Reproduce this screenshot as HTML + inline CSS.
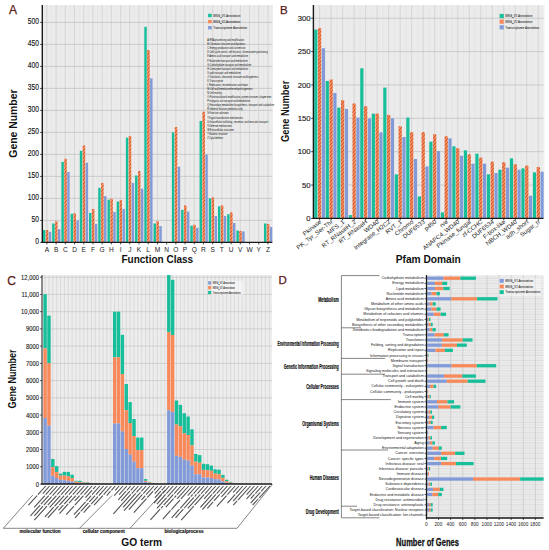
<!DOCTYPE html><html><head><meta charset="utf-8"><style>html,body{margin:0;padding:0;background:#fff;}svg{display:block;font-family:"Liberation Sans",sans-serif;}</style></head><body><svg width="549" height="550" viewBox="0 0 549 550" font-family='"Liberation Sans", sans-serif'>
<rect x="0.00" y="0.00" width="549.00" height="550.00" fill="#ffffff"/>
<rect x="42.30" y="5.00" width="230.00" height="237.40" fill="#ebebeb"/>
<line x1="51.50" y1="5.00" x2="51.48" y2="242.40" stroke="#e0e0e0" stroke-width="0.5"/>
<line x1="60.72" y1="5.00" x2="60.70" y2="242.40" stroke="#e0e0e0" stroke-width="0.5"/>
<line x1="69.92" y1="5.00" x2="69.90" y2="242.40" stroke="#e0e0e0" stroke-width="0.5"/>
<line x1="79.14" y1="5.00" x2="79.11" y2="242.40" stroke="#e0e0e0" stroke-width="0.5"/>
<line x1="88.35" y1="5.00" x2="88.33" y2="242.40" stroke="#e0e0e0" stroke-width="0.5"/>
<line x1="97.56" y1="5.00" x2="97.53" y2="242.40" stroke="#e0e0e0" stroke-width="0.5"/>
<line x1="106.77" y1="5.00" x2="106.74" y2="242.40" stroke="#e0e0e0" stroke-width="0.5"/>
<line x1="115.98" y1="5.00" x2="115.95" y2="242.40" stroke="#e0e0e0" stroke-width="0.5"/>
<line x1="125.19" y1="5.00" x2="125.17" y2="242.40" stroke="#e0e0e0" stroke-width="0.5"/>
<line x1="134.40" y1="5.00" x2="134.38" y2="242.40" stroke="#e0e0e0" stroke-width="0.5"/>
<line x1="143.60" y1="5.00" x2="143.59" y2="242.40" stroke="#e0e0e0" stroke-width="0.5"/>
<line x1="152.81" y1="5.00" x2="152.80" y2="242.40" stroke="#e0e0e0" stroke-width="0.5"/>
<line x1="162.03" y1="5.00" x2="162.01" y2="242.40" stroke="#e0e0e0" stroke-width="0.5"/>
<line x1="171.24" y1="5.00" x2="171.22" y2="242.40" stroke="#e0e0e0" stroke-width="0.5"/>
<line x1="180.44" y1="5.00" x2="180.43" y2="242.40" stroke="#e0e0e0" stroke-width="0.5"/>
<line x1="189.66" y1="5.00" x2="189.64" y2="242.40" stroke="#e0e0e0" stroke-width="0.5"/>
<line x1="198.87" y1="5.00" x2="198.85" y2="242.40" stroke="#e0e0e0" stroke-width="0.5"/>
<line x1="208.08" y1="5.00" x2="208.06" y2="242.40" stroke="#e0e0e0" stroke-width="0.5"/>
<line x1="217.29" y1="5.00" x2="217.27" y2="242.40" stroke="#e0e0e0" stroke-width="0.5"/>
<line x1="226.50" y1="5.00" x2="226.48" y2="242.40" stroke="#e0e0e0" stroke-width="0.5"/>
<line x1="235.71" y1="5.00" x2="235.69" y2="242.40" stroke="#e0e0e0" stroke-width="0.5"/>
<line x1="244.92" y1="5.00" x2="244.90" y2="242.40" stroke="#e0e0e0" stroke-width="0.5"/>
<line x1="254.12" y1="5.00" x2="254.11" y2="242.40" stroke="#e0e0e0" stroke-width="0.5"/>
<line x1="263.34" y1="5.00" x2="263.31" y2="242.40" stroke="#e0e0e0" stroke-width="0.5"/>
<line x1="272.55" y1="5.00" x2="272.52" y2="242.40" stroke="#e0e0e0" stroke-width="0.5"/>
<line x1="46.90" y1="5.00" x2="46.90" y2="242.40" stroke="#cdcdcd" stroke-width="0.7"/>
<line x1="56.11" y1="5.00" x2="56.11" y2="242.40" stroke="#cdcdcd" stroke-width="0.7"/>
<line x1="65.32" y1="5.00" x2="65.32" y2="242.40" stroke="#cdcdcd" stroke-width="0.7"/>
<line x1="74.53" y1="5.00" x2="74.53" y2="242.40" stroke="#cdcdcd" stroke-width="0.7"/>
<line x1="83.74" y1="5.00" x2="83.74" y2="242.40" stroke="#cdcdcd" stroke-width="0.7"/>
<line x1="92.95" y1="5.00" x2="92.95" y2="242.40" stroke="#cdcdcd" stroke-width="0.7"/>
<line x1="102.16" y1="5.00" x2="102.16" y2="242.40" stroke="#cdcdcd" stroke-width="0.7"/>
<line x1="111.37" y1="5.00" x2="111.37" y2="242.40" stroke="#cdcdcd" stroke-width="0.7"/>
<line x1="120.58" y1="5.00" x2="120.58" y2="242.40" stroke="#cdcdcd" stroke-width="0.7"/>
<line x1="129.79" y1="5.00" x2="129.79" y2="242.40" stroke="#cdcdcd" stroke-width="0.7"/>
<line x1="139.00" y1="5.00" x2="139.00" y2="242.40" stroke="#cdcdcd" stroke-width="0.7"/>
<line x1="148.21" y1="5.00" x2="148.21" y2="242.40" stroke="#cdcdcd" stroke-width="0.7"/>
<line x1="157.42" y1="5.00" x2="157.42" y2="242.40" stroke="#cdcdcd" stroke-width="0.7"/>
<line x1="166.63" y1="5.00" x2="166.63" y2="242.40" stroke="#cdcdcd" stroke-width="0.7"/>
<line x1="175.84" y1="5.00" x2="175.84" y2="242.40" stroke="#cdcdcd" stroke-width="0.7"/>
<line x1="185.05" y1="5.00" x2="185.05" y2="242.40" stroke="#cdcdcd" stroke-width="0.7"/>
<line x1="194.26" y1="5.00" x2="194.26" y2="242.40" stroke="#cdcdcd" stroke-width="0.7"/>
<line x1="203.47" y1="5.00" x2="203.47" y2="242.40" stroke="#cdcdcd" stroke-width="0.7"/>
<line x1="212.68" y1="5.00" x2="212.68" y2="242.40" stroke="#cdcdcd" stroke-width="0.7"/>
<line x1="221.89" y1="5.00" x2="221.89" y2="242.40" stroke="#cdcdcd" stroke-width="0.7"/>
<line x1="231.10" y1="5.00" x2="231.10" y2="242.40" stroke="#cdcdcd" stroke-width="0.7"/>
<line x1="240.31" y1="5.00" x2="240.31" y2="242.40" stroke="#cdcdcd" stroke-width="0.7"/>
<line x1="249.52" y1="5.00" x2="249.52" y2="242.40" stroke="#cdcdcd" stroke-width="0.7"/>
<line x1="258.73" y1="5.00" x2="258.73" y2="242.40" stroke="#cdcdcd" stroke-width="0.7"/>
<line x1="267.94" y1="5.00" x2="267.94" y2="242.40" stroke="#cdcdcd" stroke-width="0.7"/>
<line x1="42.30" y1="220.40" x2="272.30" y2="220.40" stroke="#bdbdbd" stroke-width="0.7"/>
<line x1="42.30" y1="198.40" x2="272.30" y2="198.40" stroke="#bdbdbd" stroke-width="0.7"/>
<line x1="42.30" y1="176.40" x2="272.30" y2="176.40" stroke="#bdbdbd" stroke-width="0.7"/>
<line x1="42.30" y1="154.40" x2="272.30" y2="154.40" stroke="#bdbdbd" stroke-width="0.7"/>
<line x1="42.30" y1="132.40" x2="272.30" y2="132.40" stroke="#bdbdbd" stroke-width="0.7"/>
<line x1="42.30" y1="110.40" x2="272.30" y2="110.40" stroke="#bdbdbd" stroke-width="0.7"/>
<line x1="42.30" y1="88.40" x2="272.30" y2="88.40" stroke="#bdbdbd" stroke-width="0.7"/>
<line x1="42.30" y1="66.40" x2="272.30" y2="66.40" stroke="#bdbdbd" stroke-width="0.7"/>
<line x1="42.30" y1="44.40" x2="272.30" y2="44.40" stroke="#bdbdbd" stroke-width="0.7"/>
<line x1="42.30" y1="22.40" x2="272.30" y2="22.40" stroke="#bdbdbd" stroke-width="0.7"/>
<rect x="42.97" y="230.08" width="2.45" height="12.32" fill="#17be9a"/>
<rect x="45.88" y="230.08" width="2.45" height="12.32" fill="#f7895a"/>
<rect x="48.77" y="231.84" width="2.45" height="10.56" fill="#829bd8"/>
<rect x="52.18" y="223.48" width="2.45" height="18.92" fill="#17be9a"/>
<rect x="55.09" y="221.28" width="2.45" height="21.12" fill="#f7895a"/>
<rect x="57.98" y="229.20" width="2.45" height="13.20" fill="#829bd8"/>
<rect x="61.39" y="161.88" width="2.45" height="80.52" fill="#17be9a"/>
<rect x="64.30" y="158.80" width="2.45" height="83.60" fill="#f7895a"/>
<rect x="67.19" y="172.00" width="2.45" height="70.40" fill="#829bd8"/>
<rect x="70.61" y="213.80" width="2.45" height="28.60" fill="#17be9a"/>
<rect x="73.51" y="213.36" width="2.45" height="29.04" fill="#f7895a"/>
<rect x="76.41" y="220.40" width="2.45" height="22.00" fill="#829bd8"/>
<rect x="79.82" y="150.88" width="2.45" height="91.52" fill="#17be9a"/>
<rect x="82.72" y="145.60" width="2.45" height="96.80" fill="#f7895a"/>
<rect x="85.62" y="162.76" width="2.45" height="79.64" fill="#829bd8"/>
<rect x="89.03" y="212.92" width="2.45" height="29.48" fill="#17be9a"/>
<rect x="91.93" y="208.96" width="2.45" height="33.44" fill="#f7895a"/>
<rect x="94.83" y="223.92" width="2.45" height="18.48" fill="#829bd8"/>
<rect x="98.23" y="187.84" width="2.45" height="54.56" fill="#17be9a"/>
<rect x="101.14" y="183.00" width="2.45" height="59.40" fill="#f7895a"/>
<rect x="104.03" y="196.20" width="2.45" height="46.20" fill="#829bd8"/>
<rect x="107.45" y="199.72" width="2.45" height="42.68" fill="#17be9a"/>
<rect x="110.35" y="198.84" width="2.45" height="43.56" fill="#f7895a"/>
<rect x="113.25" y="212.04" width="2.45" height="30.36" fill="#829bd8"/>
<rect x="116.66" y="201.48" width="2.45" height="40.92" fill="#17be9a"/>
<rect x="119.56" y="200.16" width="2.45" height="42.24" fill="#f7895a"/>
<rect x="122.46" y="208.96" width="2.45" height="33.44" fill="#829bd8"/>
<rect x="125.87" y="137.68" width="2.45" height="104.72" fill="#17be9a"/>
<rect x="128.77" y="135.92" width="2.45" height="106.48" fill="#f7895a"/>
<rect x="131.67" y="183.00" width="2.45" height="59.40" fill="#829bd8"/>
<rect x="135.08" y="175.52" width="2.45" height="66.88" fill="#17be9a"/>
<rect x="137.97" y="171.12" width="2.45" height="71.28" fill="#f7895a"/>
<rect x="140.88" y="188.72" width="2.45" height="53.68" fill="#829bd8"/>
<rect x="144.29" y="26.80" width="2.45" height="215.60" fill="#17be9a"/>
<rect x="147.19" y="50.12" width="2.45" height="192.28" fill="#f7895a"/>
<rect x="150.09" y="78.28" width="2.45" height="164.12" fill="#829bd8"/>
<rect x="153.50" y="223.48" width="2.45" height="18.92" fill="#17be9a"/>
<rect x="156.40" y="221.28" width="2.45" height="21.12" fill="#f7895a"/>
<rect x="159.30" y="226.12" width="2.45" height="16.28" fill="#829bd8"/>
<rect x="171.92" y="132.40" width="2.45" height="110.00" fill="#17be9a"/>
<rect x="174.81" y="127.12" width="2.45" height="115.28" fill="#f7895a"/>
<rect x="177.72" y="166.72" width="2.45" height="75.68" fill="#829bd8"/>
<rect x="181.13" y="209.84" width="2.45" height="32.56" fill="#17be9a"/>
<rect x="184.03" y="205.44" width="2.45" height="36.96" fill="#f7895a"/>
<rect x="186.93" y="211.60" width="2.45" height="30.80" fill="#829bd8"/>
<rect x="190.34" y="225.68" width="2.45" height="16.72" fill="#17be9a"/>
<rect x="193.24" y="224.80" width="2.45" height="17.60" fill="#f7895a"/>
<rect x="196.14" y="227.88" width="2.45" height="14.52" fill="#829bd8"/>
<rect x="199.55" y="120.96" width="2.45" height="121.44" fill="#17be9a"/>
<rect x="202.45" y="111.72" width="2.45" height="130.68" fill="#f7895a"/>
<rect x="205.35" y="154.40" width="2.45" height="88.00" fill="#829bd8"/>
<rect x="208.76" y="198.40" width="2.45" height="44.00" fill="#17be9a"/>
<rect x="211.66" y="197.52" width="2.45" height="44.88" fill="#f7895a"/>
<rect x="214.56" y="216.00" width="2.45" height="26.40" fill="#829bd8"/>
<rect x="217.97" y="206.32" width="2.45" height="36.08" fill="#17be9a"/>
<rect x="220.87" y="205.44" width="2.45" height="36.96" fill="#f7895a"/>
<rect x="223.77" y="216.00" width="2.45" height="26.40" fill="#829bd8"/>
<rect x="227.18" y="214.24" width="2.45" height="28.16" fill="#17be9a"/>
<rect x="230.08" y="212.48" width="2.45" height="29.92" fill="#f7895a"/>
<rect x="232.98" y="223.04" width="2.45" height="19.36" fill="#829bd8"/>
<rect x="236.39" y="230.52" width="2.45" height="11.88" fill="#17be9a"/>
<rect x="239.29" y="230.96" width="2.45" height="11.44" fill="#f7895a"/>
<rect x="242.19" y="231.40" width="2.45" height="11.00" fill="#829bd8"/>
<rect x="264.01" y="223.48" width="2.45" height="18.92" fill="#17be9a"/>
<rect x="266.91" y="223.92" width="2.45" height="18.48" fill="#f7895a"/>
<rect x="269.81" y="227.00" width="2.45" height="15.40" fill="#829bd8"/>
<clipPath id="clipA"><rect x="45.88" y="230.08" width="2.45" height="12.32"/><rect x="55.09" y="221.28" width="2.45" height="21.12"/><rect x="64.30" y="158.80" width="2.45" height="83.60"/><rect x="73.51" y="213.36" width="2.45" height="29.04"/><rect x="82.72" y="145.60" width="2.45" height="96.80"/><rect x="91.93" y="208.96" width="2.45" height="33.44"/><rect x="101.14" y="183.00" width="2.45" height="59.40"/><rect x="110.35" y="198.84" width="2.45" height="43.56"/><rect x="119.56" y="200.16" width="2.45" height="42.24"/><rect x="128.77" y="135.92" width="2.45" height="106.48"/><rect x="137.97" y="171.12" width="2.45" height="71.28"/><rect x="147.19" y="50.12" width="2.45" height="192.28"/><rect x="156.40" y="221.28" width="2.45" height="21.12"/><rect x="165.61" y="242.40" width="2.45" height="0.00"/><rect x="174.81" y="127.12" width="2.45" height="115.28"/><rect x="184.03" y="205.44" width="2.45" height="36.96"/><rect x="193.24" y="224.80" width="2.45" height="17.60"/><rect x="202.45" y="111.72" width="2.45" height="130.68"/><rect x="211.66" y="197.52" width="2.45" height="44.88"/><rect x="220.87" y="205.44" width="2.45" height="36.96"/><rect x="230.08" y="212.48" width="2.45" height="29.92"/><rect x="239.29" y="230.96" width="2.45" height="11.44"/><rect x="248.50" y="242.40" width="2.45" height="0.00"/><rect x="257.70" y="242.40" width="2.45" height="0.00"/><rect x="266.91" y="223.92" width="2.45" height="18.48"/></clipPath>
<g clip-path="url(#clipA)" stroke="#bb4a22" stroke-width="0.85">
<line x1="45.38" y1="244.40" x2="48.83" y2="240.29"/>
<line x1="45.38" y1="240.70" x2="48.83" y2="236.59"/>
<line x1="45.38" y1="237.00" x2="48.83" y2="232.89"/>
<line x1="45.38" y1="233.30" x2="48.83" y2="229.19"/>
<line x1="54.59" y1="244.40" x2="58.04" y2="240.29"/>
<line x1="54.59" y1="240.70" x2="58.04" y2="236.59"/>
<line x1="54.59" y1="237.00" x2="58.04" y2="232.89"/>
<line x1="54.59" y1="233.30" x2="58.04" y2="229.19"/>
<line x1="54.59" y1="229.60" x2="58.04" y2="225.49"/>
<line x1="54.59" y1="225.90" x2="58.04" y2="221.79"/>
<line x1="54.59" y1="222.20" x2="58.04" y2="218.09"/>
<line x1="63.80" y1="244.40" x2="67.25" y2="240.29"/>
<line x1="63.80" y1="240.70" x2="67.25" y2="236.59"/>
<line x1="63.80" y1="237.00" x2="67.25" y2="232.89"/>
<line x1="63.80" y1="233.30" x2="67.25" y2="229.19"/>
<line x1="63.80" y1="229.60" x2="67.25" y2="225.49"/>
<line x1="63.80" y1="225.90" x2="67.25" y2="221.79"/>
<line x1="63.80" y1="222.20" x2="67.25" y2="218.09"/>
<line x1="63.80" y1="218.50" x2="67.25" y2="214.39"/>
<line x1="63.80" y1="214.80" x2="67.25" y2="210.69"/>
<line x1="63.80" y1="211.10" x2="67.25" y2="206.99"/>
<line x1="63.80" y1="207.40" x2="67.25" y2="203.29"/>
<line x1="63.80" y1="203.70" x2="67.25" y2="199.59"/>
<line x1="63.80" y1="200.00" x2="67.25" y2="195.89"/>
<line x1="63.80" y1="196.30" x2="67.25" y2="192.19"/>
<line x1="63.80" y1="192.60" x2="67.25" y2="188.49"/>
<line x1="63.80" y1="188.90" x2="67.25" y2="184.79"/>
<line x1="63.80" y1="185.20" x2="67.25" y2="181.09"/>
<line x1="63.80" y1="181.50" x2="67.25" y2="177.39"/>
<line x1="63.80" y1="177.80" x2="67.25" y2="173.69"/>
<line x1="63.80" y1="174.10" x2="67.25" y2="169.99"/>
<line x1="63.80" y1="170.40" x2="67.25" y2="166.29"/>
<line x1="63.80" y1="166.70" x2="67.25" y2="162.59"/>
<line x1="63.80" y1="163.00" x2="67.25" y2="158.89"/>
<line x1="63.80" y1="159.30" x2="67.25" y2="155.19"/>
<line x1="73.01" y1="244.40" x2="76.46" y2="240.29"/>
<line x1="73.01" y1="240.70" x2="76.46" y2="236.59"/>
<line x1="73.01" y1="237.00" x2="76.46" y2="232.89"/>
<line x1="73.01" y1="233.30" x2="76.46" y2="229.19"/>
<line x1="73.01" y1="229.60" x2="76.46" y2="225.49"/>
<line x1="73.01" y1="225.90" x2="76.46" y2="221.79"/>
<line x1="73.01" y1="222.20" x2="76.46" y2="218.09"/>
<line x1="73.01" y1="218.50" x2="76.46" y2="214.39"/>
<line x1="73.01" y1="214.80" x2="76.46" y2="210.69"/>
<line x1="82.22" y1="244.40" x2="85.67" y2="240.29"/>
<line x1="82.22" y1="240.70" x2="85.67" y2="236.59"/>
<line x1="82.22" y1="237.00" x2="85.67" y2="232.89"/>
<line x1="82.22" y1="233.30" x2="85.67" y2="229.19"/>
<line x1="82.22" y1="229.60" x2="85.67" y2="225.49"/>
<line x1="82.22" y1="225.90" x2="85.67" y2="221.79"/>
<line x1="82.22" y1="222.20" x2="85.67" y2="218.09"/>
<line x1="82.22" y1="218.50" x2="85.67" y2="214.39"/>
<line x1="82.22" y1="214.80" x2="85.67" y2="210.69"/>
<line x1="82.22" y1="211.10" x2="85.67" y2="206.99"/>
<line x1="82.22" y1="207.40" x2="85.67" y2="203.29"/>
<line x1="82.22" y1="203.70" x2="85.67" y2="199.59"/>
<line x1="82.22" y1="200.00" x2="85.67" y2="195.89"/>
<line x1="82.22" y1="196.30" x2="85.67" y2="192.19"/>
<line x1="82.22" y1="192.60" x2="85.67" y2="188.49"/>
<line x1="82.22" y1="188.90" x2="85.67" y2="184.79"/>
<line x1="82.22" y1="185.20" x2="85.67" y2="181.09"/>
<line x1="82.22" y1="181.50" x2="85.67" y2="177.39"/>
<line x1="82.22" y1="177.80" x2="85.67" y2="173.69"/>
<line x1="82.22" y1="174.10" x2="85.67" y2="169.99"/>
<line x1="82.22" y1="170.40" x2="85.67" y2="166.29"/>
<line x1="82.22" y1="166.70" x2="85.67" y2="162.59"/>
<line x1="82.22" y1="163.00" x2="85.67" y2="158.89"/>
<line x1="82.22" y1="159.30" x2="85.67" y2="155.19"/>
<line x1="82.22" y1="155.60" x2="85.67" y2="151.49"/>
<line x1="82.22" y1="151.90" x2="85.67" y2="147.79"/>
<line x1="82.22" y1="148.20" x2="85.67" y2="144.09"/>
<line x1="91.43" y1="244.40" x2="94.88" y2="240.29"/>
<line x1="91.43" y1="240.70" x2="94.88" y2="236.59"/>
<line x1="91.43" y1="237.00" x2="94.88" y2="232.89"/>
<line x1="91.43" y1="233.30" x2="94.88" y2="229.19"/>
<line x1="91.43" y1="229.60" x2="94.88" y2="225.49"/>
<line x1="91.43" y1="225.90" x2="94.88" y2="221.79"/>
<line x1="91.43" y1="222.20" x2="94.88" y2="218.09"/>
<line x1="91.43" y1="218.50" x2="94.88" y2="214.39"/>
<line x1="91.43" y1="214.80" x2="94.88" y2="210.69"/>
<line x1="91.43" y1="211.10" x2="94.88" y2="206.99"/>
<line x1="100.64" y1="244.40" x2="104.09" y2="240.29"/>
<line x1="100.64" y1="240.70" x2="104.09" y2="236.59"/>
<line x1="100.64" y1="237.00" x2="104.09" y2="232.89"/>
<line x1="100.64" y1="233.30" x2="104.09" y2="229.19"/>
<line x1="100.64" y1="229.60" x2="104.09" y2="225.49"/>
<line x1="100.64" y1="225.90" x2="104.09" y2="221.79"/>
<line x1="100.64" y1="222.20" x2="104.09" y2="218.09"/>
<line x1="100.64" y1="218.50" x2="104.09" y2="214.39"/>
<line x1="100.64" y1="214.80" x2="104.09" y2="210.69"/>
<line x1="100.64" y1="211.10" x2="104.09" y2="206.99"/>
<line x1="100.64" y1="207.40" x2="104.09" y2="203.29"/>
<line x1="100.64" y1="203.70" x2="104.09" y2="199.59"/>
<line x1="100.64" y1="200.00" x2="104.09" y2="195.89"/>
<line x1="100.64" y1="196.30" x2="104.09" y2="192.19"/>
<line x1="100.64" y1="192.60" x2="104.09" y2="188.49"/>
<line x1="100.64" y1="188.90" x2="104.09" y2="184.79"/>
<line x1="100.64" y1="185.20" x2="104.09" y2="181.09"/>
<line x1="109.85" y1="244.40" x2="113.30" y2="240.29"/>
<line x1="109.85" y1="240.70" x2="113.30" y2="236.59"/>
<line x1="109.85" y1="237.00" x2="113.30" y2="232.89"/>
<line x1="109.85" y1="233.30" x2="113.30" y2="229.19"/>
<line x1="109.85" y1="229.60" x2="113.30" y2="225.49"/>
<line x1="109.85" y1="225.90" x2="113.30" y2="221.79"/>
<line x1="109.85" y1="222.20" x2="113.30" y2="218.09"/>
<line x1="109.85" y1="218.50" x2="113.30" y2="214.39"/>
<line x1="109.85" y1="214.80" x2="113.30" y2="210.69"/>
<line x1="109.85" y1="211.10" x2="113.30" y2="206.99"/>
<line x1="109.85" y1="207.40" x2="113.30" y2="203.29"/>
<line x1="109.85" y1="203.70" x2="113.30" y2="199.59"/>
<line x1="109.85" y1="200.00" x2="113.30" y2="195.89"/>
<line x1="119.06" y1="244.40" x2="122.51" y2="240.29"/>
<line x1="119.06" y1="240.70" x2="122.51" y2="236.59"/>
<line x1="119.06" y1="237.00" x2="122.51" y2="232.89"/>
<line x1="119.06" y1="233.30" x2="122.51" y2="229.19"/>
<line x1="119.06" y1="229.60" x2="122.51" y2="225.49"/>
<line x1="119.06" y1="225.90" x2="122.51" y2="221.79"/>
<line x1="119.06" y1="222.20" x2="122.51" y2="218.09"/>
<line x1="119.06" y1="218.50" x2="122.51" y2="214.39"/>
<line x1="119.06" y1="214.80" x2="122.51" y2="210.69"/>
<line x1="119.06" y1="211.10" x2="122.51" y2="206.99"/>
<line x1="119.06" y1="207.40" x2="122.51" y2="203.29"/>
<line x1="119.06" y1="203.70" x2="122.51" y2="199.59"/>
<line x1="128.27" y1="244.40" x2="131.72" y2="240.29"/>
<line x1="128.27" y1="240.70" x2="131.72" y2="236.59"/>
<line x1="128.27" y1="237.00" x2="131.72" y2="232.89"/>
<line x1="128.27" y1="233.30" x2="131.72" y2="229.19"/>
<line x1="128.27" y1="229.60" x2="131.72" y2="225.49"/>
<line x1="128.27" y1="225.90" x2="131.72" y2="221.79"/>
<line x1="128.27" y1="222.20" x2="131.72" y2="218.09"/>
<line x1="128.27" y1="218.50" x2="131.72" y2="214.39"/>
<line x1="128.27" y1="214.80" x2="131.72" y2="210.69"/>
<line x1="128.27" y1="211.10" x2="131.72" y2="206.99"/>
<line x1="128.27" y1="207.40" x2="131.72" y2="203.29"/>
<line x1="128.27" y1="203.70" x2="131.72" y2="199.59"/>
<line x1="128.27" y1="200.00" x2="131.72" y2="195.89"/>
<line x1="128.27" y1="196.30" x2="131.72" y2="192.19"/>
<line x1="128.27" y1="192.60" x2="131.72" y2="188.49"/>
<line x1="128.27" y1="188.90" x2="131.72" y2="184.79"/>
<line x1="128.27" y1="185.20" x2="131.72" y2="181.09"/>
<line x1="128.27" y1="181.50" x2="131.72" y2="177.39"/>
<line x1="128.27" y1="177.80" x2="131.72" y2="173.69"/>
<line x1="128.27" y1="174.10" x2="131.72" y2="169.99"/>
<line x1="128.27" y1="170.40" x2="131.72" y2="166.29"/>
<line x1="128.27" y1="166.70" x2="131.72" y2="162.59"/>
<line x1="128.27" y1="163.00" x2="131.72" y2="158.89"/>
<line x1="128.27" y1="159.30" x2="131.72" y2="155.19"/>
<line x1="128.27" y1="155.60" x2="131.72" y2="151.49"/>
<line x1="128.27" y1="151.90" x2="131.72" y2="147.79"/>
<line x1="128.27" y1="148.20" x2="131.72" y2="144.09"/>
<line x1="128.27" y1="144.50" x2="131.72" y2="140.39"/>
<line x1="128.27" y1="140.80" x2="131.72" y2="136.69"/>
<line x1="128.27" y1="137.10" x2="131.72" y2="132.99"/>
<line x1="137.47" y1="244.40" x2="140.92" y2="240.29"/>
<line x1="137.47" y1="240.70" x2="140.92" y2="236.59"/>
<line x1="137.47" y1="237.00" x2="140.92" y2="232.89"/>
<line x1="137.47" y1="233.30" x2="140.92" y2="229.19"/>
<line x1="137.47" y1="229.60" x2="140.92" y2="225.49"/>
<line x1="137.47" y1="225.90" x2="140.92" y2="221.79"/>
<line x1="137.47" y1="222.20" x2="140.92" y2="218.09"/>
<line x1="137.47" y1="218.50" x2="140.92" y2="214.39"/>
<line x1="137.47" y1="214.80" x2="140.92" y2="210.69"/>
<line x1="137.47" y1="211.10" x2="140.92" y2="206.99"/>
<line x1="137.47" y1="207.40" x2="140.92" y2="203.29"/>
<line x1="137.47" y1="203.70" x2="140.92" y2="199.59"/>
<line x1="137.47" y1="200.00" x2="140.92" y2="195.89"/>
<line x1="137.47" y1="196.30" x2="140.92" y2="192.19"/>
<line x1="137.47" y1="192.60" x2="140.92" y2="188.49"/>
<line x1="137.47" y1="188.90" x2="140.92" y2="184.79"/>
<line x1="137.47" y1="185.20" x2="140.92" y2="181.09"/>
<line x1="137.47" y1="181.50" x2="140.92" y2="177.39"/>
<line x1="137.47" y1="177.80" x2="140.92" y2="173.69"/>
<line x1="137.47" y1="174.10" x2="140.92" y2="169.99"/>
<line x1="146.69" y1="244.40" x2="150.13" y2="240.29"/>
<line x1="146.69" y1="240.70" x2="150.13" y2="236.59"/>
<line x1="146.69" y1="237.00" x2="150.13" y2="232.89"/>
<line x1="146.69" y1="233.30" x2="150.13" y2="229.19"/>
<line x1="146.69" y1="229.60" x2="150.13" y2="225.49"/>
<line x1="146.69" y1="225.90" x2="150.13" y2="221.79"/>
<line x1="146.69" y1="222.20" x2="150.13" y2="218.09"/>
<line x1="146.69" y1="218.50" x2="150.13" y2="214.39"/>
<line x1="146.69" y1="214.80" x2="150.13" y2="210.69"/>
<line x1="146.69" y1="211.10" x2="150.13" y2="206.99"/>
<line x1="146.69" y1="207.40" x2="150.13" y2="203.29"/>
<line x1="146.69" y1="203.70" x2="150.13" y2="199.59"/>
<line x1="146.69" y1="200.00" x2="150.13" y2="195.89"/>
<line x1="146.69" y1="196.30" x2="150.13" y2="192.19"/>
<line x1="146.69" y1="192.60" x2="150.13" y2="188.49"/>
<line x1="146.69" y1="188.90" x2="150.13" y2="184.79"/>
<line x1="146.69" y1="185.20" x2="150.13" y2="181.09"/>
<line x1="146.69" y1="181.50" x2="150.13" y2="177.39"/>
<line x1="146.69" y1="177.80" x2="150.13" y2="173.69"/>
<line x1="146.69" y1="174.10" x2="150.13" y2="169.99"/>
<line x1="146.69" y1="170.40" x2="150.13" y2="166.29"/>
<line x1="146.69" y1="166.70" x2="150.13" y2="162.59"/>
<line x1="146.69" y1="163.00" x2="150.13" y2="158.89"/>
<line x1="146.69" y1="159.30" x2="150.13" y2="155.19"/>
<line x1="146.69" y1="155.60" x2="150.13" y2="151.49"/>
<line x1="146.69" y1="151.90" x2="150.13" y2="147.79"/>
<line x1="146.69" y1="148.20" x2="150.13" y2="144.09"/>
<line x1="146.69" y1="144.50" x2="150.13" y2="140.39"/>
<line x1="146.69" y1="140.80" x2="150.13" y2="136.69"/>
<line x1="146.69" y1="137.10" x2="150.13" y2="132.99"/>
<line x1="146.69" y1="133.40" x2="150.13" y2="129.29"/>
<line x1="146.69" y1="129.70" x2="150.13" y2="125.59"/>
<line x1="146.69" y1="126.00" x2="150.13" y2="121.89"/>
<line x1="146.69" y1="122.30" x2="150.13" y2="118.19"/>
<line x1="146.69" y1="118.60" x2="150.13" y2="114.49"/>
<line x1="146.69" y1="114.90" x2="150.13" y2="110.79"/>
<line x1="146.69" y1="111.20" x2="150.13" y2="107.09"/>
<line x1="146.69" y1="107.50" x2="150.13" y2="103.39"/>
<line x1="146.69" y1="103.80" x2="150.13" y2="99.69"/>
<line x1="146.69" y1="100.10" x2="150.13" y2="95.99"/>
<line x1="146.69" y1="96.40" x2="150.13" y2="92.29"/>
<line x1="146.69" y1="92.70" x2="150.13" y2="88.59"/>
<line x1="146.69" y1="89.00" x2="150.13" y2="84.89"/>
<line x1="146.69" y1="85.30" x2="150.13" y2="81.19"/>
<line x1="146.69" y1="81.60" x2="150.13" y2="77.49"/>
<line x1="146.69" y1="77.90" x2="150.13" y2="73.79"/>
<line x1="146.69" y1="74.20" x2="150.13" y2="70.09"/>
<line x1="146.69" y1="70.50" x2="150.13" y2="66.39"/>
<line x1="146.69" y1="66.80" x2="150.13" y2="62.69"/>
<line x1="146.69" y1="63.10" x2="150.13" y2="58.99"/>
<line x1="146.69" y1="59.40" x2="150.13" y2="55.29"/>
<line x1="146.69" y1="55.70" x2="150.13" y2="51.59"/>
<line x1="146.69" y1="52.00" x2="150.13" y2="47.89"/>
<line x1="155.90" y1="244.40" x2="159.34" y2="240.29"/>
<line x1="155.90" y1="240.70" x2="159.34" y2="236.59"/>
<line x1="155.90" y1="237.00" x2="159.34" y2="232.89"/>
<line x1="155.90" y1="233.30" x2="159.34" y2="229.19"/>
<line x1="155.90" y1="229.60" x2="159.34" y2="225.49"/>
<line x1="155.90" y1="225.90" x2="159.34" y2="221.79"/>
<line x1="155.90" y1="222.20" x2="159.34" y2="218.09"/>
<line x1="165.11" y1="244.40" x2="168.56" y2="240.29"/>
<line x1="174.31" y1="244.40" x2="177.76" y2="240.29"/>
<line x1="174.31" y1="240.70" x2="177.76" y2="236.59"/>
<line x1="174.31" y1="237.00" x2="177.76" y2="232.89"/>
<line x1="174.31" y1="233.30" x2="177.76" y2="229.19"/>
<line x1="174.31" y1="229.60" x2="177.76" y2="225.49"/>
<line x1="174.31" y1="225.90" x2="177.76" y2="221.79"/>
<line x1="174.31" y1="222.20" x2="177.76" y2="218.09"/>
<line x1="174.31" y1="218.50" x2="177.76" y2="214.39"/>
<line x1="174.31" y1="214.80" x2="177.76" y2="210.69"/>
<line x1="174.31" y1="211.10" x2="177.76" y2="206.99"/>
<line x1="174.31" y1="207.40" x2="177.76" y2="203.29"/>
<line x1="174.31" y1="203.70" x2="177.76" y2="199.59"/>
<line x1="174.31" y1="200.00" x2="177.76" y2="195.89"/>
<line x1="174.31" y1="196.30" x2="177.76" y2="192.19"/>
<line x1="174.31" y1="192.60" x2="177.76" y2="188.49"/>
<line x1="174.31" y1="188.90" x2="177.76" y2="184.79"/>
<line x1="174.31" y1="185.20" x2="177.76" y2="181.09"/>
<line x1="174.31" y1="181.50" x2="177.76" y2="177.39"/>
<line x1="174.31" y1="177.80" x2="177.76" y2="173.69"/>
<line x1="174.31" y1="174.10" x2="177.76" y2="169.99"/>
<line x1="174.31" y1="170.40" x2="177.76" y2="166.29"/>
<line x1="174.31" y1="166.70" x2="177.76" y2="162.59"/>
<line x1="174.31" y1="163.00" x2="177.76" y2="158.89"/>
<line x1="174.31" y1="159.30" x2="177.76" y2="155.19"/>
<line x1="174.31" y1="155.60" x2="177.76" y2="151.49"/>
<line x1="174.31" y1="151.90" x2="177.76" y2="147.79"/>
<line x1="174.31" y1="148.20" x2="177.76" y2="144.09"/>
<line x1="174.31" y1="144.50" x2="177.76" y2="140.39"/>
<line x1="174.31" y1="140.80" x2="177.76" y2="136.69"/>
<line x1="174.31" y1="137.10" x2="177.76" y2="132.99"/>
<line x1="174.31" y1="133.40" x2="177.76" y2="129.29"/>
<line x1="174.31" y1="129.70" x2="177.76" y2="125.59"/>
<line x1="183.53" y1="244.40" x2="186.97" y2="240.29"/>
<line x1="183.53" y1="240.70" x2="186.97" y2="236.59"/>
<line x1="183.53" y1="237.00" x2="186.97" y2="232.89"/>
<line x1="183.53" y1="233.30" x2="186.97" y2="229.19"/>
<line x1="183.53" y1="229.60" x2="186.97" y2="225.49"/>
<line x1="183.53" y1="225.90" x2="186.97" y2="221.79"/>
<line x1="183.53" y1="222.20" x2="186.97" y2="218.09"/>
<line x1="183.53" y1="218.50" x2="186.97" y2="214.39"/>
<line x1="183.53" y1="214.80" x2="186.97" y2="210.69"/>
<line x1="183.53" y1="211.10" x2="186.97" y2="206.99"/>
<line x1="183.53" y1="207.40" x2="186.97" y2="203.29"/>
<line x1="192.74" y1="244.40" x2="196.19" y2="240.29"/>
<line x1="192.74" y1="240.70" x2="196.19" y2="236.59"/>
<line x1="192.74" y1="237.00" x2="196.19" y2="232.89"/>
<line x1="192.74" y1="233.30" x2="196.19" y2="229.19"/>
<line x1="192.74" y1="229.60" x2="196.19" y2="225.49"/>
<line x1="192.74" y1="225.90" x2="196.19" y2="221.79"/>
<line x1="201.95" y1="244.40" x2="205.40" y2="240.29"/>
<line x1="201.95" y1="240.70" x2="205.40" y2="236.59"/>
<line x1="201.95" y1="237.00" x2="205.40" y2="232.89"/>
<line x1="201.95" y1="233.30" x2="205.40" y2="229.19"/>
<line x1="201.95" y1="229.60" x2="205.40" y2="225.49"/>
<line x1="201.95" y1="225.90" x2="205.40" y2="221.79"/>
<line x1="201.95" y1="222.20" x2="205.40" y2="218.09"/>
<line x1="201.95" y1="218.50" x2="205.40" y2="214.39"/>
<line x1="201.95" y1="214.80" x2="205.40" y2="210.69"/>
<line x1="201.95" y1="211.10" x2="205.40" y2="206.99"/>
<line x1="201.95" y1="207.40" x2="205.40" y2="203.29"/>
<line x1="201.95" y1="203.70" x2="205.40" y2="199.59"/>
<line x1="201.95" y1="200.00" x2="205.40" y2="195.89"/>
<line x1="201.95" y1="196.30" x2="205.40" y2="192.19"/>
<line x1="201.95" y1="192.60" x2="205.40" y2="188.49"/>
<line x1="201.95" y1="188.90" x2="205.40" y2="184.79"/>
<line x1="201.95" y1="185.20" x2="205.40" y2="181.09"/>
<line x1="201.95" y1="181.50" x2="205.40" y2="177.39"/>
<line x1="201.95" y1="177.80" x2="205.40" y2="173.69"/>
<line x1="201.95" y1="174.10" x2="205.40" y2="169.99"/>
<line x1="201.95" y1="170.40" x2="205.40" y2="166.29"/>
<line x1="201.95" y1="166.70" x2="205.40" y2="162.59"/>
<line x1="201.95" y1="163.00" x2="205.40" y2="158.89"/>
<line x1="201.95" y1="159.30" x2="205.40" y2="155.19"/>
<line x1="201.95" y1="155.60" x2="205.40" y2="151.49"/>
<line x1="201.95" y1="151.90" x2="205.40" y2="147.79"/>
<line x1="201.95" y1="148.20" x2="205.40" y2="144.09"/>
<line x1="201.95" y1="144.50" x2="205.40" y2="140.39"/>
<line x1="201.95" y1="140.80" x2="205.40" y2="136.69"/>
<line x1="201.95" y1="137.10" x2="205.40" y2="132.99"/>
<line x1="201.95" y1="133.40" x2="205.40" y2="129.29"/>
<line x1="201.95" y1="129.70" x2="205.40" y2="125.59"/>
<line x1="201.95" y1="126.00" x2="205.40" y2="121.89"/>
<line x1="201.95" y1="122.30" x2="205.40" y2="118.19"/>
<line x1="201.95" y1="118.60" x2="205.40" y2="114.49"/>
<line x1="201.95" y1="114.90" x2="205.40" y2="110.79"/>
<line x1="211.16" y1="244.40" x2="214.61" y2="240.29"/>
<line x1="211.16" y1="240.70" x2="214.61" y2="236.59"/>
<line x1="211.16" y1="237.00" x2="214.61" y2="232.89"/>
<line x1="211.16" y1="233.30" x2="214.61" y2="229.19"/>
<line x1="211.16" y1="229.60" x2="214.61" y2="225.49"/>
<line x1="211.16" y1="225.90" x2="214.61" y2="221.79"/>
<line x1="211.16" y1="222.20" x2="214.61" y2="218.09"/>
<line x1="211.16" y1="218.50" x2="214.61" y2="214.39"/>
<line x1="211.16" y1="214.80" x2="214.61" y2="210.69"/>
<line x1="211.16" y1="211.10" x2="214.61" y2="206.99"/>
<line x1="211.16" y1="207.40" x2="214.61" y2="203.29"/>
<line x1="211.16" y1="203.70" x2="214.61" y2="199.59"/>
<line x1="211.16" y1="200.00" x2="214.61" y2="195.89"/>
<line x1="220.37" y1="244.40" x2="223.81" y2="240.29"/>
<line x1="220.37" y1="240.70" x2="223.81" y2="236.59"/>
<line x1="220.37" y1="237.00" x2="223.81" y2="232.89"/>
<line x1="220.37" y1="233.30" x2="223.81" y2="229.19"/>
<line x1="220.37" y1="229.60" x2="223.81" y2="225.49"/>
<line x1="220.37" y1="225.90" x2="223.81" y2="221.79"/>
<line x1="220.37" y1="222.20" x2="223.81" y2="218.09"/>
<line x1="220.37" y1="218.50" x2="223.81" y2="214.39"/>
<line x1="220.37" y1="214.80" x2="223.81" y2="210.69"/>
<line x1="220.37" y1="211.10" x2="223.81" y2="206.99"/>
<line x1="220.37" y1="207.40" x2="223.81" y2="203.29"/>
<line x1="229.58" y1="244.40" x2="233.03" y2="240.29"/>
<line x1="229.58" y1="240.70" x2="233.03" y2="236.59"/>
<line x1="229.58" y1="237.00" x2="233.03" y2="232.89"/>
<line x1="229.58" y1="233.30" x2="233.03" y2="229.19"/>
<line x1="229.58" y1="229.60" x2="233.03" y2="225.49"/>
<line x1="229.58" y1="225.90" x2="233.03" y2="221.79"/>
<line x1="229.58" y1="222.20" x2="233.03" y2="218.09"/>
<line x1="229.58" y1="218.50" x2="233.03" y2="214.39"/>
<line x1="229.58" y1="214.80" x2="233.03" y2="210.69"/>
<line x1="238.79" y1="244.40" x2="242.24" y2="240.29"/>
<line x1="238.79" y1="240.70" x2="242.24" y2="236.59"/>
<line x1="238.79" y1="237.00" x2="242.24" y2="232.89"/>
<line x1="238.79" y1="233.30" x2="242.24" y2="229.19"/>
<line x1="248.00" y1="244.40" x2="251.44" y2="240.29"/>
<line x1="257.20" y1="244.40" x2="260.65" y2="240.29"/>
<line x1="266.41" y1="244.40" x2="269.86" y2="240.29"/>
<line x1="266.41" y1="240.70" x2="269.86" y2="236.59"/>
<line x1="266.41" y1="237.00" x2="269.86" y2="232.89"/>
<line x1="266.41" y1="233.30" x2="269.86" y2="229.19"/>
<line x1="266.41" y1="229.60" x2="269.86" y2="225.49"/>
<line x1="266.41" y1="225.90" x2="269.86" y2="221.79"/>
</g>
<line x1="42.30" y1="5.00" x2="42.30" y2="243.10" stroke="#1a1a1a" stroke-width="1.4"/>
<line x1="41.60" y1="242.40" x2="272.30" y2="242.40" stroke="#1a1a1a" stroke-width="1.4"/>
<line x1="40.10" y1="242.40" x2="42.30" y2="242.40" stroke="#1a1a1a" stroke-width="0.8"/>
<text transform="translate(39.0,244.05) scale(0.82,1)" font-size="8.2" text-anchor="end" fill="#1a1a1a" stroke="#1a1a1a" stroke-width="0.15">0</text>
<line x1="40.10" y1="220.40" x2="42.30" y2="220.40" stroke="#1a1a1a" stroke-width="0.8"/>
<text transform="translate(39.0,222.05) scale(0.82,1)" font-size="8.2" text-anchor="end" fill="#1a1a1a" stroke="#1a1a1a" stroke-width="0.15">50</text>
<line x1="40.10" y1="198.40" x2="42.30" y2="198.40" stroke="#1a1a1a" stroke-width="0.8"/>
<text transform="translate(39.0,200.05) scale(0.82,1)" font-size="8.2" text-anchor="end" fill="#1a1a1a" stroke="#1a1a1a" stroke-width="0.15">100</text>
<line x1="40.10" y1="176.40" x2="42.30" y2="176.40" stroke="#1a1a1a" stroke-width="0.8"/>
<text transform="translate(39.0,178.05) scale(0.82,1)" font-size="8.2" text-anchor="end" fill="#1a1a1a" stroke="#1a1a1a" stroke-width="0.15">150</text>
<line x1="40.10" y1="154.40" x2="42.30" y2="154.40" stroke="#1a1a1a" stroke-width="0.8"/>
<text transform="translate(39.0,156.05) scale(0.82,1)" font-size="8.2" text-anchor="end" fill="#1a1a1a" stroke="#1a1a1a" stroke-width="0.15">200</text>
<line x1="40.10" y1="132.40" x2="42.30" y2="132.40" stroke="#1a1a1a" stroke-width="0.8"/>
<text transform="translate(39.0,134.05) scale(0.82,1)" font-size="8.2" text-anchor="end" fill="#1a1a1a" stroke="#1a1a1a" stroke-width="0.15">250</text>
<line x1="40.10" y1="110.40" x2="42.30" y2="110.40" stroke="#1a1a1a" stroke-width="0.8"/>
<text transform="translate(39.0,112.05) scale(0.82,1)" font-size="8.2" text-anchor="end" fill="#1a1a1a" stroke="#1a1a1a" stroke-width="0.15">300</text>
<line x1="40.10" y1="88.40" x2="42.30" y2="88.40" stroke="#1a1a1a" stroke-width="0.8"/>
<text transform="translate(39.0,90.05) scale(0.82,1)" font-size="8.2" text-anchor="end" fill="#1a1a1a" stroke="#1a1a1a" stroke-width="0.15">350</text>
<line x1="40.10" y1="66.40" x2="42.30" y2="66.40" stroke="#1a1a1a" stroke-width="0.8"/>
<text transform="translate(39.0,68.05) scale(0.82,1)" font-size="8.2" text-anchor="end" fill="#1a1a1a" stroke="#1a1a1a" stroke-width="0.15">400</text>
<line x1="40.10" y1="44.40" x2="42.30" y2="44.40" stroke="#1a1a1a" stroke-width="0.8"/>
<text transform="translate(39.0,46.05) scale(0.82,1)" font-size="8.2" text-anchor="end" fill="#1a1a1a" stroke="#1a1a1a" stroke-width="0.15">450</text>
<line x1="40.10" y1="22.40" x2="42.30" y2="22.40" stroke="#1a1a1a" stroke-width="0.8"/>
<text transform="translate(39.0,24.05) scale(0.82,1)" font-size="8.2" text-anchor="end" fill="#1a1a1a" stroke="#1a1a1a" stroke-width="0.15">500</text>
<line x1="46.90" y1="242.40" x2="46.90" y2="244.40" stroke="#1a1a1a" stroke-width="0.8"/>
<text x="46.90" y="251.50" font-size="6.6" text-anchor="middle" font-weight="normal" fill="#222">A</text>
<line x1="56.11" y1="242.40" x2="56.11" y2="244.40" stroke="#1a1a1a" stroke-width="0.8"/>
<text x="56.11" y="251.50" font-size="6.6" text-anchor="middle" font-weight="normal" fill="#222">B</text>
<line x1="65.32" y1="242.40" x2="65.32" y2="244.40" stroke="#1a1a1a" stroke-width="0.8"/>
<text x="65.32" y="251.50" font-size="6.6" text-anchor="middle" font-weight="normal" fill="#222">C</text>
<line x1="74.53" y1="242.40" x2="74.53" y2="244.40" stroke="#1a1a1a" stroke-width="0.8"/>
<text x="74.53" y="251.50" font-size="6.6" text-anchor="middle" font-weight="normal" fill="#222">D</text>
<line x1="83.74" y1="242.40" x2="83.74" y2="244.40" stroke="#1a1a1a" stroke-width="0.8"/>
<text x="83.74" y="251.50" font-size="6.6" text-anchor="middle" font-weight="normal" fill="#222">E</text>
<line x1="92.95" y1="242.40" x2="92.95" y2="244.40" stroke="#1a1a1a" stroke-width="0.8"/>
<text x="92.95" y="251.50" font-size="6.6" text-anchor="middle" font-weight="normal" fill="#222">F</text>
<line x1="102.16" y1="242.40" x2="102.16" y2="244.40" stroke="#1a1a1a" stroke-width="0.8"/>
<text x="102.16" y="251.50" font-size="6.6" text-anchor="middle" font-weight="normal" fill="#222">G</text>
<line x1="111.37" y1="242.40" x2="111.37" y2="244.40" stroke="#1a1a1a" stroke-width="0.8"/>
<text x="111.37" y="251.50" font-size="6.6" text-anchor="middle" font-weight="normal" fill="#222">H</text>
<line x1="120.58" y1="242.40" x2="120.58" y2="244.40" stroke="#1a1a1a" stroke-width="0.8"/>
<text x="120.58" y="251.50" font-size="6.6" text-anchor="middle" font-weight="normal" fill="#222">I</text>
<line x1="129.79" y1="242.40" x2="129.79" y2="244.40" stroke="#1a1a1a" stroke-width="0.8"/>
<text x="129.79" y="251.50" font-size="6.6" text-anchor="middle" font-weight="normal" fill="#222">J</text>
<line x1="139.00" y1="242.40" x2="139.00" y2="244.40" stroke="#1a1a1a" stroke-width="0.8"/>
<text x="139.00" y="251.50" font-size="6.6" text-anchor="middle" font-weight="normal" fill="#222">K</text>
<line x1="148.21" y1="242.40" x2="148.21" y2="244.40" stroke="#1a1a1a" stroke-width="0.8"/>
<text x="148.21" y="251.50" font-size="6.6" text-anchor="middle" font-weight="normal" fill="#222">L</text>
<line x1="157.42" y1="242.40" x2="157.42" y2="244.40" stroke="#1a1a1a" stroke-width="0.8"/>
<text x="157.42" y="251.50" font-size="6.6" text-anchor="middle" font-weight="normal" fill="#222">M</text>
<line x1="166.63" y1="242.40" x2="166.63" y2="244.40" stroke="#1a1a1a" stroke-width="0.8"/>
<text x="166.63" y="251.50" font-size="6.6" text-anchor="middle" font-weight="normal" fill="#222">N</text>
<line x1="175.84" y1="242.40" x2="175.84" y2="244.40" stroke="#1a1a1a" stroke-width="0.8"/>
<text x="175.84" y="251.50" font-size="6.6" text-anchor="middle" font-weight="normal" fill="#222">O</text>
<line x1="185.05" y1="242.40" x2="185.05" y2="244.40" stroke="#1a1a1a" stroke-width="0.8"/>
<text x="185.05" y="251.50" font-size="6.6" text-anchor="middle" font-weight="normal" fill="#222">P</text>
<line x1="194.26" y1="242.40" x2="194.26" y2="244.40" stroke="#1a1a1a" stroke-width="0.8"/>
<text x="194.26" y="251.50" font-size="6.6" text-anchor="middle" font-weight="normal" fill="#222">Q</text>
<line x1="203.47" y1="242.40" x2="203.47" y2="244.40" stroke="#1a1a1a" stroke-width="0.8"/>
<text x="203.47" y="251.50" font-size="6.6" text-anchor="middle" font-weight="normal" fill="#222">R</text>
<line x1="212.68" y1="242.40" x2="212.68" y2="244.40" stroke="#1a1a1a" stroke-width="0.8"/>
<text x="212.68" y="251.50" font-size="6.6" text-anchor="middle" font-weight="normal" fill="#222">S</text>
<line x1="221.89" y1="242.40" x2="221.89" y2="244.40" stroke="#1a1a1a" stroke-width="0.8"/>
<text x="221.89" y="251.50" font-size="6.6" text-anchor="middle" font-weight="normal" fill="#222">T</text>
<line x1="231.10" y1="242.40" x2="231.10" y2="244.40" stroke="#1a1a1a" stroke-width="0.8"/>
<text x="231.10" y="251.50" font-size="6.6" text-anchor="middle" font-weight="normal" fill="#222">U</text>
<line x1="240.31" y1="242.40" x2="240.31" y2="244.40" stroke="#1a1a1a" stroke-width="0.8"/>
<text x="240.31" y="251.50" font-size="6.6" text-anchor="middle" font-weight="normal" fill="#222">V</text>
<line x1="249.52" y1="242.40" x2="249.52" y2="244.40" stroke="#1a1a1a" stroke-width="0.8"/>
<text x="249.52" y="251.50" font-size="6.6" text-anchor="middle" font-weight="normal" fill="#222">W</text>
<line x1="258.73" y1="242.40" x2="258.73" y2="244.40" stroke="#1a1a1a" stroke-width="0.8"/>
<text x="258.73" y="251.50" font-size="6.6" text-anchor="middle" font-weight="normal" fill="#222">Y</text>
<line x1="267.94" y1="242.40" x2="267.94" y2="244.40" stroke="#1a1a1a" stroke-width="0.8"/>
<text x="267.94" y="251.50" font-size="6.6" text-anchor="middle" font-weight="normal" fill="#222">Z</text>
<text x="157.30" y="262.70" font-size="10" text-anchor="middle" font-weight="bold" fill="#111">Function Class</text>
<text transform="translate(16.8,123.6) rotate(-90)" font-size="10.4" text-anchor="middle" font-weight="bold" fill="#111">Gene Number</text>
<text x="9.00" y="14.20" font-size="12" text-anchor="start" font-weight="normal" fill="#5a1818" stroke="#5a1818" stroke-width="0.25">A</text>
<rect x="208.10" y="13.80" width="3.60" height="3.40" fill="#17be9a"/>
<rect x="208.10" y="19.90" width="3.60" height="3.40" fill="#f7895a"/>
<rect x="208.10" y="26.00" width="3.60" height="3.40" fill="#829bd8"/>
<text x="213.20" y="16.60" font-size="3.0" text-anchor="start" font-weight="normal" fill="#333" stroke="#333" stroke-width="0.06">MSG_V1 Annotation</text>
<text x="213.20" y="22.70" font-size="3.0" text-anchor="start" font-weight="normal" fill="#333" stroke="#333" stroke-width="0.06">MSG_V2 Annotation</text>
<text x="213.20" y="28.80" font-size="3.0" text-anchor="start" font-weight="normal" fill="#333" stroke="#333" stroke-width="0.06">Transcriptome Annotation</text>
<g transform="translate(207.3,0) scale(0.8,1)">
<text x="0.00" y="41.20" font-size="2.95" text-anchor="start" font-weight="normal" fill="#2a2a2a" stroke="#2a2a2a" stroke-width="0.03">A:RNA processing and modification</text>
<text x="0.00" y="45.27" font-size="2.95" text-anchor="start" font-weight="normal" fill="#2a2a2a" stroke="#2a2a2a" stroke-width="0.03">B:Chromatin structure and dynamics</text>
<text x="0.00" y="49.34" font-size="2.95" text-anchor="start" font-weight="normal" fill="#2a2a2a" stroke="#2a2a2a" stroke-width="0.03">C:Energy production and conversion</text>
<text x="0.00" y="53.41" font-size="2.95" text-anchor="start" font-weight="normal" fill="#2a2a2a" stroke="#2a2a2a" stroke-width="0.03">D:Cell cycle control, cell division, chromosome partitioning</text>
<text x="0.00" y="57.48" font-size="2.95" text-anchor="start" font-weight="normal" fill="#2a2a2a" stroke="#2a2a2a" stroke-width="0.03">E:Amino acid transport and metabolism</text>
<text x="0.00" y="61.55" font-size="2.95" text-anchor="start" font-weight="normal" fill="#2a2a2a" stroke="#2a2a2a" stroke-width="0.03">F:Nucleotide transport and metabolism</text>
<text x="0.00" y="65.62" font-size="2.95" text-anchor="start" font-weight="normal" fill="#2a2a2a" stroke="#2a2a2a" stroke-width="0.03">G:Carbohydrate transport and metabolism</text>
<text x="0.00" y="69.69" font-size="2.95" text-anchor="start" font-weight="normal" fill="#2a2a2a" stroke="#2a2a2a" stroke-width="0.03">H:Coenzyme transport and metabolism</text>
<text x="0.00" y="73.76" font-size="2.95" text-anchor="start" font-weight="normal" fill="#2a2a2a" stroke="#2a2a2a" stroke-width="0.03">I:Lipid transport and metabolism</text>
<text x="0.00" y="77.83" font-size="2.95" text-anchor="start" font-weight="normal" fill="#2a2a2a" stroke="#2a2a2a" stroke-width="0.03">J:Translation, ribosomal structure and biogenesis</text>
<text x="0.00" y="81.90" font-size="2.95" text-anchor="start" font-weight="normal" fill="#2a2a2a" stroke="#2a2a2a" stroke-width="0.03">K:Transcription</text>
<text x="0.00" y="85.97" font-size="2.95" text-anchor="start" font-weight="normal" fill="#2a2a2a" stroke="#2a2a2a" stroke-width="0.03">L:Replication, recombination and repair</text>
<text x="0.00" y="90.04" font-size="2.95" text-anchor="start" font-weight="normal" fill="#2a2a2a" stroke="#2a2a2a" stroke-width="0.03">M:Cell wall/membrane/envelope biogenesis</text>
<text x="0.00" y="94.11" font-size="2.95" text-anchor="start" font-weight="normal" fill="#2a2a2a" stroke="#2a2a2a" stroke-width="0.03">N:Cell motility</text>
<text x="0.00" y="98.18" font-size="2.95" text-anchor="start" font-weight="normal" fill="#2a2a2a" stroke="#2a2a2a" stroke-width="0.03">O:Posttranslational modification, protein turnover, chaperones</text>
<text x="0.00" y="102.25" font-size="2.95" text-anchor="start" font-weight="normal" fill="#2a2a2a" stroke="#2a2a2a" stroke-width="0.03">P:Inorganic ion transport and metabolism</text>
<text x="0.00" y="106.32" font-size="2.95" text-anchor="start" font-weight="normal" fill="#2a2a2a" stroke="#2a2a2a" stroke-width="0.03">Q:Secondary metabolites biosynthesis, transport and catabolism</text>
<text x="0.00" y="110.39" font-size="2.95" text-anchor="start" font-weight="normal" fill="#2a2a2a" stroke="#2a2a2a" stroke-width="0.03">R:General function prediction only</text>
<text x="0.00" y="114.46" font-size="2.95" text-anchor="start" font-weight="normal" fill="#2a2a2a" stroke="#2a2a2a" stroke-width="0.03">S:Function unknown</text>
<text x="0.00" y="118.53" font-size="2.95" text-anchor="start" font-weight="normal" fill="#2a2a2a" stroke="#2a2a2a" stroke-width="0.03">T:Signal transduction mechanisms</text>
<text x="0.00" y="122.60" font-size="2.95" text-anchor="start" font-weight="normal" fill="#2a2a2a" stroke="#2a2a2a" stroke-width="0.03">U:Intracellular trafficking, secretion, and vesicular transport</text>
<text x="0.00" y="126.67" font-size="2.95" text-anchor="start" font-weight="normal" fill="#2a2a2a" stroke="#2a2a2a" stroke-width="0.03">V:Defense mechanisms</text>
<text x="0.00" y="130.74" font-size="2.95" text-anchor="start" font-weight="normal" fill="#2a2a2a" stroke="#2a2a2a" stroke-width="0.03">W:Extracellular structures</text>
<text x="0.00" y="134.81" font-size="2.95" text-anchor="start" font-weight="normal" fill="#2a2a2a" stroke="#2a2a2a" stroke-width="0.03">Y:Nuclear structure</text>
<text x="0.00" y="138.88" font-size="2.95" text-anchor="start" font-weight="normal" fill="#2a2a2a" stroke="#2a2a2a" stroke-width="0.03">Z:Cytoskeleton</text>
</g>
<rect x="313.40" y="5.00" width="230.10" height="213.40" fill="#ebebeb"/>
<line x1="325.36" y1="5.00" x2="325.36" y2="218.40" stroke="#e0e0e0" stroke-width="0.5"/>
<line x1="336.87" y1="5.00" x2="336.87" y2="218.40" stroke="#e0e0e0" stroke-width="0.5"/>
<line x1="348.38" y1="5.00" x2="348.38" y2="218.40" stroke="#e0e0e0" stroke-width="0.5"/>
<line x1="359.88" y1="5.00" x2="359.88" y2="218.40" stroke="#e0e0e0" stroke-width="0.5"/>
<line x1="371.40" y1="5.00" x2="371.40" y2="218.40" stroke="#e0e0e0" stroke-width="0.5"/>
<line x1="382.91" y1="5.00" x2="382.91" y2="218.40" stroke="#e0e0e0" stroke-width="0.5"/>
<line x1="394.42" y1="5.00" x2="394.42" y2="218.40" stroke="#e0e0e0" stroke-width="0.5"/>
<line x1="405.93" y1="5.00" x2="405.93" y2="218.40" stroke="#e0e0e0" stroke-width="0.5"/>
<line x1="417.44" y1="5.00" x2="417.44" y2="218.40" stroke="#e0e0e0" stroke-width="0.5"/>
<line x1="428.95" y1="5.00" x2="428.95" y2="218.40" stroke="#e0e0e0" stroke-width="0.5"/>
<line x1="440.46" y1="5.00" x2="440.46" y2="218.40" stroke="#e0e0e0" stroke-width="0.5"/>
<line x1="451.97" y1="5.00" x2="451.97" y2="218.40" stroke="#e0e0e0" stroke-width="0.5"/>
<line x1="463.48" y1="5.00" x2="463.48" y2="218.40" stroke="#e0e0e0" stroke-width="0.5"/>
<line x1="474.99" y1="5.00" x2="474.99" y2="218.40" stroke="#e0e0e0" stroke-width="0.5"/>
<line x1="486.50" y1="5.00" x2="486.50" y2="218.40" stroke="#e0e0e0" stroke-width="0.5"/>
<line x1="498.00" y1="5.00" x2="498.00" y2="218.40" stroke="#e0e0e0" stroke-width="0.5"/>
<line x1="509.51" y1="5.00" x2="509.51" y2="218.40" stroke="#e0e0e0" stroke-width="0.5"/>
<line x1="521.02" y1="5.00" x2="521.02" y2="218.40" stroke="#e0e0e0" stroke-width="0.5"/>
<line x1="532.53" y1="5.00" x2="532.53" y2="218.40" stroke="#e0e0e0" stroke-width="0.5"/>
<line x1="544.04" y1="5.00" x2="544.04" y2="218.40" stroke="#e0e0e0" stroke-width="0.5"/>
<line x1="319.60" y1="5.00" x2="319.60" y2="218.40" stroke="#cdcdcd" stroke-width="0.7"/>
<line x1="331.11" y1="5.00" x2="331.11" y2="218.40" stroke="#cdcdcd" stroke-width="0.7"/>
<line x1="342.62" y1="5.00" x2="342.62" y2="218.40" stroke="#cdcdcd" stroke-width="0.7"/>
<line x1="354.13" y1="5.00" x2="354.13" y2="218.40" stroke="#cdcdcd" stroke-width="0.7"/>
<line x1="365.64" y1="5.00" x2="365.64" y2="218.40" stroke="#cdcdcd" stroke-width="0.7"/>
<line x1="377.15" y1="5.00" x2="377.15" y2="218.40" stroke="#cdcdcd" stroke-width="0.7"/>
<line x1="388.66" y1="5.00" x2="388.66" y2="218.40" stroke="#cdcdcd" stroke-width="0.7"/>
<line x1="400.17" y1="5.00" x2="400.17" y2="218.40" stroke="#cdcdcd" stroke-width="0.7"/>
<line x1="411.68" y1="5.00" x2="411.68" y2="218.40" stroke="#cdcdcd" stroke-width="0.7"/>
<line x1="423.19" y1="5.00" x2="423.19" y2="218.40" stroke="#cdcdcd" stroke-width="0.7"/>
<line x1="434.70" y1="5.00" x2="434.70" y2="218.40" stroke="#cdcdcd" stroke-width="0.7"/>
<line x1="446.21" y1="5.00" x2="446.21" y2="218.40" stroke="#cdcdcd" stroke-width="0.7"/>
<line x1="457.72" y1="5.00" x2="457.72" y2="218.40" stroke="#cdcdcd" stroke-width="0.7"/>
<line x1="469.23" y1="5.00" x2="469.23" y2="218.40" stroke="#cdcdcd" stroke-width="0.7"/>
<line x1="480.74" y1="5.00" x2="480.74" y2="218.40" stroke="#cdcdcd" stroke-width="0.7"/>
<line x1="492.25" y1="5.00" x2="492.25" y2="218.40" stroke="#cdcdcd" stroke-width="0.7"/>
<line x1="503.76" y1="5.00" x2="503.76" y2="218.40" stroke="#cdcdcd" stroke-width="0.7"/>
<line x1="515.27" y1="5.00" x2="515.27" y2="218.40" stroke="#cdcdcd" stroke-width="0.7"/>
<line x1="526.78" y1="5.00" x2="526.78" y2="218.40" stroke="#cdcdcd" stroke-width="0.7"/>
<line x1="538.29" y1="5.00" x2="538.29" y2="218.40" stroke="#cdcdcd" stroke-width="0.7"/>
<line x1="313.40" y1="185.03" x2="543.50" y2="185.03" stroke="#bdbdbd" stroke-width="0.7"/>
<line x1="313.40" y1="151.67" x2="543.50" y2="151.67" stroke="#bdbdbd" stroke-width="0.7"/>
<line x1="313.40" y1="118.31" x2="543.50" y2="118.31" stroke="#bdbdbd" stroke-width="0.7"/>
<line x1="313.40" y1="84.94" x2="543.50" y2="84.94" stroke="#bdbdbd" stroke-width="0.7"/>
<line x1="313.40" y1="51.58" x2="543.50" y2="51.58" stroke="#bdbdbd" stroke-width="0.7"/>
<line x1="313.40" y1="18.21" x2="543.50" y2="18.21" stroke="#bdbdbd" stroke-width="0.7"/>
<rect x="314.20" y="29.55" width="3.20" height="188.85" fill="#17be9a"/>
<rect x="318.00" y="28.22" width="3.20" height="190.18" fill="#f7895a"/>
<rect x="321.80" y="48.24" width="3.20" height="170.16" fill="#829bd8"/>
<rect x="325.71" y="80.94" width="3.20" height="137.46" fill="#17be9a"/>
<rect x="329.51" y="79.60" width="3.20" height="138.80" fill="#f7895a"/>
<rect x="333.31" y="92.95" width="3.20" height="125.45" fill="#829bd8"/>
<rect x="337.22" y="107.63" width="3.20" height="110.77" fill="#17be9a"/>
<rect x="341.02" y="100.29" width="3.20" height="118.11" fill="#f7895a"/>
<rect x="344.82" y="108.96" width="3.20" height="109.44" fill="#829bd8"/>
<rect x="348.73" y="215.06" width="3.20" height="3.34" fill="#17be9a"/>
<rect x="352.53" y="103.62" width="3.20" height="114.78" fill="#f7895a"/>
<rect x="356.33" y="117.64" width="3.20" height="100.76" fill="#829bd8"/>
<rect x="360.24" y="68.26" width="3.20" height="150.14" fill="#17be9a"/>
<rect x="364.04" y="106.29" width="3.20" height="112.11" fill="#f7895a"/>
<rect x="367.84" y="118.31" width="3.20" height="100.09" fill="#829bd8"/>
<rect x="371.75" y="113.63" width="3.20" height="104.77" fill="#17be9a"/>
<rect x="375.55" y="113.63" width="3.20" height="104.77" fill="#f7895a"/>
<rect x="379.35" y="132.32" width="3.20" height="86.08" fill="#829bd8"/>
<rect x="383.26" y="87.61" width="3.20" height="130.79" fill="#17be9a"/>
<rect x="387.06" y="114.97" width="3.20" height="103.43" fill="#f7895a"/>
<rect x="390.86" y="118.31" width="3.20" height="100.09" fill="#829bd8"/>
<rect x="394.77" y="174.36" width="3.20" height="44.04" fill="#17be9a"/>
<rect x="398.57" y="126.31" width="3.20" height="92.09" fill="#f7895a"/>
<rect x="402.37" y="136.99" width="3.20" height="81.41" fill="#829bd8"/>
<rect x="406.28" y="117.64" width="3.20" height="100.76" fill="#17be9a"/>
<rect x="410.08" y="132.32" width="3.20" height="86.08" fill="#f7895a"/>
<rect x="413.88" y="159.01" width="3.20" height="59.39" fill="#829bd8"/>
<rect x="417.79" y="196.38" width="3.20" height="22.02" fill="#17be9a"/>
<rect x="421.59" y="132.32" width="3.20" height="86.08" fill="#f7895a"/>
<rect x="425.39" y="166.35" width="3.20" height="52.05" fill="#829bd8"/>
<rect x="429.30" y="141.66" width="3.20" height="76.74" fill="#17be9a"/>
<rect x="433.10" y="134.32" width="3.20" height="84.08" fill="#f7895a"/>
<rect x="436.90" y="151.00" width="3.20" height="67.40" fill="#829bd8"/>
<rect x="440.81" y="212.39" width="3.20" height="6.01" fill="#17be9a"/>
<rect x="444.61" y="136.32" width="3.20" height="82.08" fill="#f7895a"/>
<rect x="448.41" y="138.32" width="3.20" height="80.08" fill="#829bd8"/>
<rect x="452.32" y="146.33" width="3.20" height="72.07" fill="#17be9a"/>
<rect x="456.12" y="148.33" width="3.20" height="70.07" fill="#f7895a"/>
<rect x="459.92" y="155.67" width="3.20" height="62.73" fill="#829bd8"/>
<rect x="463.83" y="150.34" width="3.20" height="68.06" fill="#17be9a"/>
<rect x="467.63" y="154.34" width="3.20" height="64.06" fill="#f7895a"/>
<rect x="471.43" y="163.68" width="3.20" height="54.72" fill="#829bd8"/>
<rect x="475.34" y="153.67" width="3.20" height="64.73" fill="#17be9a"/>
<rect x="479.14" y="157.68" width="3.20" height="60.72" fill="#f7895a"/>
<rect x="482.94" y="163.68" width="3.20" height="54.72" fill="#829bd8"/>
<rect x="486.85" y="174.36" width="3.20" height="44.04" fill="#17be9a"/>
<rect x="490.65" y="161.68" width="3.20" height="56.72" fill="#f7895a"/>
<rect x="494.45" y="173.02" width="3.20" height="45.38" fill="#829bd8"/>
<rect x="498.36" y="169.69" width="3.20" height="48.71" fill="#17be9a"/>
<rect x="502.16" y="162.35" width="3.20" height="56.05" fill="#f7895a"/>
<rect x="505.96" y="167.69" width="3.20" height="50.71" fill="#829bd8"/>
<rect x="509.87" y="158.34" width="3.20" height="60.06" fill="#17be9a"/>
<rect x="513.67" y="164.35" width="3.20" height="54.05" fill="#f7895a"/>
<rect x="517.47" y="169.69" width="3.20" height="48.71" fill="#829bd8"/>
<rect x="521.38" y="168.35" width="3.20" height="50.05" fill="#17be9a"/>
<rect x="525.18" y="165.68" width="3.20" height="52.72" fill="#f7895a"/>
<rect x="528.98" y="195.71" width="3.20" height="22.69" fill="#829bd8"/>
<rect x="532.89" y="172.36" width="3.20" height="46.04" fill="#17be9a"/>
<rect x="536.69" y="167.02" width="3.20" height="51.38" fill="#f7895a"/>
<rect x="540.49" y="171.69" width="3.20" height="46.71" fill="#829bd8"/>
<clipPath id="clipB"><rect x="318.00" y="28.22" width="3.20" height="190.18"/><rect x="329.51" y="79.60" width="3.20" height="138.80"/><rect x="341.02" y="100.29" width="3.20" height="118.11"/><rect x="352.53" y="103.62" width="3.20" height="114.78"/><rect x="364.04" y="106.29" width="3.20" height="112.11"/><rect x="375.55" y="113.63" width="3.20" height="104.77"/><rect x="387.06" y="114.97" width="3.20" height="103.43"/><rect x="398.57" y="126.31" width="3.20" height="92.09"/><rect x="410.08" y="132.32" width="3.20" height="86.08"/><rect x="421.59" y="132.32" width="3.20" height="86.08"/><rect x="433.10" y="134.32" width="3.20" height="84.08"/><rect x="444.61" y="136.32" width="3.20" height="82.08"/><rect x="456.12" y="148.33" width="3.20" height="70.07"/><rect x="467.63" y="154.34" width="3.20" height="64.06"/><rect x="479.14" y="157.68" width="3.20" height="60.72"/><rect x="490.65" y="161.68" width="3.20" height="56.72"/><rect x="502.16" y="162.35" width="3.20" height="56.05"/><rect x="513.67" y="164.35" width="3.20" height="54.05"/><rect x="525.18" y="165.68" width="3.20" height="52.72"/><rect x="536.69" y="167.02" width="3.20" height="51.38"/></clipPath>
<g clip-path="url(#clipB)" stroke="#bb4a22" stroke-width="0.85">
<line x1="317.50" y1="220.40" x2="321.70" y2="215.39"/>
<line x1="317.50" y1="216.70" x2="321.70" y2="211.69"/>
<line x1="317.50" y1="213.00" x2="321.70" y2="207.99"/>
<line x1="317.50" y1="209.30" x2="321.70" y2="204.29"/>
<line x1="317.50" y1="205.60" x2="321.70" y2="200.59"/>
<line x1="317.50" y1="201.90" x2="321.70" y2="196.89"/>
<line x1="317.50" y1="198.20" x2="321.70" y2="193.19"/>
<line x1="317.50" y1="194.50" x2="321.70" y2="189.49"/>
<line x1="317.50" y1="190.80" x2="321.70" y2="185.79"/>
<line x1="317.50" y1="187.10" x2="321.70" y2="182.09"/>
<line x1="317.50" y1="183.40" x2="321.70" y2="178.39"/>
<line x1="317.50" y1="179.70" x2="321.70" y2="174.69"/>
<line x1="317.50" y1="176.00" x2="321.70" y2="170.99"/>
<line x1="317.50" y1="172.30" x2="321.70" y2="167.29"/>
<line x1="317.50" y1="168.60" x2="321.70" y2="163.59"/>
<line x1="317.50" y1="164.90" x2="321.70" y2="159.89"/>
<line x1="317.50" y1="161.20" x2="321.70" y2="156.19"/>
<line x1="317.50" y1="157.50" x2="321.70" y2="152.49"/>
<line x1="317.50" y1="153.80" x2="321.70" y2="148.79"/>
<line x1="317.50" y1="150.10" x2="321.70" y2="145.09"/>
<line x1="317.50" y1="146.40" x2="321.70" y2="141.39"/>
<line x1="317.50" y1="142.70" x2="321.70" y2="137.69"/>
<line x1="317.50" y1="139.00" x2="321.70" y2="133.99"/>
<line x1="317.50" y1="135.30" x2="321.70" y2="130.29"/>
<line x1="317.50" y1="131.60" x2="321.70" y2="126.59"/>
<line x1="317.50" y1="127.90" x2="321.70" y2="122.89"/>
<line x1="317.50" y1="124.20" x2="321.70" y2="119.19"/>
<line x1="317.50" y1="120.50" x2="321.70" y2="115.49"/>
<line x1="317.50" y1="116.80" x2="321.70" y2="111.79"/>
<line x1="317.50" y1="113.10" x2="321.70" y2="108.09"/>
<line x1="317.50" y1="109.40" x2="321.70" y2="104.39"/>
<line x1="317.50" y1="105.70" x2="321.70" y2="100.69"/>
<line x1="317.50" y1="102.00" x2="321.70" y2="96.99"/>
<line x1="317.50" y1="98.30" x2="321.70" y2="93.29"/>
<line x1="317.50" y1="94.60" x2="321.70" y2="89.59"/>
<line x1="317.50" y1="90.90" x2="321.70" y2="85.89"/>
<line x1="317.50" y1="87.20" x2="321.70" y2="82.19"/>
<line x1="317.50" y1="83.50" x2="321.70" y2="78.49"/>
<line x1="317.50" y1="79.80" x2="321.70" y2="74.79"/>
<line x1="317.50" y1="76.10" x2="321.70" y2="71.09"/>
<line x1="317.50" y1="72.40" x2="321.70" y2="67.39"/>
<line x1="317.50" y1="68.70" x2="321.70" y2="63.69"/>
<line x1="317.50" y1="65.00" x2="321.70" y2="59.99"/>
<line x1="317.50" y1="61.30" x2="321.70" y2="56.29"/>
<line x1="317.50" y1="57.60" x2="321.70" y2="52.59"/>
<line x1="317.50" y1="53.90" x2="321.70" y2="48.89"/>
<line x1="317.50" y1="50.20" x2="321.70" y2="45.19"/>
<line x1="317.50" y1="46.50" x2="321.70" y2="41.49"/>
<line x1="317.50" y1="42.80" x2="321.70" y2="37.79"/>
<line x1="317.50" y1="39.10" x2="321.70" y2="34.09"/>
<line x1="317.50" y1="35.40" x2="321.70" y2="30.39"/>
<line x1="317.50" y1="31.70" x2="321.70" y2="26.69"/>
<line x1="329.01" y1="220.40" x2="333.21" y2="215.39"/>
<line x1="329.01" y1="216.70" x2="333.21" y2="211.69"/>
<line x1="329.01" y1="213.00" x2="333.21" y2="207.99"/>
<line x1="329.01" y1="209.30" x2="333.21" y2="204.29"/>
<line x1="329.01" y1="205.60" x2="333.21" y2="200.59"/>
<line x1="329.01" y1="201.90" x2="333.21" y2="196.89"/>
<line x1="329.01" y1="198.20" x2="333.21" y2="193.19"/>
<line x1="329.01" y1="194.50" x2="333.21" y2="189.49"/>
<line x1="329.01" y1="190.80" x2="333.21" y2="185.79"/>
<line x1="329.01" y1="187.10" x2="333.21" y2="182.09"/>
<line x1="329.01" y1="183.40" x2="333.21" y2="178.39"/>
<line x1="329.01" y1="179.70" x2="333.21" y2="174.69"/>
<line x1="329.01" y1="176.00" x2="333.21" y2="170.99"/>
<line x1="329.01" y1="172.30" x2="333.21" y2="167.29"/>
<line x1="329.01" y1="168.60" x2="333.21" y2="163.59"/>
<line x1="329.01" y1="164.90" x2="333.21" y2="159.89"/>
<line x1="329.01" y1="161.20" x2="333.21" y2="156.19"/>
<line x1="329.01" y1="157.50" x2="333.21" y2="152.49"/>
<line x1="329.01" y1="153.80" x2="333.21" y2="148.79"/>
<line x1="329.01" y1="150.10" x2="333.21" y2="145.09"/>
<line x1="329.01" y1="146.40" x2="333.21" y2="141.39"/>
<line x1="329.01" y1="142.70" x2="333.21" y2="137.69"/>
<line x1="329.01" y1="139.00" x2="333.21" y2="133.99"/>
<line x1="329.01" y1="135.30" x2="333.21" y2="130.29"/>
<line x1="329.01" y1="131.60" x2="333.21" y2="126.59"/>
<line x1="329.01" y1="127.90" x2="333.21" y2="122.89"/>
<line x1="329.01" y1="124.20" x2="333.21" y2="119.19"/>
<line x1="329.01" y1="120.50" x2="333.21" y2="115.49"/>
<line x1="329.01" y1="116.80" x2="333.21" y2="111.79"/>
<line x1="329.01" y1="113.10" x2="333.21" y2="108.09"/>
<line x1="329.01" y1="109.40" x2="333.21" y2="104.39"/>
<line x1="329.01" y1="105.70" x2="333.21" y2="100.69"/>
<line x1="329.01" y1="102.00" x2="333.21" y2="96.99"/>
<line x1="329.01" y1="98.30" x2="333.21" y2="93.29"/>
<line x1="329.01" y1="94.60" x2="333.21" y2="89.59"/>
<line x1="329.01" y1="90.90" x2="333.21" y2="85.89"/>
<line x1="329.01" y1="87.20" x2="333.21" y2="82.19"/>
<line x1="329.01" y1="83.50" x2="333.21" y2="78.49"/>
<line x1="329.01" y1="79.80" x2="333.21" y2="74.79"/>
<line x1="340.52" y1="220.40" x2="344.72" y2="215.39"/>
<line x1="340.52" y1="216.70" x2="344.72" y2="211.69"/>
<line x1="340.52" y1="213.00" x2="344.72" y2="207.99"/>
<line x1="340.52" y1="209.30" x2="344.72" y2="204.29"/>
<line x1="340.52" y1="205.60" x2="344.72" y2="200.59"/>
<line x1="340.52" y1="201.90" x2="344.72" y2="196.89"/>
<line x1="340.52" y1="198.20" x2="344.72" y2="193.19"/>
<line x1="340.52" y1="194.50" x2="344.72" y2="189.49"/>
<line x1="340.52" y1="190.80" x2="344.72" y2="185.79"/>
<line x1="340.52" y1="187.10" x2="344.72" y2="182.09"/>
<line x1="340.52" y1="183.40" x2="344.72" y2="178.39"/>
<line x1="340.52" y1="179.70" x2="344.72" y2="174.69"/>
<line x1="340.52" y1="176.00" x2="344.72" y2="170.99"/>
<line x1="340.52" y1="172.30" x2="344.72" y2="167.29"/>
<line x1="340.52" y1="168.60" x2="344.72" y2="163.59"/>
<line x1="340.52" y1="164.90" x2="344.72" y2="159.89"/>
<line x1="340.52" y1="161.20" x2="344.72" y2="156.19"/>
<line x1="340.52" y1="157.50" x2="344.72" y2="152.49"/>
<line x1="340.52" y1="153.80" x2="344.72" y2="148.79"/>
<line x1="340.52" y1="150.10" x2="344.72" y2="145.09"/>
<line x1="340.52" y1="146.40" x2="344.72" y2="141.39"/>
<line x1="340.52" y1="142.70" x2="344.72" y2="137.69"/>
<line x1="340.52" y1="139.00" x2="344.72" y2="133.99"/>
<line x1="340.52" y1="135.30" x2="344.72" y2="130.29"/>
<line x1="340.52" y1="131.60" x2="344.72" y2="126.59"/>
<line x1="340.52" y1="127.90" x2="344.72" y2="122.89"/>
<line x1="340.52" y1="124.20" x2="344.72" y2="119.19"/>
<line x1="340.52" y1="120.50" x2="344.72" y2="115.49"/>
<line x1="340.52" y1="116.80" x2="344.72" y2="111.79"/>
<line x1="340.52" y1="113.10" x2="344.72" y2="108.09"/>
<line x1="340.52" y1="109.40" x2="344.72" y2="104.39"/>
<line x1="340.52" y1="105.70" x2="344.72" y2="100.69"/>
<line x1="340.52" y1="102.00" x2="344.72" y2="96.99"/>
<line x1="352.03" y1="220.40" x2="356.23" y2="215.39"/>
<line x1="352.03" y1="216.70" x2="356.23" y2="211.69"/>
<line x1="352.03" y1="213.00" x2="356.23" y2="207.99"/>
<line x1="352.03" y1="209.30" x2="356.23" y2="204.29"/>
<line x1="352.03" y1="205.60" x2="356.23" y2="200.59"/>
<line x1="352.03" y1="201.90" x2="356.23" y2="196.89"/>
<line x1="352.03" y1="198.20" x2="356.23" y2="193.19"/>
<line x1="352.03" y1="194.50" x2="356.23" y2="189.49"/>
<line x1="352.03" y1="190.80" x2="356.23" y2="185.79"/>
<line x1="352.03" y1="187.10" x2="356.23" y2="182.09"/>
<line x1="352.03" y1="183.40" x2="356.23" y2="178.39"/>
<line x1="352.03" y1="179.70" x2="356.23" y2="174.69"/>
<line x1="352.03" y1="176.00" x2="356.23" y2="170.99"/>
<line x1="352.03" y1="172.30" x2="356.23" y2="167.29"/>
<line x1="352.03" y1="168.60" x2="356.23" y2="163.59"/>
<line x1="352.03" y1="164.90" x2="356.23" y2="159.89"/>
<line x1="352.03" y1="161.20" x2="356.23" y2="156.19"/>
<line x1="352.03" y1="157.50" x2="356.23" y2="152.49"/>
<line x1="352.03" y1="153.80" x2="356.23" y2="148.79"/>
<line x1="352.03" y1="150.10" x2="356.23" y2="145.09"/>
<line x1="352.03" y1="146.40" x2="356.23" y2="141.39"/>
<line x1="352.03" y1="142.70" x2="356.23" y2="137.69"/>
<line x1="352.03" y1="139.00" x2="356.23" y2="133.99"/>
<line x1="352.03" y1="135.30" x2="356.23" y2="130.29"/>
<line x1="352.03" y1="131.60" x2="356.23" y2="126.59"/>
<line x1="352.03" y1="127.90" x2="356.23" y2="122.89"/>
<line x1="352.03" y1="124.20" x2="356.23" y2="119.19"/>
<line x1="352.03" y1="120.50" x2="356.23" y2="115.49"/>
<line x1="352.03" y1="116.80" x2="356.23" y2="111.79"/>
<line x1="352.03" y1="113.10" x2="356.23" y2="108.09"/>
<line x1="352.03" y1="109.40" x2="356.23" y2="104.39"/>
<line x1="352.03" y1="105.70" x2="356.23" y2="100.69"/>
<line x1="363.54" y1="220.40" x2="367.74" y2="215.39"/>
<line x1="363.54" y1="216.70" x2="367.74" y2="211.69"/>
<line x1="363.54" y1="213.00" x2="367.74" y2="207.99"/>
<line x1="363.54" y1="209.30" x2="367.74" y2="204.29"/>
<line x1="363.54" y1="205.60" x2="367.74" y2="200.59"/>
<line x1="363.54" y1="201.90" x2="367.74" y2="196.89"/>
<line x1="363.54" y1="198.20" x2="367.74" y2="193.19"/>
<line x1="363.54" y1="194.50" x2="367.74" y2="189.49"/>
<line x1="363.54" y1="190.80" x2="367.74" y2="185.79"/>
<line x1="363.54" y1="187.10" x2="367.74" y2="182.09"/>
<line x1="363.54" y1="183.40" x2="367.74" y2="178.39"/>
<line x1="363.54" y1="179.70" x2="367.74" y2="174.69"/>
<line x1="363.54" y1="176.00" x2="367.74" y2="170.99"/>
<line x1="363.54" y1="172.30" x2="367.74" y2="167.29"/>
<line x1="363.54" y1="168.60" x2="367.74" y2="163.59"/>
<line x1="363.54" y1="164.90" x2="367.74" y2="159.89"/>
<line x1="363.54" y1="161.20" x2="367.74" y2="156.19"/>
<line x1="363.54" y1="157.50" x2="367.74" y2="152.49"/>
<line x1="363.54" y1="153.80" x2="367.74" y2="148.79"/>
<line x1="363.54" y1="150.10" x2="367.74" y2="145.09"/>
<line x1="363.54" y1="146.40" x2="367.74" y2="141.39"/>
<line x1="363.54" y1="142.70" x2="367.74" y2="137.69"/>
<line x1="363.54" y1="139.00" x2="367.74" y2="133.99"/>
<line x1="363.54" y1="135.30" x2="367.74" y2="130.29"/>
<line x1="363.54" y1="131.60" x2="367.74" y2="126.59"/>
<line x1="363.54" y1="127.90" x2="367.74" y2="122.89"/>
<line x1="363.54" y1="124.20" x2="367.74" y2="119.19"/>
<line x1="363.54" y1="120.50" x2="367.74" y2="115.49"/>
<line x1="363.54" y1="116.80" x2="367.74" y2="111.79"/>
<line x1="363.54" y1="113.10" x2="367.74" y2="108.09"/>
<line x1="363.54" y1="109.40" x2="367.74" y2="104.39"/>
<line x1="375.05" y1="220.40" x2="379.25" y2="215.39"/>
<line x1="375.05" y1="216.70" x2="379.25" y2="211.69"/>
<line x1="375.05" y1="213.00" x2="379.25" y2="207.99"/>
<line x1="375.05" y1="209.30" x2="379.25" y2="204.29"/>
<line x1="375.05" y1="205.60" x2="379.25" y2="200.59"/>
<line x1="375.05" y1="201.90" x2="379.25" y2="196.89"/>
<line x1="375.05" y1="198.20" x2="379.25" y2="193.19"/>
<line x1="375.05" y1="194.50" x2="379.25" y2="189.49"/>
<line x1="375.05" y1="190.80" x2="379.25" y2="185.79"/>
<line x1="375.05" y1="187.10" x2="379.25" y2="182.09"/>
<line x1="375.05" y1="183.40" x2="379.25" y2="178.39"/>
<line x1="375.05" y1="179.70" x2="379.25" y2="174.69"/>
<line x1="375.05" y1="176.00" x2="379.25" y2="170.99"/>
<line x1="375.05" y1="172.30" x2="379.25" y2="167.29"/>
<line x1="375.05" y1="168.60" x2="379.25" y2="163.59"/>
<line x1="375.05" y1="164.90" x2="379.25" y2="159.89"/>
<line x1="375.05" y1="161.20" x2="379.25" y2="156.19"/>
<line x1="375.05" y1="157.50" x2="379.25" y2="152.49"/>
<line x1="375.05" y1="153.80" x2="379.25" y2="148.79"/>
<line x1="375.05" y1="150.10" x2="379.25" y2="145.09"/>
<line x1="375.05" y1="146.40" x2="379.25" y2="141.39"/>
<line x1="375.05" y1="142.70" x2="379.25" y2="137.69"/>
<line x1="375.05" y1="139.00" x2="379.25" y2="133.99"/>
<line x1="375.05" y1="135.30" x2="379.25" y2="130.29"/>
<line x1="375.05" y1="131.60" x2="379.25" y2="126.59"/>
<line x1="375.05" y1="127.90" x2="379.25" y2="122.89"/>
<line x1="375.05" y1="124.20" x2="379.25" y2="119.19"/>
<line x1="375.05" y1="120.50" x2="379.25" y2="115.49"/>
<line x1="375.05" y1="116.80" x2="379.25" y2="111.79"/>
<line x1="386.56" y1="220.40" x2="390.76" y2="215.39"/>
<line x1="386.56" y1="216.70" x2="390.76" y2="211.69"/>
<line x1="386.56" y1="213.00" x2="390.76" y2="207.99"/>
<line x1="386.56" y1="209.30" x2="390.76" y2="204.29"/>
<line x1="386.56" y1="205.60" x2="390.76" y2="200.59"/>
<line x1="386.56" y1="201.90" x2="390.76" y2="196.89"/>
<line x1="386.56" y1="198.20" x2="390.76" y2="193.19"/>
<line x1="386.56" y1="194.50" x2="390.76" y2="189.49"/>
<line x1="386.56" y1="190.80" x2="390.76" y2="185.79"/>
<line x1="386.56" y1="187.10" x2="390.76" y2="182.09"/>
<line x1="386.56" y1="183.40" x2="390.76" y2="178.39"/>
<line x1="386.56" y1="179.70" x2="390.76" y2="174.69"/>
<line x1="386.56" y1="176.00" x2="390.76" y2="170.99"/>
<line x1="386.56" y1="172.30" x2="390.76" y2="167.29"/>
<line x1="386.56" y1="168.60" x2="390.76" y2="163.59"/>
<line x1="386.56" y1="164.90" x2="390.76" y2="159.89"/>
<line x1="386.56" y1="161.20" x2="390.76" y2="156.19"/>
<line x1="386.56" y1="157.50" x2="390.76" y2="152.49"/>
<line x1="386.56" y1="153.80" x2="390.76" y2="148.79"/>
<line x1="386.56" y1="150.10" x2="390.76" y2="145.09"/>
<line x1="386.56" y1="146.40" x2="390.76" y2="141.39"/>
<line x1="386.56" y1="142.70" x2="390.76" y2="137.69"/>
<line x1="386.56" y1="139.00" x2="390.76" y2="133.99"/>
<line x1="386.56" y1="135.30" x2="390.76" y2="130.29"/>
<line x1="386.56" y1="131.60" x2="390.76" y2="126.59"/>
<line x1="386.56" y1="127.90" x2="390.76" y2="122.89"/>
<line x1="386.56" y1="124.20" x2="390.76" y2="119.19"/>
<line x1="386.56" y1="120.50" x2="390.76" y2="115.49"/>
<line x1="386.56" y1="116.80" x2="390.76" y2="111.79"/>
<line x1="398.07" y1="220.40" x2="402.27" y2="215.39"/>
<line x1="398.07" y1="216.70" x2="402.27" y2="211.69"/>
<line x1="398.07" y1="213.00" x2="402.27" y2="207.99"/>
<line x1="398.07" y1="209.30" x2="402.27" y2="204.29"/>
<line x1="398.07" y1="205.60" x2="402.27" y2="200.59"/>
<line x1="398.07" y1="201.90" x2="402.27" y2="196.89"/>
<line x1="398.07" y1="198.20" x2="402.27" y2="193.19"/>
<line x1="398.07" y1="194.50" x2="402.27" y2="189.49"/>
<line x1="398.07" y1="190.80" x2="402.27" y2="185.79"/>
<line x1="398.07" y1="187.10" x2="402.27" y2="182.09"/>
<line x1="398.07" y1="183.40" x2="402.27" y2="178.39"/>
<line x1="398.07" y1="179.70" x2="402.27" y2="174.69"/>
<line x1="398.07" y1="176.00" x2="402.27" y2="170.99"/>
<line x1="398.07" y1="172.30" x2="402.27" y2="167.29"/>
<line x1="398.07" y1="168.60" x2="402.27" y2="163.59"/>
<line x1="398.07" y1="164.90" x2="402.27" y2="159.89"/>
<line x1="398.07" y1="161.20" x2="402.27" y2="156.19"/>
<line x1="398.07" y1="157.50" x2="402.27" y2="152.49"/>
<line x1="398.07" y1="153.80" x2="402.27" y2="148.79"/>
<line x1="398.07" y1="150.10" x2="402.27" y2="145.09"/>
<line x1="398.07" y1="146.40" x2="402.27" y2="141.39"/>
<line x1="398.07" y1="142.70" x2="402.27" y2="137.69"/>
<line x1="398.07" y1="139.00" x2="402.27" y2="133.99"/>
<line x1="398.07" y1="135.30" x2="402.27" y2="130.29"/>
<line x1="398.07" y1="131.60" x2="402.27" y2="126.59"/>
<line x1="398.07" y1="127.90" x2="402.27" y2="122.89"/>
<line x1="409.58" y1="220.40" x2="413.78" y2="215.39"/>
<line x1="409.58" y1="216.70" x2="413.78" y2="211.69"/>
<line x1="409.58" y1="213.00" x2="413.78" y2="207.99"/>
<line x1="409.58" y1="209.30" x2="413.78" y2="204.29"/>
<line x1="409.58" y1="205.60" x2="413.78" y2="200.59"/>
<line x1="409.58" y1="201.90" x2="413.78" y2="196.89"/>
<line x1="409.58" y1="198.20" x2="413.78" y2="193.19"/>
<line x1="409.58" y1="194.50" x2="413.78" y2="189.49"/>
<line x1="409.58" y1="190.80" x2="413.78" y2="185.79"/>
<line x1="409.58" y1="187.10" x2="413.78" y2="182.09"/>
<line x1="409.58" y1="183.40" x2="413.78" y2="178.39"/>
<line x1="409.58" y1="179.70" x2="413.78" y2="174.69"/>
<line x1="409.58" y1="176.00" x2="413.78" y2="170.99"/>
<line x1="409.58" y1="172.30" x2="413.78" y2="167.29"/>
<line x1="409.58" y1="168.60" x2="413.78" y2="163.59"/>
<line x1="409.58" y1="164.90" x2="413.78" y2="159.89"/>
<line x1="409.58" y1="161.20" x2="413.78" y2="156.19"/>
<line x1="409.58" y1="157.50" x2="413.78" y2="152.49"/>
<line x1="409.58" y1="153.80" x2="413.78" y2="148.79"/>
<line x1="409.58" y1="150.10" x2="413.78" y2="145.09"/>
<line x1="409.58" y1="146.40" x2="413.78" y2="141.39"/>
<line x1="409.58" y1="142.70" x2="413.78" y2="137.69"/>
<line x1="409.58" y1="139.00" x2="413.78" y2="133.99"/>
<line x1="409.58" y1="135.30" x2="413.78" y2="130.29"/>
<line x1="421.09" y1="220.40" x2="425.29" y2="215.39"/>
<line x1="421.09" y1="216.70" x2="425.29" y2="211.69"/>
<line x1="421.09" y1="213.00" x2="425.29" y2="207.99"/>
<line x1="421.09" y1="209.30" x2="425.29" y2="204.29"/>
<line x1="421.09" y1="205.60" x2="425.29" y2="200.59"/>
<line x1="421.09" y1="201.90" x2="425.29" y2="196.89"/>
<line x1="421.09" y1="198.20" x2="425.29" y2="193.19"/>
<line x1="421.09" y1="194.50" x2="425.29" y2="189.49"/>
<line x1="421.09" y1="190.80" x2="425.29" y2="185.79"/>
<line x1="421.09" y1="187.10" x2="425.29" y2="182.09"/>
<line x1="421.09" y1="183.40" x2="425.29" y2="178.39"/>
<line x1="421.09" y1="179.70" x2="425.29" y2="174.69"/>
<line x1="421.09" y1="176.00" x2="425.29" y2="170.99"/>
<line x1="421.09" y1="172.30" x2="425.29" y2="167.29"/>
<line x1="421.09" y1="168.60" x2="425.29" y2="163.59"/>
<line x1="421.09" y1="164.90" x2="425.29" y2="159.89"/>
<line x1="421.09" y1="161.20" x2="425.29" y2="156.19"/>
<line x1="421.09" y1="157.50" x2="425.29" y2="152.49"/>
<line x1="421.09" y1="153.80" x2="425.29" y2="148.79"/>
<line x1="421.09" y1="150.10" x2="425.29" y2="145.09"/>
<line x1="421.09" y1="146.40" x2="425.29" y2="141.39"/>
<line x1="421.09" y1="142.70" x2="425.29" y2="137.69"/>
<line x1="421.09" y1="139.00" x2="425.29" y2="133.99"/>
<line x1="421.09" y1="135.30" x2="425.29" y2="130.29"/>
<line x1="432.60" y1="220.40" x2="436.80" y2="215.39"/>
<line x1="432.60" y1="216.70" x2="436.80" y2="211.69"/>
<line x1="432.60" y1="213.00" x2="436.80" y2="207.99"/>
<line x1="432.60" y1="209.30" x2="436.80" y2="204.29"/>
<line x1="432.60" y1="205.60" x2="436.80" y2="200.59"/>
<line x1="432.60" y1="201.90" x2="436.80" y2="196.89"/>
<line x1="432.60" y1="198.20" x2="436.80" y2="193.19"/>
<line x1="432.60" y1="194.50" x2="436.80" y2="189.49"/>
<line x1="432.60" y1="190.80" x2="436.80" y2="185.79"/>
<line x1="432.60" y1="187.10" x2="436.80" y2="182.09"/>
<line x1="432.60" y1="183.40" x2="436.80" y2="178.39"/>
<line x1="432.60" y1="179.70" x2="436.80" y2="174.69"/>
<line x1="432.60" y1="176.00" x2="436.80" y2="170.99"/>
<line x1="432.60" y1="172.30" x2="436.80" y2="167.29"/>
<line x1="432.60" y1="168.60" x2="436.80" y2="163.59"/>
<line x1="432.60" y1="164.90" x2="436.80" y2="159.89"/>
<line x1="432.60" y1="161.20" x2="436.80" y2="156.19"/>
<line x1="432.60" y1="157.50" x2="436.80" y2="152.49"/>
<line x1="432.60" y1="153.80" x2="436.80" y2="148.79"/>
<line x1="432.60" y1="150.10" x2="436.80" y2="145.09"/>
<line x1="432.60" y1="146.40" x2="436.80" y2="141.39"/>
<line x1="432.60" y1="142.70" x2="436.80" y2="137.69"/>
<line x1="432.60" y1="139.00" x2="436.80" y2="133.99"/>
<line x1="432.60" y1="135.30" x2="436.80" y2="130.29"/>
<line x1="444.11" y1="220.40" x2="448.31" y2="215.39"/>
<line x1="444.11" y1="216.70" x2="448.31" y2="211.69"/>
<line x1="444.11" y1="213.00" x2="448.31" y2="207.99"/>
<line x1="444.11" y1="209.30" x2="448.31" y2="204.29"/>
<line x1="444.11" y1="205.60" x2="448.31" y2="200.59"/>
<line x1="444.11" y1="201.90" x2="448.31" y2="196.89"/>
<line x1="444.11" y1="198.20" x2="448.31" y2="193.19"/>
<line x1="444.11" y1="194.50" x2="448.31" y2="189.49"/>
<line x1="444.11" y1="190.80" x2="448.31" y2="185.79"/>
<line x1="444.11" y1="187.10" x2="448.31" y2="182.09"/>
<line x1="444.11" y1="183.40" x2="448.31" y2="178.39"/>
<line x1="444.11" y1="179.70" x2="448.31" y2="174.69"/>
<line x1="444.11" y1="176.00" x2="448.31" y2="170.99"/>
<line x1="444.11" y1="172.30" x2="448.31" y2="167.29"/>
<line x1="444.11" y1="168.60" x2="448.31" y2="163.59"/>
<line x1="444.11" y1="164.90" x2="448.31" y2="159.89"/>
<line x1="444.11" y1="161.20" x2="448.31" y2="156.19"/>
<line x1="444.11" y1="157.50" x2="448.31" y2="152.49"/>
<line x1="444.11" y1="153.80" x2="448.31" y2="148.79"/>
<line x1="444.11" y1="150.10" x2="448.31" y2="145.09"/>
<line x1="444.11" y1="146.40" x2="448.31" y2="141.39"/>
<line x1="444.11" y1="142.70" x2="448.31" y2="137.69"/>
<line x1="444.11" y1="139.00" x2="448.31" y2="133.99"/>
<line x1="455.62" y1="220.40" x2="459.82" y2="215.39"/>
<line x1="455.62" y1="216.70" x2="459.82" y2="211.69"/>
<line x1="455.62" y1="213.00" x2="459.82" y2="207.99"/>
<line x1="455.62" y1="209.30" x2="459.82" y2="204.29"/>
<line x1="455.62" y1="205.60" x2="459.82" y2="200.59"/>
<line x1="455.62" y1="201.90" x2="459.82" y2="196.89"/>
<line x1="455.62" y1="198.20" x2="459.82" y2="193.19"/>
<line x1="455.62" y1="194.50" x2="459.82" y2="189.49"/>
<line x1="455.62" y1="190.80" x2="459.82" y2="185.79"/>
<line x1="455.62" y1="187.10" x2="459.82" y2="182.09"/>
<line x1="455.62" y1="183.40" x2="459.82" y2="178.39"/>
<line x1="455.62" y1="179.70" x2="459.82" y2="174.69"/>
<line x1="455.62" y1="176.00" x2="459.82" y2="170.99"/>
<line x1="455.62" y1="172.30" x2="459.82" y2="167.29"/>
<line x1="455.62" y1="168.60" x2="459.82" y2="163.59"/>
<line x1="455.62" y1="164.90" x2="459.82" y2="159.89"/>
<line x1="455.62" y1="161.20" x2="459.82" y2="156.19"/>
<line x1="455.62" y1="157.50" x2="459.82" y2="152.49"/>
<line x1="455.62" y1="153.80" x2="459.82" y2="148.79"/>
<line x1="455.62" y1="150.10" x2="459.82" y2="145.09"/>
<line x1="467.13" y1="220.40" x2="471.33" y2="215.39"/>
<line x1="467.13" y1="216.70" x2="471.33" y2="211.69"/>
<line x1="467.13" y1="213.00" x2="471.33" y2="207.99"/>
<line x1="467.13" y1="209.30" x2="471.33" y2="204.29"/>
<line x1="467.13" y1="205.60" x2="471.33" y2="200.59"/>
<line x1="467.13" y1="201.90" x2="471.33" y2="196.89"/>
<line x1="467.13" y1="198.20" x2="471.33" y2="193.19"/>
<line x1="467.13" y1="194.50" x2="471.33" y2="189.49"/>
<line x1="467.13" y1="190.80" x2="471.33" y2="185.79"/>
<line x1="467.13" y1="187.10" x2="471.33" y2="182.09"/>
<line x1="467.13" y1="183.40" x2="471.33" y2="178.39"/>
<line x1="467.13" y1="179.70" x2="471.33" y2="174.69"/>
<line x1="467.13" y1="176.00" x2="471.33" y2="170.99"/>
<line x1="467.13" y1="172.30" x2="471.33" y2="167.29"/>
<line x1="467.13" y1="168.60" x2="471.33" y2="163.59"/>
<line x1="467.13" y1="164.90" x2="471.33" y2="159.89"/>
<line x1="467.13" y1="161.20" x2="471.33" y2="156.19"/>
<line x1="467.13" y1="157.50" x2="471.33" y2="152.49"/>
<line x1="478.64" y1="220.40" x2="482.84" y2="215.39"/>
<line x1="478.64" y1="216.70" x2="482.84" y2="211.69"/>
<line x1="478.64" y1="213.00" x2="482.84" y2="207.99"/>
<line x1="478.64" y1="209.30" x2="482.84" y2="204.29"/>
<line x1="478.64" y1="205.60" x2="482.84" y2="200.59"/>
<line x1="478.64" y1="201.90" x2="482.84" y2="196.89"/>
<line x1="478.64" y1="198.20" x2="482.84" y2="193.19"/>
<line x1="478.64" y1="194.50" x2="482.84" y2="189.49"/>
<line x1="478.64" y1="190.80" x2="482.84" y2="185.79"/>
<line x1="478.64" y1="187.10" x2="482.84" y2="182.09"/>
<line x1="478.64" y1="183.40" x2="482.84" y2="178.39"/>
<line x1="478.64" y1="179.70" x2="482.84" y2="174.69"/>
<line x1="478.64" y1="176.00" x2="482.84" y2="170.99"/>
<line x1="478.64" y1="172.30" x2="482.84" y2="167.29"/>
<line x1="478.64" y1="168.60" x2="482.84" y2="163.59"/>
<line x1="478.64" y1="164.90" x2="482.84" y2="159.89"/>
<line x1="478.64" y1="161.20" x2="482.84" y2="156.19"/>
<line x1="490.15" y1="220.40" x2="494.35" y2="215.39"/>
<line x1="490.15" y1="216.70" x2="494.35" y2="211.69"/>
<line x1="490.15" y1="213.00" x2="494.35" y2="207.99"/>
<line x1="490.15" y1="209.30" x2="494.35" y2="204.29"/>
<line x1="490.15" y1="205.60" x2="494.35" y2="200.59"/>
<line x1="490.15" y1="201.90" x2="494.35" y2="196.89"/>
<line x1="490.15" y1="198.20" x2="494.35" y2="193.19"/>
<line x1="490.15" y1="194.50" x2="494.35" y2="189.49"/>
<line x1="490.15" y1="190.80" x2="494.35" y2="185.79"/>
<line x1="490.15" y1="187.10" x2="494.35" y2="182.09"/>
<line x1="490.15" y1="183.40" x2="494.35" y2="178.39"/>
<line x1="490.15" y1="179.70" x2="494.35" y2="174.69"/>
<line x1="490.15" y1="176.00" x2="494.35" y2="170.99"/>
<line x1="490.15" y1="172.30" x2="494.35" y2="167.29"/>
<line x1="490.15" y1="168.60" x2="494.35" y2="163.59"/>
<line x1="490.15" y1="164.90" x2="494.35" y2="159.89"/>
<line x1="501.66" y1="220.40" x2="505.86" y2="215.39"/>
<line x1="501.66" y1="216.70" x2="505.86" y2="211.69"/>
<line x1="501.66" y1="213.00" x2="505.86" y2="207.99"/>
<line x1="501.66" y1="209.30" x2="505.86" y2="204.29"/>
<line x1="501.66" y1="205.60" x2="505.86" y2="200.59"/>
<line x1="501.66" y1="201.90" x2="505.86" y2="196.89"/>
<line x1="501.66" y1="198.20" x2="505.86" y2="193.19"/>
<line x1="501.66" y1="194.50" x2="505.86" y2="189.49"/>
<line x1="501.66" y1="190.80" x2="505.86" y2="185.79"/>
<line x1="501.66" y1="187.10" x2="505.86" y2="182.09"/>
<line x1="501.66" y1="183.40" x2="505.86" y2="178.39"/>
<line x1="501.66" y1="179.70" x2="505.86" y2="174.69"/>
<line x1="501.66" y1="176.00" x2="505.86" y2="170.99"/>
<line x1="501.66" y1="172.30" x2="505.86" y2="167.29"/>
<line x1="501.66" y1="168.60" x2="505.86" y2="163.59"/>
<line x1="501.66" y1="164.90" x2="505.86" y2="159.89"/>
<line x1="513.17" y1="220.40" x2="517.37" y2="215.39"/>
<line x1="513.17" y1="216.70" x2="517.37" y2="211.69"/>
<line x1="513.17" y1="213.00" x2="517.37" y2="207.99"/>
<line x1="513.17" y1="209.30" x2="517.37" y2="204.29"/>
<line x1="513.17" y1="205.60" x2="517.37" y2="200.59"/>
<line x1="513.17" y1="201.90" x2="517.37" y2="196.89"/>
<line x1="513.17" y1="198.20" x2="517.37" y2="193.19"/>
<line x1="513.17" y1="194.50" x2="517.37" y2="189.49"/>
<line x1="513.17" y1="190.80" x2="517.37" y2="185.79"/>
<line x1="513.17" y1="187.10" x2="517.37" y2="182.09"/>
<line x1="513.17" y1="183.40" x2="517.37" y2="178.39"/>
<line x1="513.17" y1="179.70" x2="517.37" y2="174.69"/>
<line x1="513.17" y1="176.00" x2="517.37" y2="170.99"/>
<line x1="513.17" y1="172.30" x2="517.37" y2="167.29"/>
<line x1="513.17" y1="168.60" x2="517.37" y2="163.59"/>
<line x1="513.17" y1="164.90" x2="517.37" y2="159.89"/>
<line x1="524.68" y1="220.40" x2="528.88" y2="215.39"/>
<line x1="524.68" y1="216.70" x2="528.88" y2="211.69"/>
<line x1="524.68" y1="213.00" x2="528.88" y2="207.99"/>
<line x1="524.68" y1="209.30" x2="528.88" y2="204.29"/>
<line x1="524.68" y1="205.60" x2="528.88" y2="200.59"/>
<line x1="524.68" y1="201.90" x2="528.88" y2="196.89"/>
<line x1="524.68" y1="198.20" x2="528.88" y2="193.19"/>
<line x1="524.68" y1="194.50" x2="528.88" y2="189.49"/>
<line x1="524.68" y1="190.80" x2="528.88" y2="185.79"/>
<line x1="524.68" y1="187.10" x2="528.88" y2="182.09"/>
<line x1="524.68" y1="183.40" x2="528.88" y2="178.39"/>
<line x1="524.68" y1="179.70" x2="528.88" y2="174.69"/>
<line x1="524.68" y1="176.00" x2="528.88" y2="170.99"/>
<line x1="524.68" y1="172.30" x2="528.88" y2="167.29"/>
<line x1="524.68" y1="168.60" x2="528.88" y2="163.59"/>
<line x1="536.19" y1="220.40" x2="540.39" y2="215.39"/>
<line x1="536.19" y1="216.70" x2="540.39" y2="211.69"/>
<line x1="536.19" y1="213.00" x2="540.39" y2="207.99"/>
<line x1="536.19" y1="209.30" x2="540.39" y2="204.29"/>
<line x1="536.19" y1="205.60" x2="540.39" y2="200.59"/>
<line x1="536.19" y1="201.90" x2="540.39" y2="196.89"/>
<line x1="536.19" y1="198.20" x2="540.39" y2="193.19"/>
<line x1="536.19" y1="194.50" x2="540.39" y2="189.49"/>
<line x1="536.19" y1="190.80" x2="540.39" y2="185.79"/>
<line x1="536.19" y1="187.10" x2="540.39" y2="182.09"/>
<line x1="536.19" y1="183.40" x2="540.39" y2="178.39"/>
<line x1="536.19" y1="179.70" x2="540.39" y2="174.69"/>
<line x1="536.19" y1="176.00" x2="540.39" y2="170.99"/>
<line x1="536.19" y1="172.30" x2="540.39" y2="167.29"/>
<line x1="536.19" y1="168.60" x2="540.39" y2="163.59"/>
</g>
<line x1="313.40" y1="5.00" x2="313.40" y2="219.10" stroke="#1a1a1a" stroke-width="1.4"/>
<line x1="312.70" y1="218.40" x2="543.50" y2="218.40" stroke="#1a1a1a" stroke-width="1.4"/>
<line x1="311.20" y1="218.40" x2="313.40" y2="218.40" stroke="#1a1a1a" stroke-width="0.8"/>
<text transform="translate(310.6,221.00) scale(0.97,1)" font-size="8" text-anchor="end" fill="#1a1a1a" stroke="#1a1a1a" stroke-width="0.15">0</text>
<line x1="311.20" y1="185.03" x2="313.40" y2="185.03" stroke="#1a1a1a" stroke-width="0.8"/>
<text transform="translate(310.6,187.63) scale(0.97,1)" font-size="8" text-anchor="end" fill="#1a1a1a" stroke="#1a1a1a" stroke-width="0.15">50</text>
<line x1="311.20" y1="151.67" x2="313.40" y2="151.67" stroke="#1a1a1a" stroke-width="0.8"/>
<text transform="translate(310.6,154.27) scale(0.97,1)" font-size="8" text-anchor="end" fill="#1a1a1a" stroke="#1a1a1a" stroke-width="0.15">100</text>
<line x1="311.20" y1="118.31" x2="313.40" y2="118.31" stroke="#1a1a1a" stroke-width="0.8"/>
<text transform="translate(310.6,120.91) scale(0.97,1)" font-size="8" text-anchor="end" fill="#1a1a1a" stroke="#1a1a1a" stroke-width="0.15">150</text>
<line x1="311.20" y1="84.94" x2="313.40" y2="84.94" stroke="#1a1a1a" stroke-width="0.8"/>
<text transform="translate(310.6,87.54) scale(0.97,1)" font-size="8" text-anchor="end" fill="#1a1a1a" stroke="#1a1a1a" stroke-width="0.15">200</text>
<line x1="311.20" y1="51.58" x2="313.40" y2="51.58" stroke="#1a1a1a" stroke-width="0.8"/>
<text transform="translate(310.6,54.18) scale(0.97,1)" font-size="8" text-anchor="end" fill="#1a1a1a" stroke="#1a1a1a" stroke-width="0.15">250</text>
<line x1="311.20" y1="18.21" x2="313.40" y2="18.21" stroke="#1a1a1a" stroke-width="0.8"/>
<text transform="translate(310.6,20.81) scale(0.97,1)" font-size="8" text-anchor="end" fill="#1a1a1a" stroke="#1a1a1a" stroke-width="0.15">300</text>
<line x1="319.60" y1="218.40" x2="319.60" y2="220.40" stroke="#1a1a1a" stroke-width="0.8"/>
<text transform="translate(321.80,222.60) rotate(-38)" font-size="6.1" text-anchor="end" fill="#1a1a1a">Pkinase</text>
<line x1="331.11" y1="218.40" x2="331.11" y2="220.40" stroke="#1a1a1a" stroke-width="0.8"/>
<text transform="translate(333.31,222.60) rotate(-38)" font-size="6.1" text-anchor="end" fill="#1a1a1a">PK_Tyr_Ser-Thr</text>
<line x1="342.62" y1="218.40" x2="342.62" y2="220.40" stroke="#1a1a1a" stroke-width="0.8"/>
<text transform="translate(344.82,222.60) rotate(-38)" font-size="6.1" text-anchor="end" fill="#1a1a1a">MFS_1</text>
<line x1="354.13" y1="218.40" x2="354.13" y2="220.40" stroke="#1a1a1a" stroke-width="0.8"/>
<text transform="translate(356.33,222.60) rotate(-38)" font-size="6.1" text-anchor="end" fill="#1a1a1a">RT_RNaseH_2</text>
<line x1="365.64" y1="218.40" x2="365.64" y2="220.40" stroke="#1a1a1a" stroke-width="0.8"/>
<text transform="translate(367.84,222.60) rotate(-38)" font-size="6.1" text-anchor="end" fill="#1a1a1a">RT_RNaseH</text>
<line x1="377.15" y1="218.40" x2="377.15" y2="220.40" stroke="#1a1a1a" stroke-width="0.8"/>
<text transform="translate(379.35,222.60) rotate(-38)" font-size="6.1" text-anchor="end" fill="#1a1a1a">WD40</text>
<line x1="388.66" y1="218.40" x2="388.66" y2="220.40" stroke="#1a1a1a" stroke-width="0.8"/>
<text transform="translate(390.86,222.60) rotate(-38)" font-size="6.1" text-anchor="end" fill="#1a1a1a">Integrase_H2C2</text>
<line x1="400.17" y1="218.40" x2="400.17" y2="220.40" stroke="#1a1a1a" stroke-width="0.8"/>
<text transform="translate(402.37,222.60) rotate(-38)" font-size="6.1" text-anchor="end" fill="#1a1a1a">RVT_1</text>
<line x1="411.68" y1="218.40" x2="411.68" y2="220.40" stroke="#1a1a1a" stroke-width="0.8"/>
<text transform="translate(413.88,222.60) rotate(-38)" font-size="6.1" text-anchor="end" fill="#1a1a1a">Chromo</text>
<line x1="423.19" y1="218.40" x2="423.19" y2="220.40" stroke="#1a1a1a" stroke-width="0.8"/>
<text transform="translate(425.39,222.60) rotate(-38)" font-size="6.1" text-anchor="end" fill="#1a1a1a">DUF6533</text>
<line x1="434.70" y1="218.40" x2="434.70" y2="220.40" stroke="#1a1a1a" stroke-width="0.8"/>
<text transform="translate(436.90,222.60) rotate(-38)" font-size="6.1" text-anchor="end" fill="#1a1a1a">p450</text>
<line x1="446.21" y1="218.40" x2="446.21" y2="220.40" stroke="#1a1a1a" stroke-width="0.8"/>
<text transform="translate(448.41,222.60) rotate(-38)" font-size="6.1" text-anchor="end" fill="#1a1a1a">rve</text>
<line x1="457.72" y1="218.40" x2="457.72" y2="220.40" stroke="#1a1a1a" stroke-width="0.8"/>
<text transform="translate(459.92,222.60) rotate(-38)" font-size="6.1" text-anchor="end" fill="#1a1a1a">ANAPC4_WD40</text>
<line x1="469.23" y1="218.40" x2="469.23" y2="220.40" stroke="#1a1a1a" stroke-width="0.8"/>
<text transform="translate(471.43,222.60) rotate(-38)" font-size="6.1" text-anchor="end" fill="#1a1a1a">Pkinase_fungal</text>
<line x1="480.74" y1="218.40" x2="480.74" y2="220.40" stroke="#1a1a1a" stroke-width="0.8"/>
<text transform="translate(482.94,222.60) rotate(-38)" font-size="6.1" text-anchor="end" fill="#1a1a1a">zf-CCHC</text>
<line x1="492.25" y1="218.40" x2="492.25" y2="220.40" stroke="#1a1a1a" stroke-width="0.8"/>
<text transform="translate(494.45,222.60) rotate(-38)" font-size="6.1" text-anchor="end" fill="#1a1a1a">DUF6534</text>
<line x1="503.76" y1="218.40" x2="503.76" y2="220.40" stroke="#1a1a1a" stroke-width="0.8"/>
<text transform="translate(505.96,222.60) rotate(-38)" font-size="6.1" text-anchor="end" fill="#1a1a1a">F-box-like</text>
<line x1="515.27" y1="218.40" x2="515.27" y2="220.40" stroke="#1a1a1a" stroke-width="0.8"/>
<text transform="translate(517.47,222.60) rotate(-38)" font-size="6.1" text-anchor="end" fill="#1a1a1a">NBCH_WD40</text>
<line x1="526.78" y1="218.40" x2="526.78" y2="220.40" stroke="#1a1a1a" stroke-width="0.8"/>
<text transform="translate(528.98,222.60) rotate(-38)" font-size="6.1" text-anchor="end" fill="#1a1a1a">adh_short</text>
<line x1="538.29" y1="218.40" x2="538.29" y2="220.40" stroke="#1a1a1a" stroke-width="0.8"/>
<text transform="translate(540.49,222.60) rotate(-38)" font-size="6.1" text-anchor="end" fill="#1a1a1a">Sugar_tr</text>
<text x="428.30" y="263.00" font-size="10.2" text-anchor="middle" font-weight="bold" fill="#111">Pfam Domain</text>
<text transform="translate(288.6,111.3) rotate(-90) scale(0.89,1)" font-size="10.5" text-anchor="middle" font-weight="bold" fill="#111">Gene Number</text>
<text x="280.00" y="13.60" font-size="11.5" text-anchor="start" font-weight="normal" fill="#5a1818" stroke="#5a1818" stroke-width="0.25">B</text>
<rect x="499.60" y="13.90" width="4.20" height="4.20" fill="#17be9a"/>
<rect x="499.60" y="19.55" width="4.20" height="4.20" fill="#f7895a"/>
<rect x="499.60" y="25.20" width="4.20" height="4.20" fill="#829bd8"/>
<text x="505.20" y="17.20" font-size="3.0" text-anchor="start" font-weight="normal" fill="#333" stroke="#333" stroke-width="0.06">MSG_V1 Annotation</text>
<text x="505.20" y="22.85" font-size="3.0" text-anchor="start" font-weight="normal" fill="#333" stroke="#333" stroke-width="0.06">MSG_V2 Annotation</text>
<text x="505.20" y="28.50" font-size="3.0" text-anchor="start" font-weight="normal" fill="#333" stroke="#333" stroke-width="0.06">Transcriptome Annotation</text>
<rect x="42.00" y="275.00" width="230.00" height="209.00" fill="#ededed"/>
<line x1="45.10" y1="275.00" x2="45.10" y2="484.00" stroke="#cdcdcd" stroke-width="0.6"/>
<line x1="48.97" y1="275.00" x2="48.97" y2="484.00" stroke="#cdcdcd" stroke-width="0.6"/>
<line x1="52.83" y1="275.00" x2="52.83" y2="484.00" stroke="#cdcdcd" stroke-width="0.6"/>
<line x1="56.70" y1="275.00" x2="56.70" y2="484.00" stroke="#cdcdcd" stroke-width="0.6"/>
<line x1="60.56" y1="275.00" x2="60.56" y2="484.00" stroke="#cdcdcd" stroke-width="0.6"/>
<line x1="64.43" y1="275.00" x2="64.43" y2="484.00" stroke="#cdcdcd" stroke-width="0.6"/>
<line x1="68.29" y1="275.00" x2="68.29" y2="484.00" stroke="#cdcdcd" stroke-width="0.6"/>
<line x1="72.16" y1="275.00" x2="72.16" y2="484.00" stroke="#cdcdcd" stroke-width="0.6"/>
<line x1="76.02" y1="275.00" x2="76.02" y2="484.00" stroke="#cdcdcd" stroke-width="0.6"/>
<line x1="79.89" y1="275.00" x2="79.89" y2="484.00" stroke="#cdcdcd" stroke-width="0.6"/>
<line x1="83.75" y1="275.00" x2="83.75" y2="484.00" stroke="#cdcdcd" stroke-width="0.6"/>
<line x1="87.62" y1="275.00" x2="87.62" y2="484.00" stroke="#cdcdcd" stroke-width="0.6"/>
<line x1="91.48" y1="275.00" x2="91.48" y2="484.00" stroke="#cdcdcd" stroke-width="0.6"/>
<line x1="95.34" y1="275.00" x2="95.34" y2="484.00" stroke="#cdcdcd" stroke-width="0.6"/>
<line x1="99.21" y1="275.00" x2="99.21" y2="484.00" stroke="#cdcdcd" stroke-width="0.6"/>
<line x1="103.08" y1="275.00" x2="103.08" y2="484.00" stroke="#cdcdcd" stroke-width="0.6"/>
<line x1="106.94" y1="275.00" x2="106.94" y2="484.00" stroke="#cdcdcd" stroke-width="0.6"/>
<line x1="110.81" y1="275.00" x2="110.81" y2="484.00" stroke="#cdcdcd" stroke-width="0.6"/>
<line x1="114.67" y1="275.00" x2="114.67" y2="484.00" stroke="#cdcdcd" stroke-width="0.6"/>
<line x1="118.53" y1="275.00" x2="118.53" y2="484.00" stroke="#cdcdcd" stroke-width="0.6"/>
<line x1="122.40" y1="275.00" x2="122.40" y2="484.00" stroke="#cdcdcd" stroke-width="0.6"/>
<line x1="126.27" y1="275.00" x2="126.27" y2="484.00" stroke="#cdcdcd" stroke-width="0.6"/>
<line x1="130.13" y1="275.00" x2="130.13" y2="484.00" stroke="#cdcdcd" stroke-width="0.6"/>
<line x1="134.00" y1="275.00" x2="134.00" y2="484.00" stroke="#cdcdcd" stroke-width="0.6"/>
<line x1="137.86" y1="275.00" x2="137.86" y2="484.00" stroke="#cdcdcd" stroke-width="0.6"/>
<line x1="141.72" y1="275.00" x2="141.72" y2="484.00" stroke="#cdcdcd" stroke-width="0.6"/>
<line x1="145.59" y1="275.00" x2="145.59" y2="484.00" stroke="#cdcdcd" stroke-width="0.6"/>
<line x1="149.46" y1="275.00" x2="149.46" y2="484.00" stroke="#cdcdcd" stroke-width="0.6"/>
<line x1="153.32" y1="275.00" x2="153.32" y2="484.00" stroke="#cdcdcd" stroke-width="0.6"/>
<line x1="157.19" y1="275.00" x2="157.19" y2="484.00" stroke="#cdcdcd" stroke-width="0.6"/>
<line x1="161.05" y1="275.00" x2="161.05" y2="484.00" stroke="#cdcdcd" stroke-width="0.6"/>
<line x1="164.92" y1="275.00" x2="164.92" y2="484.00" stroke="#cdcdcd" stroke-width="0.6"/>
<line x1="168.78" y1="275.00" x2="168.78" y2="484.00" stroke="#cdcdcd" stroke-width="0.6"/>
<line x1="172.65" y1="275.00" x2="172.65" y2="484.00" stroke="#cdcdcd" stroke-width="0.6"/>
<line x1="176.51" y1="275.00" x2="176.51" y2="484.00" stroke="#cdcdcd" stroke-width="0.6"/>
<line x1="180.38" y1="275.00" x2="180.38" y2="484.00" stroke="#cdcdcd" stroke-width="0.6"/>
<line x1="184.24" y1="275.00" x2="184.24" y2="484.00" stroke="#cdcdcd" stroke-width="0.6"/>
<line x1="188.10" y1="275.00" x2="188.10" y2="484.00" stroke="#cdcdcd" stroke-width="0.6"/>
<line x1="191.97" y1="275.00" x2="191.97" y2="484.00" stroke="#cdcdcd" stroke-width="0.6"/>
<line x1="195.84" y1="275.00" x2="195.84" y2="484.00" stroke="#cdcdcd" stroke-width="0.6"/>
<line x1="199.70" y1="275.00" x2="199.70" y2="484.00" stroke="#cdcdcd" stroke-width="0.6"/>
<line x1="203.56" y1="275.00" x2="203.56" y2="484.00" stroke="#cdcdcd" stroke-width="0.6"/>
<line x1="207.43" y1="275.00" x2="207.43" y2="484.00" stroke="#cdcdcd" stroke-width="0.6"/>
<line x1="211.30" y1="275.00" x2="211.30" y2="484.00" stroke="#cdcdcd" stroke-width="0.6"/>
<line x1="215.16" y1="275.00" x2="215.16" y2="484.00" stroke="#cdcdcd" stroke-width="0.6"/>
<line x1="219.03" y1="275.00" x2="219.03" y2="484.00" stroke="#cdcdcd" stroke-width="0.6"/>
<line x1="222.89" y1="275.00" x2="222.89" y2="484.00" stroke="#cdcdcd" stroke-width="0.6"/>
<line x1="226.75" y1="275.00" x2="226.75" y2="484.00" stroke="#cdcdcd" stroke-width="0.6"/>
<line x1="230.62" y1="275.00" x2="230.62" y2="484.00" stroke="#cdcdcd" stroke-width="0.6"/>
<line x1="234.49" y1="275.00" x2="234.49" y2="484.00" stroke="#cdcdcd" stroke-width="0.6"/>
<line x1="238.35" y1="275.00" x2="238.35" y2="484.00" stroke="#cdcdcd" stroke-width="0.6"/>
<line x1="242.22" y1="275.00" x2="242.22" y2="484.00" stroke="#cdcdcd" stroke-width="0.6"/>
<line x1="246.08" y1="275.00" x2="246.08" y2="484.00" stroke="#cdcdcd" stroke-width="0.6"/>
<line x1="249.94" y1="275.00" x2="249.94" y2="484.00" stroke="#cdcdcd" stroke-width="0.6"/>
<line x1="253.81" y1="275.00" x2="253.81" y2="484.00" stroke="#cdcdcd" stroke-width="0.6"/>
<line x1="257.68" y1="275.00" x2="257.68" y2="484.00" stroke="#cdcdcd" stroke-width="0.6"/>
<line x1="261.54" y1="275.00" x2="261.54" y2="484.00" stroke="#cdcdcd" stroke-width="0.6"/>
<line x1="265.41" y1="275.00" x2="265.41" y2="484.00" stroke="#cdcdcd" stroke-width="0.6"/>
<line x1="269.27" y1="275.00" x2="269.27" y2="484.00" stroke="#cdcdcd" stroke-width="0.6"/>
<line x1="42.00" y1="466.77" x2="272.00" y2="466.77" stroke="#bdbdbd" stroke-width="0.6"/>
<line x1="42.00" y1="449.53" x2="272.00" y2="449.53" stroke="#bdbdbd" stroke-width="0.6"/>
<line x1="42.00" y1="432.30" x2="272.00" y2="432.30" stroke="#bdbdbd" stroke-width="0.6"/>
<line x1="42.00" y1="415.07" x2="272.00" y2="415.07" stroke="#bdbdbd" stroke-width="0.6"/>
<line x1="42.00" y1="397.83" x2="272.00" y2="397.83" stroke="#bdbdbd" stroke-width="0.6"/>
<line x1="42.00" y1="380.60" x2="272.00" y2="380.60" stroke="#bdbdbd" stroke-width="0.6"/>
<line x1="42.00" y1="363.37" x2="272.00" y2="363.37" stroke="#bdbdbd" stroke-width="0.6"/>
<line x1="42.00" y1="346.13" x2="272.00" y2="346.13" stroke="#bdbdbd" stroke-width="0.6"/>
<line x1="42.00" y1="328.90" x2="272.00" y2="328.90" stroke="#bdbdbd" stroke-width="0.6"/>
<line x1="42.00" y1="311.67" x2="272.00" y2="311.67" stroke="#bdbdbd" stroke-width="0.6"/>
<line x1="42.00" y1="294.43" x2="272.00" y2="294.43" stroke="#bdbdbd" stroke-width="0.6"/>
<line x1="42.00" y1="277.20" x2="272.00" y2="277.20" stroke="#bdbdbd" stroke-width="0.6"/>
<rect x="43.40" y="294.14" width="3.40" height="54.23" fill="#17be9a"/>
<rect x="43.40" y="348.37" width="3.40" height="69.62" fill="#f7895a"/>
<rect x="43.40" y="418.00" width="3.40" height="66.00" fill="#829bd8"/>
<rect x="47.27" y="315.63" width="3.40" height="47.56" fill="#17be9a"/>
<rect x="47.27" y="363.19" width="3.40" height="62.38" fill="#f7895a"/>
<rect x="47.27" y="425.58" width="3.40" height="58.42" fill="#829bd8"/>
<rect x="51.13" y="459.01" width="3.40" height="8.10" fill="#17be9a"/>
<rect x="51.13" y="467.11" width="3.40" height="8.69" fill="#f7895a"/>
<rect x="51.13" y="475.80" width="3.40" height="8.20" fill="#829bd8"/>
<rect x="54.99" y="466.16" width="3.40" height="5.77" fill="#17be9a"/>
<rect x="54.99" y="471.94" width="3.40" height="6.07" fill="#f7895a"/>
<rect x="54.99" y="478.00" width="3.40" height="6.00" fill="#829bd8"/>
<rect x="58.86" y="473.59" width="3.40" height="2.00" fill="#17be9a"/>
<rect x="58.86" y="475.59" width="3.40" height="4.20" fill="#f7895a"/>
<rect x="58.86" y="479.80" width="3.40" height="4.20" fill="#829bd8"/>
<rect x="62.73" y="471.88" width="3.40" height="3.71" fill="#17be9a"/>
<rect x="62.73" y="475.59" width="3.40" height="4.62" fill="#f7895a"/>
<rect x="62.73" y="480.21" width="3.40" height="3.79" fill="#829bd8"/>
<rect x="66.59" y="471.88" width="3.40" height="4.41" fill="#17be9a"/>
<rect x="66.59" y="476.30" width="3.40" height="4.50" fill="#f7895a"/>
<rect x="66.59" y="480.79" width="3.40" height="3.21" fill="#829bd8"/>
<rect x="70.45" y="474.69" width="3.40" height="3.31" fill="#17be9a"/>
<rect x="70.45" y="478.00" width="3.40" height="3.71" fill="#f7895a"/>
<rect x="70.45" y="481.71" width="3.40" height="2.29" fill="#829bd8"/>
<rect x="74.32" y="480.79" width="3.40" height="0.91" fill="#17be9a"/>
<rect x="74.32" y="481.71" width="3.40" height="1.29" fill="#f7895a"/>
<rect x="74.32" y="483.00" width="3.40" height="1.00" fill="#829bd8"/>
<rect x="78.19" y="480.79" width="3.40" height="1.31" fill="#17be9a"/>
<rect x="78.19" y="482.10" width="3.40" height="0.90" fill="#f7895a"/>
<rect x="78.19" y="483.00" width="3.40" height="1.00" fill="#829bd8"/>
<rect x="82.05" y="482.10" width="3.40" height="0.52" fill="#17be9a"/>
<rect x="82.05" y="482.62" width="3.40" height="0.69" fill="#f7895a"/>
<rect x="82.05" y="483.31" width="3.40" height="0.69" fill="#829bd8"/>
<rect x="85.92" y="482.10" width="3.40" height="0.52" fill="#17be9a"/>
<rect x="85.92" y="482.62" width="3.40" height="0.69" fill="#f7895a"/>
<rect x="85.92" y="483.31" width="3.40" height="0.69" fill="#829bd8"/>
<rect x="89.78" y="483.00" width="3.40" height="0.31" fill="#17be9a"/>
<rect x="89.78" y="483.31" width="3.40" height="0.34" fill="#f7895a"/>
<rect x="89.78" y="483.66" width="3.40" height="0.34" fill="#829bd8"/>
<rect x="93.64" y="483.48" width="3.40" height="0.17" fill="#17be9a"/>
<rect x="93.64" y="483.66" width="3.40" height="0.17" fill="#f7895a"/>
<rect x="93.64" y="483.83" width="3.40" height="0.17" fill="#829bd8"/>
<rect x="97.51" y="483.79" width="3.40" height="0.07" fill="#17be9a"/>
<rect x="97.51" y="483.86" width="3.40" height="0.07" fill="#f7895a"/>
<rect x="97.51" y="483.93" width="3.40" height="0.07" fill="#829bd8"/>
<rect x="101.38" y="483.90" width="3.40" height="0.03" fill="#17be9a"/>
<rect x="101.38" y="483.93" width="3.40" height="0.03" fill="#f7895a"/>
<rect x="101.38" y="483.97" width="3.40" height="0.03" fill="#829bd8"/>
<rect x="112.97" y="311.67" width="3.40" height="45.67" fill="#17be9a"/>
<rect x="112.97" y="357.34" width="3.40" height="66.16" fill="#f7895a"/>
<rect x="112.97" y="423.49" width="3.40" height="60.51" fill="#829bd8"/>
<rect x="116.83" y="311.67" width="3.40" height="45.67" fill="#17be9a"/>
<rect x="116.83" y="357.34" width="3.40" height="66.16" fill="#f7895a"/>
<rect x="116.83" y="423.49" width="3.40" height="60.51" fill="#829bd8"/>
<rect x="120.70" y="334.86" width="3.40" height="39.19" fill="#17be9a"/>
<rect x="120.70" y="374.05" width="3.40" height="57.44" fill="#f7895a"/>
<rect x="120.70" y="431.49" width="3.40" height="52.51" fill="#829bd8"/>
<rect x="124.57" y="384.05" width="3.40" height="26.19" fill="#17be9a"/>
<rect x="124.57" y="410.24" width="3.40" height="38.76" fill="#f7895a"/>
<rect x="124.57" y="449.00" width="3.40" height="35.00" fill="#829bd8"/>
<rect x="128.43" y="402.14" width="3.40" height="20.85" fill="#17be9a"/>
<rect x="128.43" y="422.99" width="3.40" height="31.71" fill="#f7895a"/>
<rect x="128.43" y="454.70" width="3.40" height="29.30" fill="#829bd8"/>
<rect x="132.30" y="419.03" width="3.40" height="17.06" fill="#17be9a"/>
<rect x="132.30" y="436.09" width="3.40" height="25.51" fill="#f7895a"/>
<rect x="132.30" y="461.60" width="3.40" height="22.40" fill="#829bd8"/>
<rect x="136.16" y="437.59" width="3.40" height="12.51" fill="#17be9a"/>
<rect x="136.16" y="450.10" width="3.40" height="18.09" fill="#f7895a"/>
<rect x="136.16" y="468.20" width="3.40" height="15.80" fill="#829bd8"/>
<rect x="140.03" y="437.59" width="3.40" height="12.51" fill="#17be9a"/>
<rect x="140.03" y="450.10" width="3.40" height="18.09" fill="#f7895a"/>
<rect x="140.03" y="468.20" width="3.40" height="15.80" fill="#829bd8"/>
<rect x="143.89" y="479.11" width="3.40" height="1.69" fill="#17be9a"/>
<rect x="143.89" y="480.79" width="3.40" height="1.10" fill="#f7895a"/>
<rect x="143.89" y="481.90" width="3.40" height="2.10" fill="#829bd8"/>
<rect x="147.76" y="481.90" width="3.40" height="0.55" fill="#17be9a"/>
<rect x="147.76" y="482.45" width="3.40" height="0.52" fill="#f7895a"/>
<rect x="147.76" y="482.97" width="3.40" height="1.03" fill="#829bd8"/>
<rect x="151.62" y="483.00" width="3.40" height="0.31" fill="#17be9a"/>
<rect x="151.62" y="483.31" width="3.40" height="0.26" fill="#f7895a"/>
<rect x="151.62" y="483.57" width="3.40" height="0.43" fill="#829bd8"/>
<rect x="155.49" y="483.66" width="3.40" height="0.10" fill="#17be9a"/>
<rect x="155.49" y="483.76" width="3.40" height="0.10" fill="#f7895a"/>
<rect x="155.49" y="483.86" width="3.40" height="0.14" fill="#829bd8"/>
<rect x="167.08" y="275.00" width="3.40" height="57.17" fill="#17be9a"/>
<rect x="167.08" y="332.17" width="3.40" height="78.20" fill="#f7895a"/>
<rect x="167.08" y="410.38" width="3.40" height="73.62" fill="#829bd8"/>
<rect x="170.95" y="279.77" width="3.40" height="55.20" fill="#17be9a"/>
<rect x="170.95" y="334.97" width="3.40" height="76.91" fill="#f7895a"/>
<rect x="170.95" y="411.88" width="3.40" height="72.12" fill="#829bd8"/>
<rect x="174.81" y="400.49" width="3.40" height="24.01" fill="#17be9a"/>
<rect x="174.81" y="424.49" width="3.40" height="31.30" fill="#f7895a"/>
<rect x="174.81" y="455.79" width="3.40" height="28.21" fill="#829bd8"/>
<rect x="178.68" y="404.88" width="3.40" height="21.40" fill="#17be9a"/>
<rect x="178.68" y="426.29" width="3.40" height="30.50" fill="#f7895a"/>
<rect x="178.68" y="456.79" width="3.40" height="27.21" fill="#829bd8"/>
<rect x="182.54" y="413.19" width="3.40" height="20.11" fill="#17be9a"/>
<rect x="182.54" y="433.30" width="3.40" height="26.19" fill="#f7895a"/>
<rect x="182.54" y="459.49" width="3.40" height="24.51" fill="#829bd8"/>
<rect x="186.41" y="416.48" width="3.40" height="18.51" fill="#17be9a"/>
<rect x="186.41" y="434.99" width="3.40" height="25.61" fill="#f7895a"/>
<rect x="186.41" y="460.60" width="3.40" height="23.40" fill="#829bd8"/>
<rect x="190.27" y="429.28" width="3.40" height="16.01" fill="#17be9a"/>
<rect x="190.27" y="445.29" width="3.40" height="20.30" fill="#f7895a"/>
<rect x="190.27" y="465.59" width="3.40" height="18.41" fill="#829bd8"/>
<rect x="194.14" y="454.00" width="3.40" height="7.60" fill="#17be9a"/>
<rect x="194.14" y="461.60" width="3.40" height="12.70" fill="#f7895a"/>
<rect x="194.14" y="474.30" width="3.40" height="9.70" fill="#829bd8"/>
<rect x="198.00" y="455.10" width="3.40" height="7.60" fill="#17be9a"/>
<rect x="198.00" y="462.70" width="3.40" height="11.60" fill="#f7895a"/>
<rect x="198.00" y="474.30" width="3.40" height="9.70" fill="#829bd8"/>
<rect x="201.87" y="463.80" width="3.40" height="6.10" fill="#17be9a"/>
<rect x="201.87" y="469.90" width="3.40" height="7.50" fill="#f7895a"/>
<rect x="201.87" y="477.40" width="3.40" height="6.60" fill="#829bd8"/>
<rect x="205.73" y="464.18" width="3.40" height="6.03" fill="#17be9a"/>
<rect x="205.73" y="470.21" width="3.40" height="7.19" fill="#f7895a"/>
<rect x="205.73" y="477.40" width="3.40" height="6.60" fill="#829bd8"/>
<rect x="209.60" y="465.59" width="3.40" height="5.20" fill="#17be9a"/>
<rect x="209.60" y="470.80" width="3.40" height="7.20" fill="#f7895a"/>
<rect x="209.60" y="478.00" width="3.40" height="6.00" fill="#829bd8"/>
<rect x="213.46" y="469.30" width="3.40" height="4.29" fill="#17be9a"/>
<rect x="213.46" y="473.59" width="3.40" height="5.51" fill="#f7895a"/>
<rect x="213.46" y="479.11" width="3.40" height="4.89" fill="#829bd8"/>
<rect x="217.33" y="469.70" width="3.40" height="4.39" fill="#17be9a"/>
<rect x="217.33" y="474.09" width="3.40" height="5.26" fill="#f7895a"/>
<rect x="217.33" y="479.35" width="3.40" height="4.65" fill="#829bd8"/>
<rect x="221.19" y="474.90" width="3.40" height="2.90" fill="#17be9a"/>
<rect x="221.19" y="477.80" width="3.40" height="3.60" fill="#f7895a"/>
<rect x="221.19" y="481.40" width="3.40" height="2.60" fill="#829bd8"/>
<rect x="225.06" y="479.80" width="3.40" height="1.40" fill="#17be9a"/>
<rect x="225.06" y="481.19" width="3.40" height="1.60" fill="#f7895a"/>
<rect x="225.06" y="482.79" width="3.40" height="1.21" fill="#829bd8"/>
<rect x="228.92" y="481.90" width="3.40" height="0.69" fill="#17be9a"/>
<rect x="228.92" y="482.59" width="3.40" height="0.90" fill="#f7895a"/>
<rect x="228.92" y="483.48" width="3.40" height="0.52" fill="#829bd8"/>
<rect x="232.79" y="483.10" width="3.40" height="0.38" fill="#17be9a"/>
<rect x="232.79" y="483.48" width="3.40" height="0.31" fill="#f7895a"/>
<rect x="232.79" y="483.79" width="3.40" height="0.21" fill="#829bd8"/>
<rect x="236.65" y="483.57" width="3.40" height="0.17" fill="#17be9a"/>
<rect x="236.65" y="483.74" width="3.40" height="0.16" fill="#f7895a"/>
<rect x="236.65" y="483.90" width="3.40" height="0.10" fill="#829bd8"/>
<rect x="240.52" y="483.74" width="3.40" height="0.10" fill="#17be9a"/>
<rect x="240.52" y="483.84" width="3.40" height="0.09" fill="#f7895a"/>
<rect x="240.52" y="483.93" width="3.40" height="0.07" fill="#829bd8"/>
<rect x="244.38" y="483.90" width="3.40" height="0.03" fill="#17be9a"/>
<rect x="244.38" y="483.93" width="3.40" height="0.03" fill="#f7895a"/>
<rect x="244.38" y="483.97" width="3.40" height="0.03" fill="#829bd8"/>
<line x1="42.00" y1="275.00" x2="42.00" y2="484.70" stroke="#444" stroke-width="1.2"/>
<line x1="41.40" y1="484.00" x2="272.00" y2="484.00" stroke="#1a1a1a" stroke-width="1.3"/>
<line x1="40.00" y1="484.00" x2="42.00" y2="484.00" stroke="#1a1a1a" stroke-width="0.7"/>
<text transform="translate(38.9,486.50) scale(0.91,1)" font-size="6.4" text-anchor="end" fill="#1a1a1a" stroke="#1a1a1a" stroke-width="0.12">0</text>
<line x1="40.00" y1="466.77" x2="42.00" y2="466.77" stroke="#1a1a1a" stroke-width="0.7"/>
<text transform="translate(38.9,469.27) scale(0.91,1)" font-size="6.4" text-anchor="end" fill="#1a1a1a" stroke="#1a1a1a" stroke-width="0.12">1000</text>
<line x1="40.00" y1="449.53" x2="42.00" y2="449.53" stroke="#1a1a1a" stroke-width="0.7"/>
<text transform="translate(38.9,452.03) scale(0.91,1)" font-size="6.4" text-anchor="end" fill="#1a1a1a" stroke="#1a1a1a" stroke-width="0.12">2000</text>
<line x1="40.00" y1="432.30" x2="42.00" y2="432.30" stroke="#1a1a1a" stroke-width="0.7"/>
<text transform="translate(38.9,434.80) scale(0.91,1)" font-size="6.4" text-anchor="end" fill="#1a1a1a" stroke="#1a1a1a" stroke-width="0.12">3000</text>
<line x1="40.00" y1="415.07" x2="42.00" y2="415.07" stroke="#1a1a1a" stroke-width="0.7"/>
<text transform="translate(38.9,417.57) scale(0.91,1)" font-size="6.4" text-anchor="end" fill="#1a1a1a" stroke="#1a1a1a" stroke-width="0.12">4000</text>
<line x1="40.00" y1="397.83" x2="42.00" y2="397.83" stroke="#1a1a1a" stroke-width="0.7"/>
<text transform="translate(38.9,400.33) scale(0.91,1)" font-size="6.4" text-anchor="end" fill="#1a1a1a" stroke="#1a1a1a" stroke-width="0.12">5000</text>
<line x1="40.00" y1="380.60" x2="42.00" y2="380.60" stroke="#1a1a1a" stroke-width="0.7"/>
<text transform="translate(38.9,383.10) scale(0.91,1)" font-size="6.4" text-anchor="end" fill="#1a1a1a" stroke="#1a1a1a" stroke-width="0.12">6000</text>
<line x1="40.00" y1="363.37" x2="42.00" y2="363.37" stroke="#1a1a1a" stroke-width="0.7"/>
<text transform="translate(38.9,365.87) scale(0.91,1)" font-size="6.4" text-anchor="end" fill="#1a1a1a" stroke="#1a1a1a" stroke-width="0.12">7000</text>
<line x1="40.00" y1="346.13" x2="42.00" y2="346.13" stroke="#1a1a1a" stroke-width="0.7"/>
<text transform="translate(38.9,348.63) scale(0.91,1)" font-size="6.4" text-anchor="end" fill="#1a1a1a" stroke="#1a1a1a" stroke-width="0.12">8000</text>
<line x1="40.00" y1="328.90" x2="42.00" y2="328.90" stroke="#1a1a1a" stroke-width="0.7"/>
<text transform="translate(38.9,331.40) scale(0.91,1)" font-size="6.4" text-anchor="end" fill="#1a1a1a" stroke="#1a1a1a" stroke-width="0.12">9000</text>
<line x1="40.00" y1="311.67" x2="42.00" y2="311.67" stroke="#1a1a1a" stroke-width="0.7"/>
<text transform="translate(38.9,314.17) scale(0.91,1)" font-size="6.4" text-anchor="end" fill="#1a1a1a" stroke="#1a1a1a" stroke-width="0.12">10,000</text>
<line x1="40.00" y1="294.43" x2="42.00" y2="294.43" stroke="#1a1a1a" stroke-width="0.7"/>
<text transform="translate(38.9,296.93) scale(0.91,1)" font-size="6.4" text-anchor="end" fill="#1a1a1a" stroke="#1a1a1a" stroke-width="0.12">11,000</text>
<line x1="40.00" y1="277.20" x2="42.00" y2="277.20" stroke="#1a1a1a" stroke-width="0.7"/>
<text transform="translate(38.9,279.70) scale(0.91,1)" font-size="6.4" text-anchor="end" fill="#1a1a1a" stroke="#1a1a1a" stroke-width="0.12">12,000</text>
<text x="7.20" y="284.80" font-size="12" text-anchor="start" font-weight="normal" fill="#5a1818" stroke="#5a1818" stroke-width="0.25">C</text>
<text transform="translate(16.3,379.0) rotate(-90) scale(0.82,1)" font-size="11" text-anchor="middle" font-weight="bold" fill="#111">Gene Number</text>
<text x="141.70" y="545.60" font-size="10.2" text-anchor="middle" font-weight="bold" fill="#111">GO term</text>
<rect x="211.80" y="280.60" width="31.50" height="14.40" fill="#ffffff" fill-opacity="0.45"/>
<rect x="208.10" y="281.30" width="3.00" height="3.20" fill="#829bd8"/>
<rect x="208.10" y="286.10" width="3.00" height="3.20" fill="#f7895a"/>
<rect x="208.10" y="290.90" width="3.00" height="3.20" fill="#17be9a"/>
<g transform="translate(212.8,0) scale(0.875,1)">
<text x="0.00" y="284.00" font-size="2.8" text-anchor="start" font-weight="normal" fill="#333" stroke="#333" stroke-width="0.06">MSG_V1 Annotation</text>
<text x="0.00" y="288.80" font-size="2.8" text-anchor="start" font-weight="normal" fill="#333" stroke="#333" stroke-width="0.06">MSG_V2 Annotation</text>
<text x="0.00" y="293.60" font-size="2.8" text-anchor="start" font-weight="normal" fill="#333" stroke="#333" stroke-width="0.06">Transcriptome Annotation</text>
</g>
<line x1="28.40" y1="505.21" x2="45.70" y2="486.00" stroke="#525252" stroke-width="1.1" stroke-dasharray="13.05 1.20 11.60 1.20 100"/>
<line x1="42.77" y1="493.54" x2="49.57" y2="486.00" stroke="#525252" stroke-width="1.1" stroke-dasharray="10.15 1.20 100"/>
<line x1="34.19" y1="507.37" x2="53.43" y2="486.00" stroke="#525252" stroke-width="1.1" stroke-dasharray="15.95 1.20 11.60 1.20 100"/>
<line x1="30.46" y1="515.80" x2="57.30" y2="486.00" stroke="#525252" stroke-width="1.1" stroke-dasharray="14.50 1.20 11.60 1.20 11.60 1.20 100"/>
<line x1="34.33" y1="515.80" x2="61.16" y2="486.00" stroke="#525252" stroke-width="1.1" stroke-dasharray="13.05 1.20 11.60 1.20 13.05 1.20 100"/>
<line x1="34.31" y1="520.11" x2="65.03" y2="486.00" stroke="#525252" stroke-width="1.1" stroke-dasharray="18.85 1.20 13.05 1.20 11.60 1.20 100"/>
<line x1="49.65" y1="507.37" x2="68.89" y2="486.00" stroke="#525252" stroke-width="1.1" stroke-dasharray="15.95 1.20 11.60 1.20 100"/>
<line x1="44.95" y1="516.88" x2="72.75" y2="486.00" stroke="#525252" stroke-width="1.1" stroke-dasharray="13.05 1.20 14.50 1.20 11.60 1.20 100"/>
<line x1="47.85" y1="517.96" x2="76.62" y2="486.00" stroke="#525252" stroke-width="1.1" stroke-dasharray="15.95 1.20 13.05 1.20 11.60 1.20 100"/>
<line x1="58.50" y1="510.41" x2="80.48" y2="486.00" stroke="#525252" stroke-width="1.1" stroke-dasharray="7.25 1.20 11.60 1.20 11.60 1.20 100"/>
<line x1="59.46" y1="513.64" x2="84.35" y2="486.00" stroke="#525252" stroke-width="1.1" stroke-dasharray="13.05 1.20 10.15 1.20 11.60 1.20 100"/>
<line x1="74.80" y1="500.90" x2="88.22" y2="486.00" stroke="#525252" stroke-width="1.1" stroke-dasharray="7.25 1.20 11.60 1.20 100"/>
<line x1="66.22" y1="514.72" x2="92.08" y2="486.00" stroke="#525252" stroke-width="1.1" stroke-dasharray="11.60 1.20 13.05 1.20 11.60 1.20 100"/>
<line x1="85.44" y1="497.67" x2="95.94" y2="486.00" stroke="#525252" stroke-width="1.1" stroke-dasharray="10.15 1.20 4.35 1.20 100"/>
<line x1="73.95" y1="514.72" x2="99.81" y2="486.00" stroke="#525252" stroke-width="1.1" stroke-dasharray="17.40 1.20 7.25 1.20 11.60 1.20 100"/>
<line x1="75.07" y1="517.77" x2="103.67" y2="486.00" stroke="#525252" stroke-width="1.1" stroke-dasharray="7.25 1.20 11.60 1.20 8.70 1.20 11.60 1.20 100"/>
<line x1="83.62" y1="512.57" x2="107.54" y2="486.00" stroke="#525252" stroke-width="1.1" stroke-dasharray="10.15 1.20 10.15 1.20 13.05 1.20 100"/>
<line x1="94.11" y1="505.21" x2="111.41" y2="486.00" stroke="#525252" stroke-width="1.1" stroke-dasharray="13.05 1.20 11.60 1.20 100"/>
<line x1="106.71" y1="495.51" x2="115.27" y2="486.00" stroke="#525252" stroke-width="1.1" stroke-dasharray="5.80 1.20 5.80 1.20 100"/>
<line x1="115.25" y1="490.31" x2="119.13" y2="486.00" stroke="#525252" stroke-width="1.1" stroke-dasharray="5.80 1.20 100"/>
<line x1="114.27" y1="495.70" x2="123.00" y2="486.00" stroke="#525252" stroke-width="1.1" stroke-dasharray="13.05 1.20 100"/>
<line x1="119.10" y1="494.62" x2="126.87" y2="486.00" stroke="#525252" stroke-width="1.1" stroke-dasharray="11.60 1.20 100"/>
<line x1="118.28" y1="499.82" x2="130.73" y2="486.00" stroke="#525252" stroke-width="1.1" stroke-dasharray="11.60 1.20 5.80 1.20 100"/>
<line x1="121.18" y1="500.90" x2="134.59" y2="486.00" stroke="#525252" stroke-width="1.1" stroke-dasharray="13.05 1.20 5.80 1.20 100"/>
<line x1="113.40" y1="513.83" x2="138.46" y2="486.00" stroke="#525252" stroke-width="1.1" stroke-dasharray="26.10 1.20 10.15 1.20 100"/>
<line x1="123.09" y1="507.37" x2="142.32" y2="486.00" stroke="#525252" stroke-width="1.1" stroke-dasharray="18.85 1.20 8.70 1.20 100"/>
<line x1="124.04" y1="510.60" x2="146.19" y2="486.00" stroke="#525252" stroke-width="1.1" stroke-dasharray="24.65 1.20 7.25 1.20 100"/>
<line x1="128.88" y1="509.52" x2="150.06" y2="486.00" stroke="#525252" stroke-width="1.1" stroke-dasharray="20.30 1.20 10.15 1.20 100"/>
<line x1="141.47" y1="499.82" x2="153.92" y2="486.00" stroke="#525252" stroke-width="1.1" stroke-dasharray="5.80 1.20 11.60 1.20 100"/>
<line x1="133.86" y1="512.57" x2="157.78" y2="486.00" stroke="#525252" stroke-width="1.1" stroke-dasharray="18.85 1.20 8.70 1.20 5.80 1.20 100"/>
<line x1="154.86" y1="493.54" x2="161.65" y2="486.00" stroke="#525252" stroke-width="1.1" stroke-dasharray="10.15 1.20 100"/>
<line x1="155.01" y1="497.67" x2="165.52" y2="486.00" stroke="#525252" stroke-width="1.1" stroke-dasharray="8.70 1.20 5.80 1.20 100"/>
<line x1="154.02" y1="503.06" x2="169.38" y2="486.00" stroke="#525252" stroke-width="1.1" stroke-dasharray="11.60 1.20 10.15 1.20 100"/>
<line x1="156.92" y1="504.13" x2="173.25" y2="486.00" stroke="#525252" stroke-width="1.1" stroke-dasharray="13.05 1.20 10.15 1.20 100"/>
<line x1="156.90" y1="508.44" x2="177.11" y2="486.00" stroke="#525252" stroke-width="1.1" stroke-dasharray="14.50 1.20 14.50 1.20 100"/>
<line x1="150.43" y1="519.92" x2="180.97" y2="486.00" stroke="#525252" stroke-width="1.1" stroke-dasharray="14.50 1.20 2.90 1.20 14.50 1.20 10.15 1.20 100"/>
<line x1="165.77" y1="507.18" x2="184.84" y2="486.00" stroke="#525252" stroke-width="1.1" stroke-dasharray="11.60 1.20 2.90 1.20 11.60 1.20 100"/>
<line x1="177.06" y1="498.93" x2="188.70" y2="486.00" stroke="#525252" stroke-width="1.1" stroke-dasharray="17.40 1.20 100"/>
<line x1="162.83" y1="519.03" x2="192.57" y2="486.00" stroke="#525252" stroke-width="1.1" stroke-dasharray="11.60 1.20 13.05 1.20 17.40 1.20 100"/>
<line x1="187.70" y1="495.70" x2="196.44" y2="486.00" stroke="#525252" stroke-width="1.1" stroke-dasharray="13.05 1.20 100"/>
<line x1="171.69" y1="517.77" x2="200.30" y2="486.00" stroke="#525252" stroke-width="1.1" stroke-dasharray="11.60 1.20 14.50 1.20 2.90 1.20 10.15 1.20 100"/>
<line x1="175.56" y1="517.77" x2="204.16" y2="486.00" stroke="#525252" stroke-width="1.1" stroke-dasharray="11.60 1.20 14.50 1.20 2.90 1.20 10.15 1.20 100"/>
<line x1="187.82" y1="508.44" x2="208.03" y2="486.00" stroke="#525252" stroke-width="1.1" stroke-dasharray="18.85 1.20 10.15 1.20 100"/>
<line x1="181.18" y1="520.11" x2="211.90" y2="486.00" stroke="#525252" stroke-width="1.1" stroke-dasharray="18.85 1.20 14.50 1.20 10.15 1.20 100"/>
<line x1="204.12" y1="498.93" x2="215.76" y2="486.00" stroke="#525252" stroke-width="1.1" stroke-dasharray="17.40 1.20 100"/>
<line x1="200.39" y1="507.37" x2="219.62" y2="486.00" stroke="#525252" stroke-width="1.1" stroke-dasharray="17.40 1.20 10.15 1.20 100"/>
<line x1="202.31" y1="509.52" x2="223.49" y2="486.00" stroke="#525252" stroke-width="1.1" stroke-dasharray="20.30 1.20 10.15 1.20 100"/>
<line x1="207.31" y1="508.26" x2="227.35" y2="486.00" stroke="#525252" stroke-width="1.1" stroke-dasharray="8.70 1.20 8.70 1.20 10.15 1.20 100"/>
<line x1="221.52" y1="496.78" x2="231.22" y2="486.00" stroke="#525252" stroke-width="1.1" stroke-dasharray="14.50 1.20 100"/>
<line x1="216.82" y1="506.29" x2="235.09" y2="486.00" stroke="#525252" stroke-width="1.1" stroke-dasharray="14.50 1.20 11.60 1.20 100"/>
<line x1="233.13" y1="492.47" x2="238.95" y2="486.00" stroke="#525252" stroke-width="1.1" stroke-dasharray="8.70 1.20 100"/>
<line x1="227.46" y1="503.06" x2="242.81" y2="486.00" stroke="#525252" stroke-width="1.1" stroke-dasharray="11.60 1.20 10.15 1.20 100"/>
<line x1="233.10" y1="501.09" x2="246.68" y2="486.00" stroke="#525252" stroke-width="1.1" stroke-dasharray="20.30 1.20 100"/>
<line x1="233.25" y1="505.21" x2="250.54" y2="486.00" stroke="#525252" stroke-width="1.1" stroke-dasharray="5.80 1.20 18.85 1.20 100"/>
<line x1="246.65" y1="494.62" x2="254.41" y2="486.00" stroke="#525252" stroke-width="1.1" stroke-dasharray="11.60 1.20 100"/>
<line x1="246.63" y1="498.93" x2="258.28" y2="486.00" stroke="#525252" stroke-width="1.1" stroke-dasharray="17.40 1.20 100"/>
<line x1="250.66" y1="498.74" x2="262.14" y2="486.00" stroke="#525252" stroke-width="1.1" stroke-dasharray="5.80 1.20 10.15 1.20 100"/>
<line x1="250.65" y1="503.06" x2="266.01" y2="486.00" stroke="#525252" stroke-width="1.1" stroke-dasharray="14.50 1.20 7.25 1.20 100"/>
<line x1="252.57" y1="505.21" x2="269.87" y2="486.00" stroke="#525252" stroke-width="1.1" stroke-dasharray="8.70 1.20 15.95 1.20 100"/>
<polyline points="32.8,495 3.3,528.3 237,528.3 272.6,484" fill="none" stroke="#333" stroke-width="0.6"/>
<line x1="79.50" y1="528.30" x2="112.00" y2="495.50" stroke="#333" stroke-width="0.6"/>
<line x1="130.00" y1="528.30" x2="165.00" y2="490.00" stroke="#333" stroke-width="0.6"/>
<text x="40.00" y="532.60" font-size="4.6" text-anchor="middle" font-weight="bold" fill="#111" stroke="#111" stroke-width="0.15">molecular function</text>
<text x="103.70" y="532.60" font-size="4.6" text-anchor="middle" font-weight="bold" fill="#111" stroke="#111" stroke-width="0.15">cellular component</text>
<text x="184.00" y="532.60" font-size="4.6" text-anchor="middle" font-weight="bold" fill="#111" stroke="#111" stroke-width="0.15">biologicalprocess</text>
<rect x="426.50" y="275.10" width="117.10" height="242.90" fill="#ebebeb"/>
<line x1="426.50" y1="280.77" x2="543.60" y2="280.77" stroke="#dcdcdc" stroke-width="0.5"/>
<line x1="426.50" y1="285.92" x2="543.60" y2="285.92" stroke="#dcdcdc" stroke-width="0.5"/>
<line x1="426.50" y1="291.07" x2="543.60" y2="291.07" stroke="#dcdcdc" stroke-width="0.5"/>
<line x1="426.50" y1="296.22" x2="543.60" y2="296.22" stroke="#dcdcdc" stroke-width="0.5"/>
<line x1="426.50" y1="301.38" x2="543.60" y2="301.38" stroke="#dcdcdc" stroke-width="0.5"/>
<line x1="426.50" y1="306.52" x2="543.60" y2="306.52" stroke="#dcdcdc" stroke-width="0.5"/>
<line x1="426.50" y1="311.67" x2="543.60" y2="311.67" stroke="#dcdcdc" stroke-width="0.5"/>
<line x1="426.50" y1="316.82" x2="543.60" y2="316.82" stroke="#dcdcdc" stroke-width="0.5"/>
<line x1="426.50" y1="321.97" x2="543.60" y2="321.97" stroke="#dcdcdc" stroke-width="0.5"/>
<line x1="426.50" y1="327.12" x2="543.60" y2="327.12" stroke="#dcdcdc" stroke-width="0.5"/>
<line x1="426.50" y1="332.27" x2="543.60" y2="332.27" stroke="#dcdcdc" stroke-width="0.5"/>
<line x1="426.50" y1="337.43" x2="543.60" y2="337.43" stroke="#dcdcdc" stroke-width="0.5"/>
<line x1="426.50" y1="342.57" x2="543.60" y2="342.57" stroke="#dcdcdc" stroke-width="0.5"/>
<line x1="426.50" y1="347.72" x2="543.60" y2="347.72" stroke="#dcdcdc" stroke-width="0.5"/>
<line x1="426.50" y1="352.88" x2="543.60" y2="352.88" stroke="#dcdcdc" stroke-width="0.5"/>
<line x1="426.50" y1="358.02" x2="543.60" y2="358.02" stroke="#dcdcdc" stroke-width="0.5"/>
<line x1="426.50" y1="363.18" x2="543.60" y2="363.18" stroke="#dcdcdc" stroke-width="0.5"/>
<line x1="426.50" y1="368.32" x2="543.60" y2="368.32" stroke="#dcdcdc" stroke-width="0.5"/>
<line x1="426.50" y1="373.47" x2="543.60" y2="373.47" stroke="#dcdcdc" stroke-width="0.5"/>
<line x1="426.50" y1="378.62" x2="543.60" y2="378.62" stroke="#dcdcdc" stroke-width="0.5"/>
<line x1="426.50" y1="383.77" x2="543.60" y2="383.77" stroke="#dcdcdc" stroke-width="0.5"/>
<line x1="426.50" y1="388.93" x2="543.60" y2="388.93" stroke="#dcdcdc" stroke-width="0.5"/>
<line x1="426.50" y1="394.07" x2="543.60" y2="394.07" stroke="#dcdcdc" stroke-width="0.5"/>
<line x1="426.50" y1="399.22" x2="543.60" y2="399.22" stroke="#dcdcdc" stroke-width="0.5"/>
<line x1="426.50" y1="404.38" x2="543.60" y2="404.38" stroke="#dcdcdc" stroke-width="0.5"/>
<line x1="426.50" y1="409.52" x2="543.60" y2="409.52" stroke="#dcdcdc" stroke-width="0.5"/>
<line x1="426.50" y1="414.68" x2="543.60" y2="414.68" stroke="#dcdcdc" stroke-width="0.5"/>
<line x1="426.50" y1="419.82" x2="543.60" y2="419.82" stroke="#dcdcdc" stroke-width="0.5"/>
<line x1="426.50" y1="424.97" x2="543.60" y2="424.97" stroke="#dcdcdc" stroke-width="0.5"/>
<line x1="426.50" y1="430.12" x2="543.60" y2="430.12" stroke="#dcdcdc" stroke-width="0.5"/>
<line x1="426.50" y1="435.27" x2="543.60" y2="435.27" stroke="#dcdcdc" stroke-width="0.5"/>
<line x1="426.50" y1="440.43" x2="543.60" y2="440.43" stroke="#dcdcdc" stroke-width="0.5"/>
<line x1="426.50" y1="445.57" x2="543.60" y2="445.57" stroke="#dcdcdc" stroke-width="0.5"/>
<line x1="426.50" y1="450.72" x2="543.60" y2="450.72" stroke="#dcdcdc" stroke-width="0.5"/>
<line x1="426.50" y1="455.88" x2="543.60" y2="455.88" stroke="#dcdcdc" stroke-width="0.5"/>
<line x1="426.50" y1="461.02" x2="543.60" y2="461.02" stroke="#dcdcdc" stroke-width="0.5"/>
<line x1="426.50" y1="466.18" x2="543.60" y2="466.18" stroke="#dcdcdc" stroke-width="0.5"/>
<line x1="426.50" y1="471.32" x2="543.60" y2="471.32" stroke="#dcdcdc" stroke-width="0.5"/>
<line x1="426.50" y1="476.47" x2="543.60" y2="476.47" stroke="#dcdcdc" stroke-width="0.5"/>
<line x1="426.50" y1="481.62" x2="543.60" y2="481.62" stroke="#dcdcdc" stroke-width="0.5"/>
<line x1="426.50" y1="486.77" x2="543.60" y2="486.77" stroke="#dcdcdc" stroke-width="0.5"/>
<line x1="426.50" y1="491.93" x2="543.60" y2="491.93" stroke="#dcdcdc" stroke-width="0.5"/>
<line x1="426.50" y1="497.07" x2="543.60" y2="497.07" stroke="#dcdcdc" stroke-width="0.5"/>
<line x1="426.50" y1="502.22" x2="543.60" y2="502.22" stroke="#dcdcdc" stroke-width="0.5"/>
<line x1="426.50" y1="507.38" x2="543.60" y2="507.38" stroke="#dcdcdc" stroke-width="0.5"/>
<line x1="426.50" y1="512.53" x2="543.60" y2="512.53" stroke="#dcdcdc" stroke-width="0.5"/>
<line x1="426.50" y1="517.68" x2="543.60" y2="517.68" stroke="#dcdcdc" stroke-width="0.5"/>
<line x1="426.50" y1="278.20" x2="543.60" y2="278.20" stroke="#d2d2d2" stroke-width="0.6"/>
<line x1="426.50" y1="283.35" x2="543.60" y2="283.35" stroke="#d2d2d2" stroke-width="0.6"/>
<line x1="426.50" y1="288.50" x2="543.60" y2="288.50" stroke="#d2d2d2" stroke-width="0.6"/>
<line x1="426.50" y1="293.65" x2="543.60" y2="293.65" stroke="#d2d2d2" stroke-width="0.6"/>
<line x1="426.50" y1="298.80" x2="543.60" y2="298.80" stroke="#d2d2d2" stroke-width="0.6"/>
<line x1="426.50" y1="303.95" x2="543.60" y2="303.95" stroke="#d2d2d2" stroke-width="0.6"/>
<line x1="426.50" y1="309.10" x2="543.60" y2="309.10" stroke="#d2d2d2" stroke-width="0.6"/>
<line x1="426.50" y1="314.25" x2="543.60" y2="314.25" stroke="#d2d2d2" stroke-width="0.6"/>
<line x1="426.50" y1="319.40" x2="543.60" y2="319.40" stroke="#d2d2d2" stroke-width="0.6"/>
<line x1="426.50" y1="324.55" x2="543.60" y2="324.55" stroke="#d2d2d2" stroke-width="0.6"/>
<line x1="426.50" y1="329.70" x2="543.60" y2="329.70" stroke="#d2d2d2" stroke-width="0.6"/>
<line x1="426.50" y1="334.85" x2="543.60" y2="334.85" stroke="#d2d2d2" stroke-width="0.6"/>
<line x1="426.50" y1="340.00" x2="543.60" y2="340.00" stroke="#d2d2d2" stroke-width="0.6"/>
<line x1="426.50" y1="345.15" x2="543.60" y2="345.15" stroke="#d2d2d2" stroke-width="0.6"/>
<line x1="426.50" y1="350.30" x2="543.60" y2="350.30" stroke="#d2d2d2" stroke-width="0.6"/>
<line x1="426.50" y1="355.45" x2="543.60" y2="355.45" stroke="#d2d2d2" stroke-width="0.6"/>
<line x1="426.50" y1="360.60" x2="543.60" y2="360.60" stroke="#d2d2d2" stroke-width="0.6"/>
<line x1="426.50" y1="365.75" x2="543.60" y2="365.75" stroke="#d2d2d2" stroke-width="0.6"/>
<line x1="426.50" y1="370.90" x2="543.60" y2="370.90" stroke="#d2d2d2" stroke-width="0.6"/>
<line x1="426.50" y1="376.05" x2="543.60" y2="376.05" stroke="#d2d2d2" stroke-width="0.6"/>
<line x1="426.50" y1="381.20" x2="543.60" y2="381.20" stroke="#d2d2d2" stroke-width="0.6"/>
<line x1="426.50" y1="386.35" x2="543.60" y2="386.35" stroke="#d2d2d2" stroke-width="0.6"/>
<line x1="426.50" y1="391.50" x2="543.60" y2="391.50" stroke="#d2d2d2" stroke-width="0.6"/>
<line x1="426.50" y1="396.65" x2="543.60" y2="396.65" stroke="#d2d2d2" stroke-width="0.6"/>
<line x1="426.50" y1="401.80" x2="543.60" y2="401.80" stroke="#d2d2d2" stroke-width="0.6"/>
<line x1="426.50" y1="406.95" x2="543.60" y2="406.95" stroke="#d2d2d2" stroke-width="0.6"/>
<line x1="426.50" y1="412.10" x2="543.60" y2="412.10" stroke="#d2d2d2" stroke-width="0.6"/>
<line x1="426.50" y1="417.25" x2="543.60" y2="417.25" stroke="#d2d2d2" stroke-width="0.6"/>
<line x1="426.50" y1="422.40" x2="543.60" y2="422.40" stroke="#d2d2d2" stroke-width="0.6"/>
<line x1="426.50" y1="427.55" x2="543.60" y2="427.55" stroke="#d2d2d2" stroke-width="0.6"/>
<line x1="426.50" y1="432.70" x2="543.60" y2="432.70" stroke="#d2d2d2" stroke-width="0.6"/>
<line x1="426.50" y1="437.85" x2="543.60" y2="437.85" stroke="#d2d2d2" stroke-width="0.6"/>
<line x1="426.50" y1="443.00" x2="543.60" y2="443.00" stroke="#d2d2d2" stroke-width="0.6"/>
<line x1="426.50" y1="448.15" x2="543.60" y2="448.15" stroke="#d2d2d2" stroke-width="0.6"/>
<line x1="426.50" y1="453.30" x2="543.60" y2="453.30" stroke="#d2d2d2" stroke-width="0.6"/>
<line x1="426.50" y1="458.45" x2="543.60" y2="458.45" stroke="#d2d2d2" stroke-width="0.6"/>
<line x1="426.50" y1="463.60" x2="543.60" y2="463.60" stroke="#d2d2d2" stroke-width="0.6"/>
<line x1="426.50" y1="468.75" x2="543.60" y2="468.75" stroke="#d2d2d2" stroke-width="0.6"/>
<line x1="426.50" y1="473.90" x2="543.60" y2="473.90" stroke="#d2d2d2" stroke-width="0.6"/>
<line x1="426.50" y1="479.05" x2="543.60" y2="479.05" stroke="#d2d2d2" stroke-width="0.6"/>
<line x1="426.50" y1="484.20" x2="543.60" y2="484.20" stroke="#d2d2d2" stroke-width="0.6"/>
<line x1="426.50" y1="489.35" x2="543.60" y2="489.35" stroke="#d2d2d2" stroke-width="0.6"/>
<line x1="426.50" y1="494.50" x2="543.60" y2="494.50" stroke="#d2d2d2" stroke-width="0.6"/>
<line x1="426.50" y1="499.65" x2="543.60" y2="499.65" stroke="#d2d2d2" stroke-width="0.6"/>
<line x1="426.50" y1="504.80" x2="543.60" y2="504.80" stroke="#d2d2d2" stroke-width="0.6"/>
<line x1="426.50" y1="509.95" x2="543.60" y2="509.95" stroke="#d2d2d2" stroke-width="0.6"/>
<line x1="426.50" y1="515.10" x2="543.60" y2="515.10" stroke="#d2d2d2" stroke-width="0.6"/>
<line x1="438.60" y1="275.10" x2="438.60" y2="518.00" stroke="#c6c6c6" stroke-width="0.7"/>
<line x1="450.70" y1="275.10" x2="450.70" y2="518.00" stroke="#c6c6c6" stroke-width="0.7"/>
<line x1="462.80" y1="275.10" x2="462.80" y2="518.00" stroke="#c6c6c6" stroke-width="0.7"/>
<line x1="474.90" y1="275.10" x2="474.90" y2="518.00" stroke="#c6c6c6" stroke-width="0.7"/>
<line x1="487.00" y1="275.10" x2="487.00" y2="518.00" stroke="#c6c6c6" stroke-width="0.7"/>
<line x1="499.10" y1="275.10" x2="499.10" y2="518.00" stroke="#c6c6c6" stroke-width="0.7"/>
<line x1="511.20" y1="275.10" x2="511.20" y2="518.00" stroke="#c6c6c6" stroke-width="0.7"/>
<line x1="523.30" y1="275.10" x2="523.30" y2="518.00" stroke="#c6c6c6" stroke-width="0.7"/>
<line x1="535.40" y1="275.10" x2="535.40" y2="518.00" stroke="#c6c6c6" stroke-width="0.7"/>
<rect x="427.20" y="276.55" width="16.20" height="3.30" fill="#829bd8"/>
<rect x="443.40" y="276.55" width="17.00" height="3.30" fill="#f7895a"/>
<rect x="460.40" y="276.55" width="15.50" height="3.30" fill="#17be9a"/>
<rect x="427.20" y="281.70" width="7.70" height="3.30" fill="#829bd8"/>
<rect x="434.90" y="281.70" width="7.30" height="3.30" fill="#f7895a"/>
<rect x="442.20" y="281.70" width="5.00" height="3.30" fill="#17be9a"/>
<rect x="427.20" y="286.85" width="7.70" height="3.30" fill="#829bd8"/>
<rect x="434.90" y="286.85" width="8.50" height="3.30" fill="#f7895a"/>
<rect x="443.40" y="286.85" width="6.30" height="3.30" fill="#17be9a"/>
<rect x="427.20" y="292.00" width="4.30" height="3.30" fill="#829bd8"/>
<rect x="431.50" y="292.00" width="5.00" height="3.30" fill="#f7895a"/>
<rect x="436.50" y="292.00" width="3.40" height="3.30" fill="#17be9a"/>
<rect x="427.20" y="297.15" width="24.10" height="3.30" fill="#829bd8"/>
<rect x="451.30" y="297.15" width="25.80" height="3.30" fill="#f7895a"/>
<rect x="477.10" y="297.15" width="20.40" height="3.30" fill="#17be9a"/>
<rect x="427.20" y="302.30" width="2.50" height="3.30" fill="#829bd8"/>
<rect x="429.70" y="302.30" width="3.00" height="3.30" fill="#f7895a"/>
<rect x="432.70" y="302.30" width="3.10" height="3.30" fill="#17be9a"/>
<rect x="427.20" y="307.45" width="4.30" height="3.30" fill="#829bd8"/>
<rect x="431.50" y="307.45" width="5.00" height="3.30" fill="#f7895a"/>
<rect x="436.50" y="307.45" width="4.10" height="3.30" fill="#17be9a"/>
<rect x="427.20" y="312.60" width="6.60" height="3.30" fill="#829bd8"/>
<rect x="433.80" y="312.60" width="6.80" height="3.30" fill="#f7895a"/>
<rect x="440.60" y="312.60" width="5.50" height="3.30" fill="#17be9a"/>
<rect x="427.20" y="317.75" width="0.90" height="3.30" fill="#829bd8"/>
<rect x="428.10" y="317.75" width="0.90" height="3.30" fill="#f7895a"/>
<rect x="429.00" y="317.75" width="1.40" height="3.30" fill="#17be9a"/>
<rect x="427.20" y="322.90" width="1.40" height="3.30" fill="#829bd8"/>
<rect x="428.60" y="322.90" width="2.20" height="3.30" fill="#f7895a"/>
<rect x="430.80" y="322.90" width="1.90" height="3.30" fill="#17be9a"/>
<rect x="427.20" y="328.05" width="2.50" height="3.30" fill="#829bd8"/>
<rect x="429.70" y="328.05" width="2.70" height="3.30" fill="#f7895a"/>
<rect x="432.40" y="328.05" width="3.40" height="3.30" fill="#17be9a"/>
<rect x="427.20" y="333.20" width="7.50" height="3.30" fill="#829bd8"/>
<rect x="434.70" y="333.20" width="9.10" height="3.30" fill="#f7895a"/>
<rect x="443.80" y="333.20" width="4.80" height="3.30" fill="#17be9a"/>
<rect x="427.20" y="338.35" width="15.00" height="3.30" fill="#829bd8"/>
<rect x="442.20" y="338.35" width="20.50" height="3.30" fill="#f7895a"/>
<rect x="462.70" y="338.35" width="9.80" height="3.30" fill="#17be9a"/>
<rect x="427.20" y="343.50" width="14.60" height="3.30" fill="#829bd8"/>
<rect x="441.80" y="343.50" width="15.20" height="3.30" fill="#f7895a"/>
<rect x="457.00" y="343.50" width="9.80" height="3.30" fill="#17be9a"/>
<rect x="427.20" y="348.65" width="8.20" height="3.30" fill="#829bd8"/>
<rect x="435.40" y="348.65" width="9.50" height="3.30" fill="#f7895a"/>
<rect x="444.90" y="348.65" width="8.00" height="3.30" fill="#17be9a"/>
<rect x="427.20" y="353.80" width="0.40" height="3.30" fill="#829bd8"/>
<rect x="427.60" y="353.80" width="0.50" height="3.30" fill="#f7895a"/>
<rect x="428.10" y="353.80" width="0.50" height="3.30" fill="#17be9a"/>
<rect x="427.20" y="358.95" width="0.40" height="3.30" fill="#829bd8"/>
<rect x="427.60" y="358.95" width="0.50" height="3.30" fill="#f7895a"/>
<rect x="427.20" y="364.10" width="24.10" height="3.30" fill="#829bd8"/>
<rect x="451.30" y="364.10" width="25.50" height="3.30" fill="#f7895a"/>
<rect x="476.80" y="364.10" width="19.40" height="3.30" fill="#17be9a"/>
<rect x="427.20" y="374.40" width="16.80" height="3.30" fill="#829bd8"/>
<rect x="444.00" y="374.40" width="18.30" height="3.30" fill="#f7895a"/>
<rect x="462.30" y="374.40" width="13.60" height="3.30" fill="#17be9a"/>
<rect x="427.20" y="379.55" width="19.60" height="3.30" fill="#829bd8"/>
<rect x="446.80" y="379.55" width="20.90" height="3.30" fill="#f7895a"/>
<rect x="467.70" y="379.55" width="17.80" height="3.30" fill="#17be9a"/>
<rect x="427.20" y="384.70" width="2.90" height="3.30" fill="#829bd8"/>
<rect x="430.10" y="384.70" width="3.50" height="3.30" fill="#f7895a"/>
<rect x="433.60" y="384.70" width="2.50" height="3.30" fill="#17be9a"/>
<rect x="427.20" y="389.85" width="0.40" height="3.30" fill="#829bd8"/>
<rect x="427.60" y="389.85" width="0.50" height="3.30" fill="#f7895a"/>
<rect x="427.20" y="395.00" width="0.90" height="3.30" fill="#829bd8"/>
<rect x="428.10" y="395.00" width="1.60" height="3.30" fill="#f7895a"/>
<rect x="429.70" y="395.00" width="1.10" height="3.30" fill="#17be9a"/>
<rect x="427.20" y="400.15" width="9.80" height="3.30" fill="#829bd8"/>
<rect x="437.00" y="400.15" width="10.50" height="3.30" fill="#f7895a"/>
<rect x="447.50" y="400.15" width="6.60" height="3.30" fill="#17be9a"/>
<rect x="427.20" y="405.30" width="11.10" height="3.30" fill="#829bd8"/>
<rect x="438.30" y="405.30" width="12.30" height="3.30" fill="#f7895a"/>
<rect x="450.60" y="405.30" width="9.80" height="3.30" fill="#17be9a"/>
<rect x="427.20" y="410.45" width="1.40" height="3.30" fill="#829bd8"/>
<rect x="428.60" y="410.45" width="1.80" height="3.30" fill="#f7895a"/>
<rect x="430.40" y="410.45" width="1.60" height="3.30" fill="#17be9a"/>
<rect x="427.20" y="415.60" width="1.80" height="3.30" fill="#829bd8"/>
<rect x="429.00" y="415.60" width="3.00" height="3.30" fill="#f7895a"/>
<rect x="432.00" y="415.60" width="2.20" height="3.30" fill="#17be9a"/>
<rect x="427.20" y="420.75" width="1.40" height="3.30" fill="#829bd8"/>
<rect x="428.60" y="420.75" width="2.20" height="3.30" fill="#f7895a"/>
<rect x="430.80" y="420.75" width="1.90" height="3.30" fill="#17be9a"/>
<rect x="427.20" y="425.90" width="6.40" height="3.30" fill="#829bd8"/>
<rect x="433.60" y="425.90" width="7.50" height="3.30" fill="#f7895a"/>
<rect x="441.10" y="425.90" width="5.70" height="3.30" fill="#17be9a"/>
<rect x="427.20" y="431.05" width="0.90" height="3.30" fill="#829bd8"/>
<rect x="427.20" y="436.20" width="1.40" height="3.30" fill="#829bd8"/>
<rect x="428.60" y="436.20" width="1.80" height="3.30" fill="#f7895a"/>
<rect x="430.40" y="436.20" width="1.60" height="3.30" fill="#17be9a"/>
<rect x="427.20" y="441.35" width="2.50" height="3.30" fill="#829bd8"/>
<rect x="429.70" y="441.35" width="2.70" height="3.30" fill="#f7895a"/>
<rect x="432.40" y="441.35" width="2.50" height="3.30" fill="#17be9a"/>
<rect x="427.20" y="446.50" width="5.50" height="3.30" fill="#829bd8"/>
<rect x="432.70" y="446.50" width="6.10" height="3.30" fill="#f7895a"/>
<rect x="438.80" y="446.50" width="3.00" height="3.30" fill="#17be9a"/>
<rect x="427.20" y="451.65" width="13.90" height="3.30" fill="#829bd8"/>
<rect x="441.10" y="451.65" width="14.10" height="3.30" fill="#f7895a"/>
<rect x="455.20" y="451.65" width="9.30" height="3.30" fill="#17be9a"/>
<rect x="427.20" y="456.80" width="7.00" height="3.30" fill="#829bd8"/>
<rect x="434.20" y="456.80" width="6.90" height="3.30" fill="#f7895a"/>
<rect x="441.10" y="456.80" width="6.10" height="3.30" fill="#17be9a"/>
<rect x="427.20" y="461.95" width="13.90" height="3.30" fill="#829bd8"/>
<rect x="441.10" y="461.95" width="14.80" height="3.30" fill="#f7895a"/>
<rect x="455.90" y="461.95" width="17.70" height="3.30" fill="#17be9a"/>
<rect x="427.20" y="467.10" width="0.90" height="3.30" fill="#829bd8"/>
<rect x="428.10" y="467.10" width="0.90" height="3.30" fill="#f7895a"/>
<rect x="429.00" y="467.10" width="1.10" height="3.30" fill="#17be9a"/>
<rect x="427.20" y="472.25" width="0.70" height="3.30" fill="#829bd8"/>
<rect x="427.90" y="472.25" width="1.10" height="3.30" fill="#f7895a"/>
<rect x="427.20" y="477.40" width="45.80" height="3.30" fill="#829bd8"/>
<rect x="473.00" y="477.40" width="47.10" height="3.30" fill="#f7895a"/>
<rect x="520.10" y="477.40" width="23.50" height="3.30" fill="#17be9a"/>
<rect x="427.20" y="482.55" width="1.40" height="3.30" fill="#829bd8"/>
<rect x="428.60" y="482.55" width="1.80" height="3.30" fill="#f7895a"/>
<rect x="430.40" y="482.55" width="1.60" height="3.30" fill="#17be9a"/>
<rect x="427.20" y="487.70" width="5.90" height="3.30" fill="#829bd8"/>
<rect x="433.10" y="487.70" width="6.80" height="3.30" fill="#f7895a"/>
<rect x="439.90" y="487.70" width="3.50" height="3.30" fill="#17be9a"/>
<rect x="427.20" y="492.85" width="5.20" height="3.30" fill="#829bd8"/>
<rect x="432.40" y="492.85" width="5.90" height="3.30" fill="#f7895a"/>
<rect x="438.30" y="492.85" width="3.50" height="3.30" fill="#17be9a"/>
<rect x="427.20" y="503.15" width="1.80" height="3.30" fill="#829bd8"/>
<rect x="429.00" y="503.15" width="1.80" height="3.30" fill="#f7895a"/>
<rect x="430.80" y="503.15" width="1.90" height="3.30" fill="#17be9a"/>
<rect x="427.20" y="508.30" width="1.80" height="3.30" fill="#829bd8"/>
<rect x="429.00" y="508.30" width="1.80" height="3.30" fill="#f7895a"/>
<rect x="430.80" y="508.30" width="1.90" height="3.30" fill="#17be9a"/>
<line x1="426.50" y1="275.10" x2="426.50" y2="518.70" stroke="#1a1a1a" stroke-width="1.3"/>
<line x1="425.90" y1="518.00" x2="543.60" y2="518.00" stroke="#1a1a1a" stroke-width="1.5"/>
<line x1="424.50" y1="278.20" x2="426.50" y2="278.20" stroke="#1a1a1a" stroke-width="0.7"/>
<line x1="424.50" y1="283.35" x2="426.50" y2="283.35" stroke="#1a1a1a" stroke-width="0.7"/>
<line x1="424.50" y1="288.50" x2="426.50" y2="288.50" stroke="#1a1a1a" stroke-width="0.7"/>
<line x1="424.50" y1="293.65" x2="426.50" y2="293.65" stroke="#1a1a1a" stroke-width="0.7"/>
<line x1="424.50" y1="298.80" x2="426.50" y2="298.80" stroke="#1a1a1a" stroke-width="0.7"/>
<line x1="424.50" y1="303.95" x2="426.50" y2="303.95" stroke="#1a1a1a" stroke-width="0.7"/>
<line x1="424.50" y1="309.10" x2="426.50" y2="309.10" stroke="#1a1a1a" stroke-width="0.7"/>
<line x1="424.50" y1="314.25" x2="426.50" y2="314.25" stroke="#1a1a1a" stroke-width="0.7"/>
<line x1="424.50" y1="319.40" x2="426.50" y2="319.40" stroke="#1a1a1a" stroke-width="0.7"/>
<line x1="424.50" y1="324.55" x2="426.50" y2="324.55" stroke="#1a1a1a" stroke-width="0.7"/>
<line x1="424.50" y1="329.70" x2="426.50" y2="329.70" stroke="#1a1a1a" stroke-width="0.7"/>
<line x1="424.50" y1="334.85" x2="426.50" y2="334.85" stroke="#1a1a1a" stroke-width="0.7"/>
<line x1="424.50" y1="340.00" x2="426.50" y2="340.00" stroke="#1a1a1a" stroke-width="0.7"/>
<line x1="424.50" y1="345.15" x2="426.50" y2="345.15" stroke="#1a1a1a" stroke-width="0.7"/>
<line x1="424.50" y1="350.30" x2="426.50" y2="350.30" stroke="#1a1a1a" stroke-width="0.7"/>
<line x1="424.50" y1="355.45" x2="426.50" y2="355.45" stroke="#1a1a1a" stroke-width="0.7"/>
<line x1="424.50" y1="360.60" x2="426.50" y2="360.60" stroke="#1a1a1a" stroke-width="0.7"/>
<line x1="424.50" y1="365.75" x2="426.50" y2="365.75" stroke="#1a1a1a" stroke-width="0.7"/>
<line x1="424.50" y1="370.90" x2="426.50" y2="370.90" stroke="#1a1a1a" stroke-width="0.7"/>
<line x1="424.50" y1="376.05" x2="426.50" y2="376.05" stroke="#1a1a1a" stroke-width="0.7"/>
<line x1="424.50" y1="381.20" x2="426.50" y2="381.20" stroke="#1a1a1a" stroke-width="0.7"/>
<line x1="424.50" y1="386.35" x2="426.50" y2="386.35" stroke="#1a1a1a" stroke-width="0.7"/>
<line x1="424.50" y1="391.50" x2="426.50" y2="391.50" stroke="#1a1a1a" stroke-width="0.7"/>
<line x1="424.50" y1="396.65" x2="426.50" y2="396.65" stroke="#1a1a1a" stroke-width="0.7"/>
<line x1="424.50" y1="401.80" x2="426.50" y2="401.80" stroke="#1a1a1a" stroke-width="0.7"/>
<line x1="424.50" y1="406.95" x2="426.50" y2="406.95" stroke="#1a1a1a" stroke-width="0.7"/>
<line x1="424.50" y1="412.10" x2="426.50" y2="412.10" stroke="#1a1a1a" stroke-width="0.7"/>
<line x1="424.50" y1="417.25" x2="426.50" y2="417.25" stroke="#1a1a1a" stroke-width="0.7"/>
<line x1="424.50" y1="422.40" x2="426.50" y2="422.40" stroke="#1a1a1a" stroke-width="0.7"/>
<line x1="424.50" y1="427.55" x2="426.50" y2="427.55" stroke="#1a1a1a" stroke-width="0.7"/>
<line x1="424.50" y1="432.70" x2="426.50" y2="432.70" stroke="#1a1a1a" stroke-width="0.7"/>
<line x1="424.50" y1="437.85" x2="426.50" y2="437.85" stroke="#1a1a1a" stroke-width="0.7"/>
<line x1="424.50" y1="443.00" x2="426.50" y2="443.00" stroke="#1a1a1a" stroke-width="0.7"/>
<line x1="424.50" y1="448.15" x2="426.50" y2="448.15" stroke="#1a1a1a" stroke-width="0.7"/>
<line x1="424.50" y1="453.30" x2="426.50" y2="453.30" stroke="#1a1a1a" stroke-width="0.7"/>
<line x1="424.50" y1="458.45" x2="426.50" y2="458.45" stroke="#1a1a1a" stroke-width="0.7"/>
<line x1="424.50" y1="463.60" x2="426.50" y2="463.60" stroke="#1a1a1a" stroke-width="0.7"/>
<line x1="424.50" y1="468.75" x2="426.50" y2="468.75" stroke="#1a1a1a" stroke-width="0.7"/>
<line x1="424.50" y1="473.90" x2="426.50" y2="473.90" stroke="#1a1a1a" stroke-width="0.7"/>
<line x1="424.50" y1="479.05" x2="426.50" y2="479.05" stroke="#1a1a1a" stroke-width="0.7"/>
<line x1="424.50" y1="484.20" x2="426.50" y2="484.20" stroke="#1a1a1a" stroke-width="0.7"/>
<line x1="424.50" y1="489.35" x2="426.50" y2="489.35" stroke="#1a1a1a" stroke-width="0.7"/>
<line x1="424.50" y1="494.50" x2="426.50" y2="494.50" stroke="#1a1a1a" stroke-width="0.7"/>
<line x1="424.50" y1="499.65" x2="426.50" y2="499.65" stroke="#1a1a1a" stroke-width="0.7"/>
<line x1="424.50" y1="504.80" x2="426.50" y2="504.80" stroke="#1a1a1a" stroke-width="0.7"/>
<line x1="424.50" y1="509.95" x2="426.50" y2="509.95" stroke="#1a1a1a" stroke-width="0.7"/>
<line x1="424.50" y1="515.10" x2="426.50" y2="515.10" stroke="#1a1a1a" stroke-width="0.7"/>
<g transform="translate(423.7,0) scale(0.875,1)">
<text x="0.00" y="279.35" font-size="4.2" text-anchor="end" font-weight="normal" fill="#151515">Carbohydrate metabolism</text>
<text x="0.00" y="284.50" font-size="4.2" text-anchor="end" font-weight="normal" fill="#151515">Energy metabolism</text>
<text x="0.00" y="289.65" font-size="4.2" text-anchor="end" font-weight="normal" fill="#151515">Lipid metabolism</text>
<text x="0.00" y="294.80" font-size="4.2" text-anchor="end" font-weight="normal" fill="#151515">Nucleotide metabolism</text>
<text x="0.00" y="299.95" font-size="4.2" text-anchor="end" font-weight="normal" fill="#151515">Amino acid metabolism</text>
<text x="0.00" y="305.10" font-size="4.2" text-anchor="end" font-weight="normal" fill="#151515">Metabolism of other amino acids</text>
<text x="0.00" y="310.25" font-size="4.2" text-anchor="end" font-weight="normal" fill="#151515">Glycan biosynthesis and metabolism</text>
<text x="0.00" y="315.40" font-size="4.2" text-anchor="end" font-weight="normal" fill="#151515">Metabolism of cofactors and vitamins</text>
<text x="0.00" y="320.55" font-size="4.2" text-anchor="end" font-weight="normal" fill="#151515">Metabolism of terpenoids and polyketides</text>
<text x="0.00" y="325.70" font-size="4.2" text-anchor="end" font-weight="normal" fill="#151515">Biosynthesis of other secondary metabolites</text>
<text x="0.00" y="330.85" font-size="4.2" text-anchor="end" font-weight="normal" fill="#151515">Xenobiotics biodegradation and metabolism</text>
<text x="0.00" y="336.00" font-size="4.2" text-anchor="end" font-weight="normal" fill="#151515">Transcription</text>
<text x="0.00" y="341.15" font-size="4.2" text-anchor="end" font-weight="normal" fill="#151515">Translation</text>
<text x="0.00" y="346.30" font-size="4.2" text-anchor="end" font-weight="normal" fill="#151515">Folding, sorting and degradation</text>
<text x="0.00" y="351.45" font-size="4.2" text-anchor="end" font-weight="normal" fill="#151515">Replication and repair</text>
<text x="0.00" y="356.60" font-size="4.2" text-anchor="end" font-weight="normal" fill="#151515">Information processing in viruses</text>
<text x="0.00" y="361.75" font-size="4.2" text-anchor="end" font-weight="normal" fill="#151515">Membrane transport</text>
<text x="0.00" y="366.90" font-size="4.2" text-anchor="end" font-weight="normal" fill="#151515">Signal transduction</text>
<text x="0.00" y="372.05" font-size="4.2" text-anchor="end" font-weight="normal" fill="#151515">Signaling molecules and interaction</text>
<text x="0.00" y="377.20" font-size="4.2" text-anchor="end" font-weight="normal" fill="#151515">Transport and catabolism</text>
<text x="0.00" y="382.35" font-size="4.2" text-anchor="end" font-weight="normal" fill="#151515">Cell growth and death</text>
<text x="0.00" y="387.50" font-size="4.2" text-anchor="end" font-weight="normal" fill="#151515">Cellular community - eukaryotes</text>
<text x="0.00" y="392.65" font-size="4.2" text-anchor="end" font-weight="normal" fill="#151515">Cellular community - prokaryotes</text>
<text x="0.00" y="397.80" font-size="4.2" text-anchor="end" font-weight="normal" fill="#151515">Cell motility</text>
<text x="0.00" y="402.95" font-size="4.2" text-anchor="end" font-weight="normal" fill="#151515">Immune system</text>
<text x="0.00" y="408.10" font-size="4.2" text-anchor="end" font-weight="normal" fill="#151515">Endocrine system</text>
<text x="0.00" y="413.25" font-size="4.2" text-anchor="end" font-weight="normal" fill="#151515">Circulatory system</text>
<text x="0.00" y="418.40" font-size="4.2" text-anchor="end" font-weight="normal" fill="#151515">Digestive system</text>
<text x="0.00" y="423.55" font-size="4.2" text-anchor="end" font-weight="normal" fill="#151515">Excretory system</text>
<text x="0.00" y="428.70" font-size="4.2" text-anchor="end" font-weight="normal" fill="#151515">Nervous system</text>
<text x="0.00" y="433.85" font-size="4.2" text-anchor="end" font-weight="normal" fill="#151515">Sensory system</text>
<text x="0.00" y="439.00" font-size="4.2" text-anchor="end" font-weight="normal" fill="#151515">Development and regeneration</text>
<text x="0.00" y="444.15" font-size="4.2" text-anchor="end" font-weight="normal" fill="#151515">Aging</text>
<text x="0.00" y="449.30" font-size="4.2" text-anchor="end" font-weight="normal" fill="#151515">Environmental adaptation</text>
<text x="0.00" y="454.45" font-size="4.2" text-anchor="end" font-weight="normal" fill="#151515">Cancer: overview</text>
<text x="0.00" y="459.60" font-size="4.2" text-anchor="end" font-weight="normal" fill="#151515">Cancer: specific types</text>
<text x="0.00" y="464.75" font-size="4.2" text-anchor="end" font-weight="normal" fill="#151515">Infectious disease: viral</text>
<text x="0.00" y="469.90" font-size="4.2" text-anchor="end" font-weight="normal" fill="#151515">Infectious disease: parasitic</text>
<text x="0.00" y="475.05" font-size="4.2" text-anchor="end" font-weight="normal" fill="#151515">Immune disease</text>
<text x="0.00" y="480.20" font-size="4.2" text-anchor="end" font-weight="normal" fill="#151515">Neurodegenerative disease</text>
<text x="0.00" y="485.35" font-size="4.2" text-anchor="end" font-weight="normal" fill="#151515">Substance dependence</text>
<text x="0.00" y="490.50" font-size="4.2" text-anchor="end" font-weight="normal" fill="#151515">Cardiovascular disease</text>
<text x="0.00" y="495.65" font-size="4.2" text-anchor="end" font-weight="normal" fill="#151515">Endocrine and metabolic disease</text>
<text x="0.00" y="500.80" font-size="4.2" text-anchor="end" font-weight="normal" fill="#151515">Drug resistance: antimicrobial</text>
<text x="0.00" y="505.95" font-size="4.2" text-anchor="end" font-weight="normal" fill="#151515">Drug resistance: antineoplastic</text>
<text x="0.00" y="511.10" font-size="4.2" text-anchor="end" font-weight="normal" fill="#151515">Target-based classification: Nuclear receptors</text>
<text x="0.00" y="516.25" font-size="4.2" text-anchor="end" font-weight="normal" fill="#151515">Target-based classification: Ion channels</text>
</g>
<line x1="426.50" y1="518.00" x2="426.50" y2="520.00" stroke="#1a1a1a" stroke-width="0.7"/>
<text transform="translate(426.30,525.9) scale(0.94,1)" font-size="5" text-anchor="middle" fill="#222">0</text>
<line x1="438.60" y1="518.00" x2="438.60" y2="520.00" stroke="#1a1a1a" stroke-width="0.7"/>
<text transform="translate(438.40,525.9) scale(0.94,1)" font-size="5" text-anchor="middle" fill="#222">200</text>
<line x1="450.70" y1="518.00" x2="450.70" y2="520.00" stroke="#1a1a1a" stroke-width="0.7"/>
<text transform="translate(450.50,525.9) scale(0.94,1)" font-size="5" text-anchor="middle" fill="#222">400</text>
<line x1="462.80" y1="518.00" x2="462.80" y2="520.00" stroke="#1a1a1a" stroke-width="0.7"/>
<text transform="translate(462.60,525.9) scale(0.94,1)" font-size="5" text-anchor="middle" fill="#222">600</text>
<line x1="474.90" y1="518.00" x2="474.90" y2="520.00" stroke="#1a1a1a" stroke-width="0.7"/>
<text transform="translate(474.70,525.9) scale(0.94,1)" font-size="5" text-anchor="middle" fill="#222">800</text>
<line x1="487.00" y1="518.00" x2="487.00" y2="520.00" stroke="#1a1a1a" stroke-width="0.7"/>
<text transform="translate(486.80,525.9) scale(0.94,1)" font-size="5" text-anchor="middle" fill="#222">1000</text>
<line x1="499.10" y1="518.00" x2="499.10" y2="520.00" stroke="#1a1a1a" stroke-width="0.7"/>
<text transform="translate(498.90,525.9) scale(0.94,1)" font-size="5" text-anchor="middle" fill="#222">1200</text>
<line x1="511.20" y1="518.00" x2="511.20" y2="520.00" stroke="#1a1a1a" stroke-width="0.7"/>
<text transform="translate(511.00,525.9) scale(0.94,1)" font-size="5" text-anchor="middle" fill="#222">1400</text>
<line x1="523.30" y1="518.00" x2="523.30" y2="520.00" stroke="#1a1a1a" stroke-width="0.7"/>
<text transform="translate(523.10,525.9) scale(0.94,1)" font-size="5" text-anchor="middle" fill="#222">1600</text>
<line x1="535.40" y1="518.00" x2="535.40" y2="520.00" stroke="#1a1a1a" stroke-width="0.7"/>
<text transform="translate(535.20,525.9) scale(0.94,1)" font-size="5" text-anchor="middle" fill="#222">1800</text>
<text x="396.1" y="545.7" font-size="10.2" font-weight="bold" fill="#111" stroke="#111" stroke-width="0.3" textLength="62.8" lengthAdjust="spacingAndGlyphs">Number of Genes</text>
<text x="278.60" y="284.40" font-size="11.5" text-anchor="start" font-weight="normal" fill="#5a1818" stroke="#5a1818" stroke-width="0.25">D</text>
<rect x="498.80" y="277.60" width="42.50" height="18.60" fill="#ffffff" fill-opacity="0.4"/>
<rect x="499.60" y="278.90" width="4.20" height="3.90" fill="#829bd8"/>
<rect x="499.60" y="284.55" width="4.20" height="3.90" fill="#f7895a"/>
<rect x="499.60" y="290.20" width="4.20" height="3.90" fill="#17be9a"/>
<text x="505.30" y="281.90" font-size="3.1" text-anchor="start" font-weight="normal" fill="#333" stroke="#333" stroke-width="0.06">MSG_V1 Annotation</text>
<text x="505.30" y="287.55" font-size="3.1" text-anchor="start" font-weight="normal" fill="#333" stroke="#333" stroke-width="0.06">MSG_V2 Annotation</text>
<text x="505.30" y="293.20" font-size="3.1" text-anchor="start" font-weight="normal" fill="#333" stroke="#333" stroke-width="0.06">Transcriptome Annotation</text>
<line x1="341.40" y1="275.60" x2="341.40" y2="517.80" stroke="#333" stroke-width="0.6"/>
<line x1="341.40" y1="275.60" x2="379.50" y2="275.60" stroke="#333" stroke-width="0.6"/>
<line x1="341.40" y1="327.80" x2="361.00" y2="327.80" stroke="#333" stroke-width="0.6"/>
<line x1="341.40" y1="358.40" x2="385.00" y2="358.40" stroke="#333" stroke-width="0.6"/>
<line x1="341.40" y1="374.20" x2="385.00" y2="374.20" stroke="#333" stroke-width="0.6"/>
<line x1="341.40" y1="399.60" x2="390.80" y2="399.60" stroke="#333" stroke-width="0.6"/>
<line x1="341.40" y1="450.00" x2="388.00" y2="450.00" stroke="#333" stroke-width="0.6"/>
<line x1="341.40" y1="506.20" x2="357.00" y2="506.20" stroke="#333" stroke-width="0.6"/>
<line x1="341.40" y1="517.80" x2="379.50" y2="517.80" stroke="#333" stroke-width="0.6"/>
<text x="318.20" y="302.30" font-size="6.5" font-weight="bold" fill="#111" stroke="#111" stroke-width="0.2" textLength="20.6" lengthAdjust="spacingAndGlyphs">Metabolism</text>
<text x="277.50" y="345.90" font-size="6.5" font-weight="bold" fill="#111" stroke="#111" stroke-width="0.2" textLength="61.3" lengthAdjust="spacingAndGlyphs">Environmental Information Processing</text>
<text x="283.70" y="369.20" font-size="6.5" font-weight="bold" fill="#111" stroke="#111" stroke-width="0.2" textLength="55.1" lengthAdjust="spacingAndGlyphs">Genetic Information Processing</text>
<text x="306.20" y="388.90" font-size="6.5" font-weight="bold" fill="#111" stroke="#111" stroke-width="0.2" textLength="32.6" lengthAdjust="spacingAndGlyphs">Cellular Processes</text>
<text x="302.20" y="425.70" font-size="6.5" font-weight="bold" fill="#111" stroke="#111" stroke-width="0.2" textLength="36.6" lengthAdjust="spacingAndGlyphs">Organismal Systems</text>
<text x="309.70" y="480.20" font-size="6.5" font-weight="bold" fill="#111" stroke="#111" stroke-width="0.2" textLength="29.1" lengthAdjust="spacingAndGlyphs">Human Diseases</text>
<text x="305.70" y="513.60" font-size="6.5" font-weight="bold" fill="#111" stroke="#111" stroke-width="0.2" textLength="33.1" lengthAdjust="spacingAndGlyphs">Drug Development</text>
</svg></body></html>
